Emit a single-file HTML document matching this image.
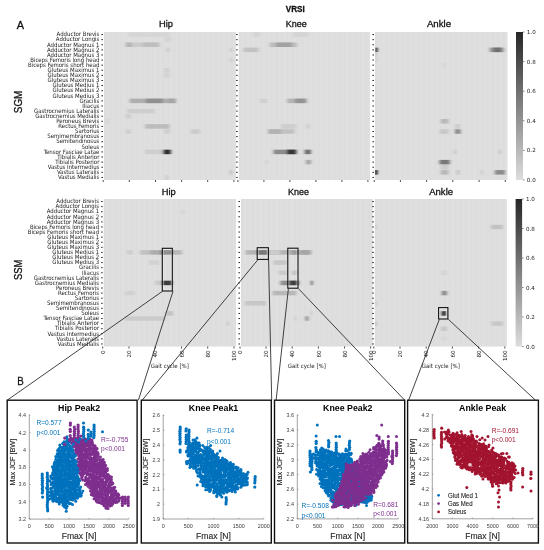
<!DOCTYPE html><html><head><meta charset="utf-8"><style>html,body{margin:0;padding:0;background:#fff;width:544px;height:550px;overflow:hidden}svg{display:block}</style></head><body><svg width="544" height="550" viewBox="0 0 544 550">
<defs><filter id="blur" x="-20%" y="-50%" width="140%" height="200%"><feGaussianBlur stdDeviation="1.8 0.6"/></filter><filter id="blur2" x="-50%" y="-50%" width="200%" height="200%"><feGaussianBlur stdDeviation="0.8 0.6"/></filter><linearGradient id="cbg" x1="0" y1="0" x2="0" y2="1"><stop offset="0" stop-color="rgb(38,38,38)"/><stop offset="1" stop-color="rgb(221,221,221)"/></linearGradient></defs>
<rect width="544" height="550" fill="#fff"/>
<text x="16.8" y="28.7" font-family="'Liberation Sans', Arial, sans-serif" font-size="11.8" fill="#111" stroke="#111" stroke-width="0.3" textLength="7.3" lengthAdjust="spacingAndGlyphs">A</text>
<text x="285.8" y="11.6" font-family="'Liberation Sans', Arial, sans-serif" font-size="9.7" font-weight="bold" fill="#111" stroke="#111" stroke-width="0.3" textLength="19" lengthAdjust="spacingAndGlyphs">VRSI</text>
<clipPath id="tc0"><rect x="104.0" y="32.0" width="132.00" height="148.00"/></clipPath>
<rect x="104.0" y="32.0" width="132.00" height="148.00" fill="rgb(221,221,221)"/>
<g fill="rgb(226,226,226)" opacity="0.5"><rect x="106.64" y="32.0" width="2.64" height="148.00"/><rect x="111.92" y="32.0" width="2.64" height="148.00"/><rect x="117.20" y="32.0" width="2.64" height="148.00"/><rect x="122.48" y="32.0" width="2.64" height="148.00"/><rect x="127.76" y="32.0" width="2.64" height="148.00"/><rect x="133.04" y="32.0" width="2.64" height="148.00"/><rect x="138.32" y="32.0" width="2.64" height="148.00"/><rect x="143.60" y="32.0" width="2.64" height="148.00"/><rect x="148.88" y="32.0" width="2.64" height="148.00"/><rect x="154.16" y="32.0" width="2.64" height="148.00"/><rect x="159.44" y="32.0" width="2.64" height="148.00"/><rect x="164.72" y="32.0" width="2.64" height="148.00"/><rect x="170.00" y="32.0" width="2.64" height="148.00"/><rect x="175.28" y="32.0" width="2.64" height="148.00"/><rect x="180.56" y="32.0" width="2.64" height="148.00"/><rect x="185.84" y="32.0" width="2.64" height="148.00"/><rect x="191.12" y="32.0" width="2.64" height="148.00"/><rect x="196.40" y="32.0" width="2.64" height="148.00"/><rect x="201.68" y="32.0" width="2.64" height="148.00"/><rect x="206.96" y="32.0" width="2.64" height="148.00"/><rect x="212.24" y="32.0" width="2.64" height="148.00"/><rect x="217.52" y="32.0" width="2.64" height="148.00"/><rect x="222.80" y="32.0" width="2.64" height="148.00"/><rect x="228.08" y="32.0" width="2.64" height="148.00"/><rect x="233.36" y="32.0" width="2.64" height="148.00"/></g>
<g clip-path="url(#tc0)" filter="url(#blur)">
<rect x="128.0" y="32.30" width="42.0" height="4.50" fill="rgb(214,214,214)"/>
<rect x="165.6" y="37.40" width="5.2" height="4.50" fill="rgb(210,210,210)"/>
<rect x="125.7" y="42.51" width="34.3" height="4.50" fill="rgb(203,203,203)"/>
<rect x="125.7" y="42.51" width="6.3" height="4.50" fill="rgb(181,181,181)"/>
<rect x="143.0" y="42.51" width="15.0" height="4.50" fill="rgb(190,190,190)"/>
<rect x="164.0" y="68.02" width="5.5" height="4.50" fill="rgb(208,208,208)"/>
<rect x="164.0" y="73.13" width="5.5" height="4.50" fill="rgb(210,210,210)"/>
<rect x="129.6" y="98.64" width="46.4" height="4.50" fill="rgb(175,175,175)"/>
<rect x="146.0" y="98.64" width="17.0" height="4.50" fill="rgb(144,144,144)"/>
<rect x="168.0" y="98.64" width="8.0" height="4.50" fill="rgb(166,166,166)"/>
<rect x="127.0" y="108.85" width="28.0" height="4.50" fill="rgb(206,206,206)"/>
<rect x="125.7" y="113.96" width="5.3" height="4.50" fill="rgb(206,206,206)"/>
<rect x="145.0" y="124.16" width="24.5" height="4.50" fill="rgb(188,188,188)"/>
<rect x="125.7" y="129.27" width="5.3" height="4.50" fill="rgb(206,206,206)"/>
<rect x="164.0" y="129.27" width="6.0" height="4.50" fill="rgb(206,206,206)"/>
<rect x="191.0" y="129.27" width="9.0" height="4.50" fill="rgb(203,203,203)"/>
<rect x="163.0" y="149.68" width="7.8" height="4.50" fill="rgb(47,47,47)"/>
<rect x="145.0" y="149.68" width="18.0" height="4.50" fill="rgb(206,206,206)"/>
</g>
<g clip-path="url(#tc0)" filter="url(#blur2)">
<rect x="165.6" y="47.61" width="4.4" height="4.50" fill="rgb(210,210,210)"/>
<rect x="229.0" y="47.61" width="4.0" height="4.50" fill="rgb(210,210,210)"/>
<rect x="229.0" y="57.82" width="4.0" height="4.50" fill="rgb(212,212,212)"/>
<rect x="106.0" y="119.06" width="3.0" height="4.50" fill="rgb(212,212,212)"/>
<rect x="229.0" y="170.09" width="4.0" height="4.50" fill="rgb(203,203,203)"/>
<rect x="165.0" y="175.20" width="4.0" height="4.50" fill="rgb(210,210,210)"/>
</g>
<path d="M101.4 34.55h1.6 M101.4 39.66h1.6 M101.4 44.76h1.6 M101.4 49.86h1.6 M101.4 54.97h1.6 M101.4 60.07h1.6 M101.4 65.17h1.6 M101.4 70.28h1.6 M101.4 75.38h1.6 M101.4 80.48h1.6 M101.4 85.59h1.6 M101.4 90.69h1.6 M101.4 95.79h1.6 M101.4 100.90h1.6 M101.4 106.00h1.6 M101.4 111.10h1.6 M101.4 116.21h1.6 M101.4 121.31h1.6 M101.4 126.41h1.6 M101.4 131.52h1.6 M101.4 136.62h1.6 M101.4 141.72h1.6 M101.4 146.83h1.6 M101.4 151.93h1.6 M101.4 157.03h1.6 M101.4 162.14h1.6 M101.4 167.24h1.6 M101.4 172.34h1.6 M101.4 177.45h1.6" stroke="#111" stroke-width="0.9" fill="none"/>
<clipPath id="tc1"><rect x="238.7" y="32.0" width="131.30" height="148.00"/></clipPath>
<rect x="238.7" y="32.0" width="131.30" height="148.00" fill="rgb(221,221,221)"/>
<g fill="rgb(226,226,226)" opacity="0.5"><rect x="241.33" y="32.0" width="2.63" height="148.00"/><rect x="246.58" y="32.0" width="2.63" height="148.00"/><rect x="251.83" y="32.0" width="2.63" height="148.00"/><rect x="257.08" y="32.0" width="2.63" height="148.00"/><rect x="262.33" y="32.0" width="2.63" height="148.00"/><rect x="267.59" y="32.0" width="2.63" height="148.00"/><rect x="272.84" y="32.0" width="2.63" height="148.00"/><rect x="278.09" y="32.0" width="2.63" height="148.00"/><rect x="283.34" y="32.0" width="2.63" height="148.00"/><rect x="288.59" y="32.0" width="2.63" height="148.00"/><rect x="293.85" y="32.0" width="2.63" height="148.00"/><rect x="299.10" y="32.0" width="2.63" height="148.00"/><rect x="304.35" y="32.0" width="2.63" height="148.00"/><rect x="309.60" y="32.0" width="2.63" height="148.00"/><rect x="314.85" y="32.0" width="2.63" height="148.00"/><rect x="320.11" y="32.0" width="2.63" height="148.00"/><rect x="325.36" y="32.0" width="2.63" height="148.00"/><rect x="330.61" y="32.0" width="2.63" height="148.00"/><rect x="335.86" y="32.0" width="2.63" height="148.00"/><rect x="341.11" y="32.0" width="2.63" height="148.00"/><rect x="346.37" y="32.0" width="2.63" height="148.00"/><rect x="351.62" y="32.0" width="2.63" height="148.00"/><rect x="356.87" y="32.0" width="2.63" height="148.00"/><rect x="362.12" y="32.0" width="2.63" height="148.00"/><rect x="367.37" y="32.0" width="2.63" height="148.00"/></g>
<g clip-path="url(#tc1)" filter="url(#blur)">
<rect x="253.5" y="32.30" width="6.2" height="4.50" fill="rgb(210,210,210)"/>
<rect x="293.5" y="32.30" width="15.0" height="4.50" fill="rgb(212,212,212)"/>
<rect x="269.7" y="42.51" width="27.3" height="4.50" fill="rgb(188,188,188)"/>
<rect x="276.0" y="42.51" width="16.0" height="4.50" fill="rgb(162,162,162)"/>
<rect x="243.5" y="47.61" width="15.0" height="4.50" fill="rgb(194,194,194)"/>
<rect x="287.0" y="98.64" width="20.0" height="4.50" fill="rgb(181,181,181)"/>
<rect x="294.7" y="98.64" width="11.3" height="4.50" fill="rgb(148,148,148)"/>
<rect x="259.7" y="98.64" width="7.3" height="4.50" fill="rgb(208,208,208)"/>
<rect x="281.0" y="124.16" width="15.0" height="4.50" fill="rgb(206,206,206)"/>
<rect x="268.5" y="129.27" width="26.2" height="4.50" fill="rgb(194,194,194)"/>
<rect x="268.0" y="129.27" width="13.0" height="4.50" fill="rgb(177,177,177)"/>
<rect x="273.5" y="149.68" width="23.5" height="4.50" fill="rgb(139,139,139)"/>
<rect x="287.0" y="149.68" width="9.0" height="4.50" fill="rgb(53,53,53)"/>
<rect x="304.7" y="149.68" width="6.3" height="4.50" fill="rgb(111,111,111)"/>
<rect x="306.0" y="159.89" width="5.0" height="4.50" fill="rgb(166,166,166)"/>
</g>
<g clip-path="url(#tc1)" filter="url(#blur2)">
<rect x="306.0" y="124.16" width="4.0" height="4.50" fill="rgb(210,210,210)"/>
<rect x="265.0" y="159.89" width="3.0" height="4.50" fill="rgb(212,212,212)"/>
</g>
<path d="M236.1 34.55h1.6 M236.1 39.66h1.6 M236.1 44.76h1.6 M236.1 49.86h1.6 M236.1 54.97h1.6 M236.1 60.07h1.6 M236.1 65.17h1.6 M236.1 70.28h1.6 M236.1 75.38h1.6 M236.1 80.48h1.6 M236.1 85.59h1.6 M236.1 90.69h1.6 M236.1 95.79h1.6 M236.1 100.90h1.6 M236.1 106.00h1.6 M236.1 111.10h1.6 M236.1 116.21h1.6 M236.1 121.31h1.6 M236.1 126.41h1.6 M236.1 131.52h1.6 M236.1 136.62h1.6 M236.1 141.72h1.6 M236.1 146.83h1.6 M236.1 151.93h1.6 M236.1 157.03h1.6 M236.1 162.14h1.6 M236.1 167.24h1.6 M236.1 172.34h1.6 M236.1 177.45h1.6" stroke="#111" stroke-width="0.9" fill="none"/>
<clipPath id="tc2"><rect x="375.0" y="32.0" width="132.40" height="148.00"/></clipPath>
<rect x="375.0" y="32.0" width="132.40" height="148.00" fill="rgb(221,221,221)"/>
<g fill="rgb(226,226,226)" opacity="0.5"><rect x="377.65" y="32.0" width="2.65" height="148.00"/><rect x="382.94" y="32.0" width="2.65" height="148.00"/><rect x="388.24" y="32.0" width="2.65" height="148.00"/><rect x="393.54" y="32.0" width="2.65" height="148.00"/><rect x="398.83" y="32.0" width="2.65" height="148.00"/><rect x="404.13" y="32.0" width="2.65" height="148.00"/><rect x="409.42" y="32.0" width="2.65" height="148.00"/><rect x="414.72" y="32.0" width="2.65" height="148.00"/><rect x="420.02" y="32.0" width="2.65" height="148.00"/><rect x="425.31" y="32.0" width="2.65" height="148.00"/><rect x="430.61" y="32.0" width="2.65" height="148.00"/><rect x="435.90" y="32.0" width="2.65" height="148.00"/><rect x="441.20" y="32.0" width="2.65" height="148.00"/><rect x="446.50" y="32.0" width="2.65" height="148.00"/><rect x="451.79" y="32.0" width="2.65" height="148.00"/><rect x="457.09" y="32.0" width="2.65" height="148.00"/><rect x="462.38" y="32.0" width="2.65" height="148.00"/><rect x="467.68" y="32.0" width="2.65" height="148.00"/><rect x="472.98" y="32.0" width="2.65" height="148.00"/><rect x="478.27" y="32.0" width="2.65" height="148.00"/><rect x="483.57" y="32.0" width="2.65" height="148.00"/><rect x="488.86" y="32.0" width="2.65" height="148.00"/><rect x="494.16" y="32.0" width="2.65" height="148.00"/><rect x="499.46" y="32.0" width="2.65" height="148.00"/><rect x="504.75" y="32.0" width="2.65" height="148.00"/></g>
<g clip-path="url(#tc2)" filter="url(#blur)">
<rect x="489.7" y="47.61" width="14.1" height="4.50" fill="rgb(148,148,148)"/>
<rect x="493.5" y="47.61" width="7.5" height="4.50" fill="rgb(111,111,111)"/>
<rect x="440.8" y="119.06" width="7.7" height="4.50" fill="rgb(184,184,184)"/>
<rect x="455.0" y="124.16" width="5.0" height="4.50" fill="rgb(203,203,203)"/>
<rect x="439.5" y="129.27" width="9.0" height="4.50" fill="rgb(199,199,199)"/>
<rect x="455.0" y="129.27" width="5.6" height="4.50" fill="rgb(139,139,139)"/>
<rect x="439.5" y="159.89" width="10.3" height="4.50" fill="rgb(120,120,120)"/>
<rect x="440.8" y="164.99" width="7.7" height="4.50" fill="rgb(203,203,203)"/>
<rect x="440.8" y="170.09" width="7.7" height="4.50" fill="rgb(184,184,184)"/>
<rect x="494.8" y="170.09" width="10.2" height="4.50" fill="rgb(139,139,139)"/>
</g>
<g clip-path="url(#tc2)" filter="url(#blur2)">
<rect x="375.3" y="47.61" width="2.4" height="4.50" fill="rgb(53,53,53)"/>
<rect x="375.0" y="52.71" width="2.0" height="4.50" fill="rgb(203,203,203)"/>
<rect x="375.0" y="57.82" width="2.0" height="4.50" fill="rgb(206,206,206)"/>
<rect x="443.0" y="62.92" width="3.0" height="4.50" fill="rgb(214,214,214)"/>
<rect x="453.0" y="149.68" width="4.0" height="4.50" fill="rgb(208,208,208)"/>
<rect x="498.0" y="149.68" width="4.0" height="4.50" fill="rgb(208,208,208)"/>
<rect x="456.0" y="170.09" width="4.0" height="4.50" fill="rgb(203,203,203)"/>
<rect x="480.0" y="170.09" width="4.0" height="4.50" fill="rgb(212,212,212)"/>
<rect x="374.5" y="170.09" width="3.2" height="4.50" fill="rgb(47,47,47)"/>
</g>
<path d="M372.4 34.55h1.6 M372.4 39.66h1.6 M372.4 44.76h1.6 M372.4 49.86h1.6 M372.4 54.97h1.6 M372.4 60.07h1.6 M372.4 65.17h1.6 M372.4 70.28h1.6 M372.4 75.38h1.6 M372.4 80.48h1.6 M372.4 85.59h1.6 M372.4 90.69h1.6 M372.4 95.79h1.6 M372.4 100.90h1.6 M372.4 106.00h1.6 M372.4 111.10h1.6 M372.4 116.21h1.6 M372.4 121.31h1.6 M372.4 126.41h1.6 M372.4 131.52h1.6 M372.4 136.62h1.6 M372.4 141.72h1.6 M372.4 146.83h1.6 M372.4 151.93h1.6 M372.4 157.03h1.6 M372.4 162.14h1.6 M372.4 167.24h1.6 M372.4 172.34h1.6 M372.4 177.45h1.6" stroke="#111" stroke-width="0.9" fill="none"/>
<g font-family="'DejaVu Sans Condensed', 'DejaVu Sans', sans-serif" font-size="6.0" fill="#1a1a1a" text-anchor="end"><text x="99.4" y="36.30">Adductor Brevis</text><text x="99.4" y="41.41">Adductor Longis</text><text x="99.4" y="46.51">Adductor Magnus 1</text><text x="99.4" y="51.61">Adductor Magnus 2</text><text x="99.4" y="56.72">Adductor Magnus 3</text><text x="99.4" y="61.82">Biceps Femoris long head</text><text x="99.4" y="66.92">Biceps Femoris short head</text><text x="99.4" y="72.03">Gluteus Maximus 1</text><text x="99.4" y="77.13">Gluteus Maximus 2</text><text x="99.4" y="82.23">Gluteus Maximus 3</text><text x="99.4" y="87.34">Gluteus Medius 1</text><text x="99.4" y="92.44">Gluteus Medius 2</text><text x="99.4" y="97.54">Gluteus Medius 3</text><text x="99.4" y="102.65">Gracilis</text><text x="99.4" y="107.75">Iliacus</text><text x="99.4" y="112.85">Gastrocnemius Lateralis</text><text x="99.4" y="117.96">Gastrocnemius Medialis</text><text x="99.4" y="123.06">Peroneus Brevis</text><text x="99.4" y="128.16">Rectus Femoris</text><text x="99.4" y="133.27">Sartorius</text><text x="99.4" y="138.37">Semimembranosus</text><text x="99.4" y="143.47">Semitendinosus</text><text x="99.4" y="148.58">Soleus</text><text x="99.4" y="153.68">Tensor Fasciae Latae</text><text x="99.4" y="158.78">Tibialis Anterior</text><text x="99.4" y="163.89">Tibialis Posterior</text><text x="99.4" y="168.99">Vastus Intermedius</text><text x="99.4" y="174.09">Vastus Lateralis</text><text x="99.4" y="179.20">Vastus Medialis</text></g>
<clipPath id="bc0"><rect x="103.7" y="199.0" width="132.30" height="147.50"/></clipPath>
<rect x="103.7" y="199.0" width="132.30" height="147.50" fill="rgb(221,221,221)"/>
<g fill="rgb(226,226,226)" opacity="0.5"><rect x="106.35" y="199.0" width="2.65" height="147.50"/><rect x="111.64" y="199.0" width="2.65" height="147.50"/><rect x="116.93" y="199.0" width="2.65" height="147.50"/><rect x="122.22" y="199.0" width="2.65" height="147.50"/><rect x="127.51" y="199.0" width="2.65" height="147.50"/><rect x="132.81" y="199.0" width="2.65" height="147.50"/><rect x="138.10" y="199.0" width="2.65" height="147.50"/><rect x="143.39" y="199.0" width="2.65" height="147.50"/><rect x="148.68" y="199.0" width="2.65" height="147.50"/><rect x="153.97" y="199.0" width="2.65" height="147.50"/><rect x="159.27" y="199.0" width="2.65" height="147.50"/><rect x="164.56" y="199.0" width="2.65" height="147.50"/><rect x="169.85" y="199.0" width="2.65" height="147.50"/><rect x="175.14" y="199.0" width="2.65" height="147.50"/><rect x="180.43" y="199.0" width="2.65" height="147.50"/><rect x="185.73" y="199.0" width="2.65" height="147.50"/><rect x="191.02" y="199.0" width="2.65" height="147.50"/><rect x="196.31" y="199.0" width="2.65" height="147.50"/><rect x="201.60" y="199.0" width="2.65" height="147.50"/><rect x="206.89" y="199.0" width="2.65" height="147.50"/><rect x="212.19" y="199.0" width="2.65" height="147.50"/><rect x="217.48" y="199.0" width="2.65" height="147.50"/><rect x="222.77" y="199.0" width="2.65" height="147.50"/><rect x="228.06" y="199.0" width="2.65" height="147.50"/><rect x="233.35" y="199.0" width="2.65" height="147.50"/></g>
<g clip-path="url(#bc0)" filter="url(#blur)">
<rect x="126.8" y="250.16" width="6.2" height="4.49" fill="rgb(206,206,206)"/>
<rect x="140.0" y="250.16" width="10.0" height="4.49" fill="rgb(194,194,194)"/>
<rect x="150.0" y="250.16" width="12.0" height="4.49" fill="rgb(172,172,172)"/>
<rect x="160.0" y="250.16" width="13.0" height="4.49" fill="rgb(144,144,144)"/>
<rect x="173.0" y="250.16" width="9.0" height="4.49" fill="rgb(184,184,184)"/>
<rect x="149.0" y="260.33" width="10.0" height="4.49" fill="rgb(210,210,210)"/>
<rect x="162.0" y="280.68" width="10.0" height="4.49" fill="rgb(60,60,60)"/>
<rect x="155.0" y="280.68" width="7.0" height="4.49" fill="rgb(203,203,203)"/>
<rect x="125.0" y="290.85" width="10.0" height="4.49" fill="rgb(210,210,210)"/>
<rect x="166.0" y="311.20" width="7.0" height="4.49" fill="rgb(194,194,194)"/>
<rect x="125.0" y="316.28" width="40.0" height="4.49" fill="rgb(203,203,203)"/>
</g>
<g clip-path="url(#bc0)" filter="url(#blur2)">
<rect x="226.0" y="321.37" width="4.0" height="4.49" fill="rgb(210,210,210)"/>
<rect x="181.0" y="209.47" width="4.0" height="4.49" fill="rgb(214,214,214)"/>
</g>
<path d="M101.1 201.54h1.6 M101.1 206.63h1.6 M101.1 211.72h1.6 M101.1 216.80h1.6 M101.1 221.89h1.6 M101.1 226.97h1.6 M101.1 232.06h1.6 M101.1 237.15h1.6 M101.1 242.23h1.6 M101.1 247.32h1.6 M101.1 252.41h1.6 M101.1 257.49h1.6 M101.1 262.58h1.6 M101.1 267.66h1.6 M101.1 272.75h1.6 M101.1 277.84h1.6 M101.1 282.92h1.6 M101.1 288.01h1.6 M101.1 293.09h1.6 M101.1 298.18h1.6 M101.1 303.27h1.6 M101.1 308.35h1.6 M101.1 313.44h1.6 M101.1 318.53h1.6 M101.1 323.61h1.6 M101.1 328.70h1.6 M101.1 333.78h1.6 M101.1 338.87h1.6 M101.1 343.96h1.6" stroke="#111" stroke-width="0.9" fill="none"/>
<clipPath id="bc1"><rect x="241.0" y="199.0" width="131.60" height="147.50"/></clipPath>
<rect x="241.0" y="199.0" width="131.60" height="147.50" fill="rgb(221,221,221)"/>
<g fill="rgb(226,226,226)" opacity="0.5"><rect x="243.63" y="199.0" width="2.63" height="147.50"/><rect x="248.90" y="199.0" width="2.63" height="147.50"/><rect x="254.16" y="199.0" width="2.63" height="147.50"/><rect x="259.42" y="199.0" width="2.63" height="147.50"/><rect x="264.69" y="199.0" width="2.63" height="147.50"/><rect x="269.95" y="199.0" width="2.63" height="147.50"/><rect x="275.22" y="199.0" width="2.63" height="147.50"/><rect x="280.48" y="199.0" width="2.63" height="147.50"/><rect x="285.74" y="199.0" width="2.63" height="147.50"/><rect x="291.01" y="199.0" width="2.63" height="147.50"/><rect x="296.27" y="199.0" width="2.63" height="147.50"/><rect x="301.54" y="199.0" width="2.63" height="147.50"/><rect x="306.80" y="199.0" width="2.63" height="147.50"/><rect x="312.06" y="199.0" width="2.63" height="147.50"/><rect x="317.33" y="199.0" width="2.63" height="147.50"/><rect x="322.59" y="199.0" width="2.63" height="147.50"/><rect x="327.86" y="199.0" width="2.63" height="147.50"/><rect x="333.12" y="199.0" width="2.63" height="147.50"/><rect x="338.38" y="199.0" width="2.63" height="147.50"/><rect x="343.65" y="199.0" width="2.63" height="147.50"/><rect x="348.91" y="199.0" width="2.63" height="147.50"/><rect x="354.18" y="199.0" width="2.63" height="147.50"/><rect x="359.44" y="199.0" width="2.63" height="147.50"/><rect x="364.70" y="199.0" width="2.63" height="147.50"/><rect x="369.97" y="199.0" width="2.63" height="147.50"/></g>
<g clip-path="url(#bc1)" filter="url(#blur)">
<rect x="245.6" y="250.16" width="66.0" height="4.49" fill="rgb(181,181,181)"/>
<rect x="257.5" y="250.16" width="10.5" height="4.49" fill="rgb(120,120,120)"/>
<rect x="268.0" y="250.16" width="12.0" height="4.49" fill="rgb(203,203,203)"/>
<rect x="291.0" y="250.16" width="7.0" height="4.49" fill="rgb(157,157,157)"/>
<rect x="300.0" y="250.16" width="10.0" height="4.49" fill="rgb(166,166,166)"/>
<rect x="273.5" y="260.33" width="13.5" height="4.49" fill="rgb(199,199,199)"/>
<rect x="278.6" y="270.51" width="8.4" height="4.49" fill="rgb(203,203,203)"/>
<rect x="292.0" y="270.51" width="5.0" height="4.49" fill="rgb(194,194,194)"/>
<rect x="280.3" y="280.68" width="19.1" height="4.49" fill="rgb(144,144,144)"/>
<rect x="289.5" y="280.68" width="7.5" height="4.49" fill="rgb(60,60,60)"/>
<rect x="272.7" y="290.85" width="23.7" height="4.49" fill="rgb(184,184,184)"/>
<rect x="244.8" y="301.02" width="21.2" height="4.49" fill="rgb(199,199,199)"/>
</g>
<g clip-path="url(#bc1)" filter="url(#blur2)">
<rect x="310.3" y="280.68" width="3.0" height="4.49" fill="rgb(148,148,148)"/>
<rect x="310.0" y="311.20" width="3.0" height="4.49" fill="rgb(210,210,210)"/>
<rect x="304.8" y="316.28" width="4.2" height="4.49" fill="rgb(166,166,166)"/>
<rect x="294.0" y="316.28" width="3.0" height="4.49" fill="rgb(210,210,210)"/>
</g>
<path d="M238.4 201.54h1.6 M238.4 206.63h1.6 M238.4 211.72h1.6 M238.4 216.80h1.6 M238.4 221.89h1.6 M238.4 226.97h1.6 M238.4 232.06h1.6 M238.4 237.15h1.6 M238.4 242.23h1.6 M238.4 247.32h1.6 M238.4 252.41h1.6 M238.4 257.49h1.6 M238.4 262.58h1.6 M238.4 267.66h1.6 M238.4 272.75h1.6 M238.4 277.84h1.6 M238.4 282.92h1.6 M238.4 288.01h1.6 M238.4 293.09h1.6 M238.4 298.18h1.6 M238.4 303.27h1.6 M238.4 308.35h1.6 M238.4 313.44h1.6 M238.4 318.53h1.6 M238.4 323.61h1.6 M238.4 328.70h1.6 M238.4 333.78h1.6 M238.4 338.87h1.6 M238.4 343.96h1.6" stroke="#111" stroke-width="0.9" fill="none"/>
<clipPath id="bc2"><rect x="374.8" y="199.0" width="132.00" height="147.50"/></clipPath>
<rect x="374.8" y="199.0" width="132.00" height="147.50" fill="rgb(221,221,221)"/>
<g fill="rgb(226,226,226)" opacity="0.5"><rect x="377.44" y="199.0" width="2.64" height="147.50"/><rect x="382.72" y="199.0" width="2.64" height="147.50"/><rect x="388.00" y="199.0" width="2.64" height="147.50"/><rect x="393.28" y="199.0" width="2.64" height="147.50"/><rect x="398.56" y="199.0" width="2.64" height="147.50"/><rect x="403.84" y="199.0" width="2.64" height="147.50"/><rect x="409.12" y="199.0" width="2.64" height="147.50"/><rect x="414.40" y="199.0" width="2.64" height="147.50"/><rect x="419.68" y="199.0" width="2.64" height="147.50"/><rect x="424.96" y="199.0" width="2.64" height="147.50"/><rect x="430.24" y="199.0" width="2.64" height="147.50"/><rect x="435.52" y="199.0" width="2.64" height="147.50"/><rect x="440.80" y="199.0" width="2.64" height="147.50"/><rect x="446.08" y="199.0" width="2.64" height="147.50"/><rect x="451.36" y="199.0" width="2.64" height="147.50"/><rect x="456.64" y="199.0" width="2.64" height="147.50"/><rect x="461.92" y="199.0" width="2.64" height="147.50"/><rect x="467.20" y="199.0" width="2.64" height="147.50"/><rect x="472.48" y="199.0" width="2.64" height="147.50"/><rect x="477.76" y="199.0" width="2.64" height="147.50"/><rect x="483.04" y="199.0" width="2.64" height="147.50"/><rect x="488.32" y="199.0" width="2.64" height="147.50"/><rect x="493.60" y="199.0" width="2.64" height="147.50"/><rect x="498.88" y="199.0" width="2.64" height="147.50"/><rect x="504.16" y="199.0" width="2.64" height="147.50"/></g>
<g clip-path="url(#bc2)" filter="url(#blur)">
<rect x="491.0" y="224.73" width="11.7" height="4.49" fill="rgb(194,194,194)"/>
<rect x="441.0" y="270.51" width="6.0" height="4.49" fill="rgb(212,212,212)"/>
<rect x="441.8" y="290.85" width="5.1" height="4.49" fill="rgb(139,139,139)"/>
<rect x="441.0" y="326.46" width="6.0" height="4.49" fill="rgb(199,199,199)"/>
<rect x="441.0" y="336.63" width="6.0" height="4.49" fill="rgb(216,216,216)"/>
<rect x="491.3" y="321.37" width="11.4" height="4.49" fill="rgb(199,199,199)"/>
</g>
<g clip-path="url(#bc2)" filter="url(#blur2)">
<rect x="375.0" y="224.73" width="2.0" height="4.49" fill="rgb(206,206,206)"/>
<rect x="441.5" y="311.20" width="4.5" height="4.49" fill="rgb(60,60,60)"/>
<rect x="375.0" y="301.02" width="2.0" height="4.49" fill="rgb(203,203,203)"/>
<rect x="375.0" y="321.37" width="2.0" height="4.49" fill="rgb(194,194,194)"/>
</g>
<path d="M372.2 201.54h1.6 M372.2 206.63h1.6 M372.2 211.72h1.6 M372.2 216.80h1.6 M372.2 221.89h1.6 M372.2 226.97h1.6 M372.2 232.06h1.6 M372.2 237.15h1.6 M372.2 242.23h1.6 M372.2 247.32h1.6 M372.2 252.41h1.6 M372.2 257.49h1.6 M372.2 262.58h1.6 M372.2 267.66h1.6 M372.2 272.75h1.6 M372.2 277.84h1.6 M372.2 282.92h1.6 M372.2 288.01h1.6 M372.2 293.09h1.6 M372.2 298.18h1.6 M372.2 303.27h1.6 M372.2 308.35h1.6 M372.2 313.44h1.6 M372.2 318.53h1.6 M372.2 323.61h1.6 M372.2 328.70h1.6 M372.2 333.78h1.6 M372.2 338.87h1.6 M372.2 343.96h1.6" stroke="#111" stroke-width="0.9" fill="none"/>
<g font-family="'DejaVu Sans Condensed', 'DejaVu Sans', sans-serif" font-size="6.0" fill="#1a1a1a" text-anchor="end"><text x="99.1" y="203.29">Adductor Brevis</text><text x="99.1" y="208.38">Adductor Longis</text><text x="99.1" y="213.47">Adductor Magnus 1</text><text x="99.1" y="218.55">Adductor Magnus 2</text><text x="99.1" y="223.64">Adductor Magnus 3</text><text x="99.1" y="228.72">Biceps Femoris long head</text><text x="99.1" y="233.81">Biceps Femoris short head</text><text x="99.1" y="238.90">Gluteus Maximus 1</text><text x="99.1" y="243.98">Gluteus Maximus 2</text><text x="99.1" y="249.07">Gluteus Maximus 3</text><text x="99.1" y="254.16">Gluteus Medius 1</text><text x="99.1" y="259.24">Gluteus Medius 2</text><text x="99.1" y="264.33">Gluteus Medius 3</text><text x="99.1" y="269.41">Gracilis</text><text x="99.1" y="274.50">Iliacus</text><text x="99.1" y="279.59">Gastrocnemius Lateralis</text><text x="99.1" y="284.67">Gastrocnemius Medialis</text><text x="99.1" y="289.76">Peroneus Brevis</text><text x="99.1" y="294.84">Rectus Femoris</text><text x="99.1" y="299.93">Sartorius</text><text x="99.1" y="305.02">Semimembranosus</text><text x="99.1" y="310.10">Semitendinosus</text><text x="99.1" y="315.19">Soleus</text><text x="99.1" y="320.28">Tensor Fasciae Latae</text><text x="99.1" y="325.36">Tibialis Anterior</text><text x="99.1" y="330.45">Tibialis Posterior</text><text x="99.1" y="335.53">Vastus Intermedius</text><text x="99.1" y="340.62">Vastus Lateralis</text><text x="99.1" y="345.71">Vastus Medialis</text></g>
<text x="159" y="27.3" font-family="'Liberation Sans', Arial, sans-serif" font-size="9.6" fill="#111" stroke="#111" stroke-width="0.3" textLength="14" lengthAdjust="spacingAndGlyphs">Hip</text>
<text x="285.8" y="27.1" font-family="'Liberation Sans', Arial, sans-serif" font-size="9.6" fill="#111" stroke="#111" stroke-width="0.3" textLength="21" lengthAdjust="spacingAndGlyphs">Knee</text>
<text x="426.9" y="27.1" font-family="'Liberation Sans', Arial, sans-serif" font-size="9.6" fill="#111" stroke="#111" stroke-width="0.3" textLength="24.2" lengthAdjust="spacingAndGlyphs">Ankle</text>
<text x="161.8" y="195" font-family="'Liberation Sans', Arial, sans-serif" font-size="9.6" fill="#111" stroke="#111" stroke-width="0.3" textLength="14" lengthAdjust="spacingAndGlyphs">Hip</text>
<text x="288.1" y="195.1" font-family="'Liberation Sans', Arial, sans-serif" font-size="9.6" fill="#111" stroke="#111" stroke-width="0.3" textLength="20.9" lengthAdjust="spacingAndGlyphs">Knee</text>
<text x="429.2" y="195" font-family="'Liberation Sans', Arial, sans-serif" font-size="9.6" fill="#111" stroke="#111" stroke-width="0.3" textLength="23.9" lengthAdjust="spacingAndGlyphs">Ankle</text>
<text transform="translate(21.6,113.2) rotate(-90)" font-family="'Liberation Sans', Arial, sans-serif" font-size="10.6" fill="#111" stroke="#111" stroke-width="0.3" textLength="22.5" lengthAdjust="spacingAndGlyphs">SGM</text>
<text transform="translate(21.6,280) rotate(-90)" font-family="'Liberation Sans', Arial, sans-serif" font-size="10.6" fill="#111" stroke="#111" stroke-width="0.3" textLength="20.5" lengthAdjust="spacingAndGlyphs">SSM</text>
<rect x="516.0" y="32.0" width="7.0" height="148.0" fill="url(#cbg)"/>
<path d="M523.0 180.00h1.5 M523.0 150.40h1.5 M523.0 120.80h1.5 M523.0 91.20h1.5 M523.0 61.60h1.5 M523.0 32.00h1.5" stroke="#333" stroke-width="0.6"/>
<g font-family="'DejaVu Sans', sans-serif" font-size="5.6" fill="#222"><text x="526.8" y="182.00">0.0</text><text x="526.8" y="152.40">0.2</text><text x="526.8" y="122.80">0.4</text><text x="526.8" y="93.20">0.6</text><text x="526.8" y="63.60">0.8</text><text x="526.8" y="34.00">1.0</text></g>
<rect x="515.6" y="199.0" width="6.5" height="147.5" fill="url(#cbg)"/>
<path d="M522.1 346.50h1.5 M522.1 317.00h1.5 M522.1 287.50h1.5 M522.1 258.00h1.5 M522.1 228.50h1.5 M522.1 199.00h1.5" stroke="#333" stroke-width="0.6"/>
<g font-family="'DejaVu Sans', sans-serif" font-size="5.6" fill="#222"><text x="525.9" y="348.50">0.0</text><text x="525.9" y="319.00">0.2</text><text x="525.9" y="289.50">0.4</text><text x="525.9" y="260.00">0.6</text><text x="525.9" y="230.50">0.8</text><text x="525.9" y="201.00">1.0</text></g>
<path d="M103.2 180.0v2 M129.3 180.0v2 M155.5 180.0v2 M181.6 180.0v2 M207.7 180.0v2 M233.9 180.0v2" stroke="#222" stroke-width="0.8"/>
<path d="M237.9 180.0v2 M263.9 180.0v2 M289.9 180.0v2 M315.9 180.0v2 M341.9 180.0v2 M367.9 180.0v2" stroke="#222" stroke-width="0.8"/>
<path d="M374.2 180.0v2 M400.4 180.0v2 M426.6 180.0v2 M452.8 180.0v2 M479.1 180.0v2 M505.3 180.0v2" stroke="#222" stroke-width="0.8"/>
<path d="M102.7 346.5v2 M129.0 346.5v2 M155.2 346.5v2 M181.5 346.5v2 M207.7 346.5v2 M234.0 346.5v2" stroke="#222" stroke-width="0.8"/>
<g font-family="'DejaVu Sans', sans-serif" font-size="5.6" fill="#222"><text transform="translate(104.9,350.4) rotate(-90)" text-anchor="end">0</text><text transform="translate(131.2,350.4) rotate(-90)" text-anchor="end">20</text><text transform="translate(157.4,350.4) rotate(-90)" text-anchor="end">40</text><text transform="translate(183.7,350.4) rotate(-90)" text-anchor="end">60</text><text transform="translate(209.9,350.4) rotate(-90)" text-anchor="end">80</text><text transform="translate(236.2,350.4) rotate(-90)" text-anchor="end">100</text></g>
<text x="150.8" y="368" font-family="'DejaVu Sans', sans-serif" font-size="5.9" fill="#222" textLength="38" lengthAdjust="spacingAndGlyphs">Gait cycle [%]</text>
<path d="M240.0 346.5v2 M266.1 346.5v2 M292.2 346.5v2 M318.4 346.5v2 M344.5 346.5v2 M370.6 346.5v2" stroke="#222" stroke-width="0.8"/>
<g font-family="'DejaVu Sans', sans-serif" font-size="5.6" fill="#222"><text transform="translate(242.2,350.4) rotate(-90)" text-anchor="end">0</text><text transform="translate(268.3,350.4) rotate(-90)" text-anchor="end">20</text><text transform="translate(294.4,350.4) rotate(-90)" text-anchor="end">40</text><text transform="translate(320.6,350.4) rotate(-90)" text-anchor="end">60</text><text transform="translate(346.7,350.4) rotate(-90)" text-anchor="end">80</text><text transform="translate(372.8,350.4) rotate(-90)" text-anchor="end">100</text></g>
<text x="287.8" y="368" font-family="'DejaVu Sans', sans-serif" font-size="5.9" fill="#222" textLength="38" lengthAdjust="spacingAndGlyphs">Gait cycle [%]</text>
<path d="M373.8 346.5v2 M400.0 346.5v2 M426.2 346.5v2 M452.4 346.5v2 M478.6 346.5v2 M504.8 346.5v2" stroke="#222" stroke-width="0.8"/>
<g font-family="'DejaVu Sans', sans-serif" font-size="5.6" fill="#222"><text transform="translate(376.0,350.4) rotate(-90)" text-anchor="end">0</text><text transform="translate(402.2,350.4) rotate(-90)" text-anchor="end">20</text><text transform="translate(428.4,350.4) rotate(-90)" text-anchor="end">40</text><text transform="translate(454.6,350.4) rotate(-90)" text-anchor="end">60</text><text transform="translate(480.8,350.4) rotate(-90)" text-anchor="end">80</text><text transform="translate(507.0,350.4) rotate(-90)" text-anchor="end">100</text></g>
<text x="421.8" y="368" font-family="'DejaVu Sans', sans-serif" font-size="5.9" fill="#222" textLength="38" lengthAdjust="spacingAndGlyphs">Gait cycle [%]</text>
<rect x="163.20000000000002" y="249.20000000000002" width="8.2" height="40.89999999999999" fill="none" stroke="#fff" stroke-width="0.8" opacity="0.45"/>
<rect x="162.3" y="248.3" width="10.0" height="42.69999999999999" fill="none" stroke="#111" stroke-width="1.1"/>
<rect x="258.09999999999997" y="248.6" width="9.399999999999988" height="9.899999999999988" fill="none" stroke="#fff" stroke-width="0.8" opacity="0.45"/>
<rect x="257.2" y="247.7" width="11.199999999999989" height="11.699999999999989" fill="none" stroke="#111" stroke-width="1.1"/>
<rect x="288.7" y="249.1" width="8.399999999999988" height="38.2" fill="none" stroke="#fff" stroke-width="0.8" opacity="0.45"/>
<rect x="287.8" y="248.2" width="10.199999999999989" height="40.0" fill="none" stroke="#111" stroke-width="1.1"/>
<rect x="439.5" y="308.5" width="7.499999999999955" height="9.599999999999977" fill="none" stroke="#fff" stroke-width="0.8" opacity="0.45"/>
<rect x="438.6" y="307.6" width="9.299999999999955" height="11.399999999999977" fill="none" stroke="#111" stroke-width="1.1"/>
<path d="M162.6 291.2L7.2 400.2M173.0 291.2L138.4 400.2M258.0 259.6L142.2 400.2M268.6 259.6L271.7 400.2M288.4 288.6L276.1 400.2M298.4 288.6L404.7 400.2M439.3 319.4L408.6 400.2M448.4 319.4L535.5 400.2" stroke="#222" stroke-width="0.85" fill="none"/>
<text x="17.2" y="385" font-family="'Liberation Sans', Arial, sans-serif" font-size="11.8" fill="#111" stroke="#111" stroke-width="0.3" textLength="6.5" lengthAdjust="spacingAndGlyphs">B</text>
<rect x="7.2" y="400.2" width="129.9" height="142.8" fill="#fff" stroke="#111" stroke-width="1.4"/>
<rect x="141.3" y="400.2" width="130.0" height="142.8" fill="#fff" stroke="#111" stroke-width="1.4"/>
<rect x="274.5" y="400.2" width="130.2" height="142.8" fill="#fff" stroke="#111" stroke-width="1.4"/>
<rect x="407.6" y="400.2" width="130.8" height="142.8" fill="#fff" stroke="#111" stroke-width="1.4"/>
<path d="M29.3 414.3V519.1H128.8" stroke="#7a7a7a" stroke-width="0.7" fill="none"/>
<path d="M29.3 519.1v-1.2 M49.2 519.1v-1.2 M69.1 519.1v-1.2 M89.0 519.1v-1.2 M108.9 519.1v-1.2 M128.8 519.1v-1.2 M29.3 519.1h1.2 M29.3 501.8h1.2 M29.3 484.5h1.2 M29.3 467.2h1.2 M29.3 449.9h1.2 M29.3 432.6h1.2 M29.3 415.3h1.2" stroke="#7a7a7a" stroke-width="0.6"/>
<g font-family="'Liberation Sans', Arial, sans-serif" font-size="5.4" fill="#3a3a3a"><text x="29.3" y="528.0" text-anchor="middle">0</text><text x="49.2" y="528.0" text-anchor="middle">500</text><text x="69.1" y="528.0" text-anchor="middle">1000</text><text x="89.0" y="528.0" text-anchor="middle">1500</text><text x="108.9" y="528.0" text-anchor="middle">2000</text><text x="128.8" y="528.0" text-anchor="middle">2500</text><text x="26.1" y="521.0" text-anchor="end">3.2</text><text x="26.1" y="503.7" text-anchor="end">3.4</text><text x="26.1" y="486.4" text-anchor="end">3.6</text><text x="26.1" y="469.1" text-anchor="end">3.8</text><text x="26.1" y="451.8" text-anchor="end">4</text><text x="26.1" y="434.5" text-anchor="end">4.2</text><text x="26.1" y="417.2" text-anchor="end">4.4</text></g>
<text x="79.1" y="410.7" text-anchor="middle" font-family="'Liberation Sans', Arial, sans-serif" font-size="8.8" font-weight="bold" fill="#000">Hip Peak2</text>
<text x="79.1" y="538.8" text-anchor="middle" font-family="'Liberation Sans', Arial, sans-serif" font-size="8.6" fill="#262626" stroke="#262626" stroke-width="0.12">Fmax [N]</text>
<text transform="translate(15.0,462.2) rotate(-90)" text-anchor="middle" font-family="'Liberation Sans', Arial, sans-serif" font-size="7.25" fill="#262626" stroke="#262626" stroke-width="0.12">Max JCF [BW]</text>
<g fill="rgb(0,114,189)"><circle cx="42.2" cy="474.0" r="1.6"/><circle cx="42.2" cy="476.1" r="1.6"/><circle cx="42.3" cy="478.2" r="1.6"/><circle cx="42.4" cy="480.3" r="1.6"/><circle cx="42.4" cy="482.4" r="1.6"/><circle cx="42.2" cy="484.5" r="1.6"/><circle cx="42.6" cy="486.6" r="1.6"/><circle cx="42.3" cy="488.7" r="1.6"/><circle cx="42.6" cy="490.8" r="1.6"/><circle cx="42.3" cy="492.9" r="1.6"/><circle cx="42.6" cy="497.1" r="1.6"/><circle cx="47.3" cy="473.0" r="1.6"/><circle cx="47.4" cy="475.1" r="1.6"/><circle cx="47.3" cy="477.2" r="1.6"/><circle cx="47.6" cy="479.3" r="1.6"/><circle cx="47.5" cy="481.4" r="1.6"/><circle cx="47.3" cy="483.5" r="1.6"/><circle cx="47.6" cy="485.6" r="1.6"/><circle cx="47.4" cy="487.7" r="1.6"/><circle cx="47.5" cy="489.8" r="1.6"/><circle cx="47.6" cy="491.9" r="1.6"/><circle cx="47.4" cy="494.0" r="1.6"/><circle cx="47.5" cy="496.1" r="1.6"/><circle cx="47.6" cy="498.2" r="1.6"/><circle cx="47.7" cy="500.3" r="1.6"/><circle cx="47.5" cy="502.4" r="1.6"/><circle cx="47.3" cy="504.5" r="1.6"/><circle cx="47.3" cy="506.6" r="1.6"/><circle cx="47.6" cy="508.7" r="1.6"/><circle cx="47.7" cy="510.8" r="1.6"/><circle cx="46.6" cy="488.1" r="1.5"/><circle cx="49.7" cy="481.1" r="1.5"/><circle cx="50.3" cy="492.1" r="1.5"/><circle cx="49.7" cy="495.8" r="1.5"/><circle cx="49.3" cy="498.9" r="1.5"/><circle cx="50.8" cy="476.1" r="1.5"/><circle cx="51.0" cy="476.9" r="1.5"/><circle cx="51.2" cy="478.2" r="1.5"/><circle cx="51.4" cy="482.7" r="1.5"/><circle cx="51.2" cy="484.4" r="1.5"/><circle cx="50.8" cy="488.2" r="1.5"/><circle cx="51.0" cy="489.3" r="1.5"/><circle cx="51.4" cy="491.3" r="1.5"/><circle cx="51.1" cy="493.5" r="1.5"/><circle cx="51.7" cy="495.2" r="1.5"/><circle cx="51.1" cy="498.6" r="1.5"/><circle cx="52.4" cy="466.7" r="1.5"/><circle cx="53.2" cy="469.0" r="1.5"/><circle cx="53.5" cy="470.6" r="1.5"/><circle cx="52.7" cy="472.7" r="1.5"/><circle cx="52.6" cy="474.6" r="1.5"/><circle cx="53.0" cy="477.7" r="1.5"/><circle cx="52.5" cy="479.2" r="1.5"/><circle cx="53.3" cy="482.0" r="1.5"/><circle cx="53.3" cy="483.3" r="1.5"/><circle cx="53.6" cy="484.9" r="1.5"/><circle cx="53.5" cy="486.8" r="1.5"/><circle cx="52.6" cy="487.6" r="1.5"/><circle cx="52.6" cy="491.4" r="1.5"/><circle cx="52.8" cy="494.1" r="1.5"/><circle cx="52.4" cy="496.1" r="1.5"/><circle cx="53.0" cy="497.5" r="1.5"/><circle cx="53.4" cy="498.9" r="1.5"/><circle cx="52.7" cy="499.8" r="1.5"/><circle cx="53.1" cy="501.2" r="1.5"/><circle cx="55.1" cy="461.7" r="1.5"/><circle cx="54.6" cy="462.6" r="1.5"/><circle cx="54.2" cy="464.1" r="1.5"/><circle cx="54.2" cy="466.1" r="1.5"/><circle cx="54.7" cy="467.5" r="1.5"/><circle cx="54.7" cy="469.5" r="1.5"/><circle cx="54.7" cy="470.4" r="1.5"/><circle cx="54.9" cy="472.2" r="1.5"/><circle cx="54.9" cy="474.2" r="1.5"/><circle cx="54.7" cy="475.2" r="1.5"/><circle cx="54.8" cy="476.6" r="1.5"/><circle cx="54.6" cy="478.7" r="1.5"/><circle cx="55.1" cy="480.2" r="1.5"/><circle cx="54.7" cy="481.7" r="1.5"/><circle cx="54.2" cy="482.2" r="1.5"/><circle cx="54.1" cy="483.9" r="1.5"/><circle cx="54.8" cy="486.0" r="1.5"/><circle cx="54.9" cy="488.9" r="1.5"/><circle cx="55.1" cy="490.7" r="1.5"/><circle cx="55.1" cy="491.5" r="1.5"/><circle cx="55.2" cy="493.6" r="1.5"/><circle cx="54.5" cy="494.7" r="1.5"/><circle cx="54.2" cy="495.9" r="1.5"/><circle cx="54.0" cy="497.7" r="1.5"/><circle cx="54.0" cy="499.0" r="1.5"/><circle cx="54.6" cy="500.1" r="1.5"/><circle cx="55.8" cy="456.5" r="1.5"/><circle cx="55.9" cy="459.2" r="1.5"/><circle cx="56.4" cy="462.1" r="1.5"/><circle cx="56.4" cy="464.0" r="1.5"/><circle cx="56.7" cy="465.8" r="1.5"/><circle cx="55.7" cy="467.5" r="1.5"/><circle cx="56.6" cy="468.6" r="1.5"/><circle cx="56.3" cy="470.6" r="1.5"/><circle cx="55.8" cy="471.6" r="1.5"/><circle cx="55.7" cy="472.7" r="1.5"/><circle cx="55.8" cy="474.4" r="1.5"/><circle cx="56.5" cy="475.9" r="1.5"/><circle cx="55.8" cy="477.4" r="1.5"/><circle cx="55.9" cy="478.5" r="1.5"/><circle cx="56.3" cy="480.2" r="1.5"/><circle cx="56.7" cy="481.6" r="1.5"/><circle cx="56.1" cy="483.6" r="1.5"/><circle cx="56.1" cy="485.1" r="1.5"/><circle cx="56.8" cy="486.4" r="1.5"/><circle cx="56.4" cy="488.3" r="1.5"/><circle cx="56.0" cy="489.1" r="1.5"/><circle cx="55.7" cy="491.4" r="1.5"/><circle cx="55.8" cy="492.1" r="1.5"/><circle cx="56.6" cy="494.3" r="1.5"/><circle cx="55.9" cy="495.4" r="1.5"/><circle cx="55.8" cy="497.0" r="1.5"/><circle cx="56.8" cy="499.2" r="1.5"/><circle cx="55.9" cy="500.7" r="1.5"/><circle cx="56.0" cy="501.0" r="1.5"/><circle cx="57.5" cy="450.6" r="1.5"/><circle cx="57.2" cy="453.8" r="1.5"/><circle cx="57.9" cy="455.6" r="1.5"/><circle cx="58.0" cy="457.3" r="1.5"/><circle cx="57.6" cy="460.6" r="1.5"/><circle cx="58.1" cy="461.7" r="1.5"/><circle cx="58.2" cy="463.5" r="1.5"/><circle cx="58.1" cy="464.9" r="1.5"/><circle cx="57.8" cy="466.1" r="1.5"/><circle cx="58.2" cy="467.9" r="1.5"/><circle cx="58.3" cy="469.3" r="1.5"/><circle cx="57.5" cy="470.0" r="1.5"/><circle cx="57.6" cy="471.6" r="1.5"/><circle cx="57.9" cy="473.7" r="1.5"/><circle cx="58.0" cy="475.0" r="1.5"/><circle cx="58.2" cy="476.9" r="1.5"/><circle cx="57.8" cy="478.2" r="1.5"/><circle cx="58.1" cy="479.3" r="1.5"/><circle cx="57.5" cy="481.3" r="1.5"/><circle cx="58.1" cy="483.1" r="1.5"/><circle cx="57.7" cy="484.0" r="1.5"/><circle cx="58.1" cy="485.7" r="1.5"/><circle cx="57.3" cy="486.6" r="1.5"/><circle cx="58.1" cy="488.3" r="1.5"/><circle cx="57.2" cy="489.5" r="1.5"/><circle cx="58.0" cy="491.8" r="1.5"/><circle cx="57.5" cy="493.1" r="1.5"/><circle cx="57.8" cy="494.1" r="1.5"/><circle cx="58.4" cy="498.1" r="1.5"/><circle cx="57.8" cy="499.4" r="1.5"/><circle cx="57.5" cy="501.7" r="1.5"/><circle cx="59.8" cy="445.0" r="1.5"/><circle cx="59.1" cy="448.5" r="1.5"/><circle cx="58.8" cy="448.9" r="1.5"/><circle cx="59.3" cy="450.7" r="1.5"/><circle cx="59.2" cy="452.3" r="1.5"/><circle cx="58.8" cy="454.3" r="1.5"/><circle cx="58.9" cy="456.0" r="1.5"/><circle cx="59.9" cy="456.7" r="1.5"/><circle cx="59.3" cy="459.1" r="1.5"/><circle cx="59.2" cy="459.9" r="1.5"/><circle cx="58.9" cy="461.0" r="1.5"/><circle cx="59.1" cy="463.5" r="1.5"/><circle cx="59.1" cy="464.5" r="1.5"/><circle cx="59.2" cy="466.5" r="1.5"/><circle cx="59.6" cy="469.5" r="1.5"/><circle cx="59.7" cy="471.4" r="1.5"/><circle cx="59.3" cy="473.8" r="1.5"/><circle cx="59.1" cy="474.4" r="1.5"/><circle cx="59.4" cy="477.8" r="1.5"/><circle cx="59.7" cy="480.0" r="1.5"/><circle cx="59.6" cy="480.7" r="1.5"/><circle cx="59.3" cy="482.1" r="1.5"/><circle cx="59.0" cy="484.5" r="1.5"/><circle cx="59.1" cy="486.0" r="1.5"/><circle cx="59.0" cy="488.1" r="1.5"/><circle cx="59.2" cy="489.5" r="1.5"/><circle cx="59.1" cy="491.6" r="1.5"/><circle cx="59.3" cy="494.4" r="1.5"/><circle cx="59.3" cy="495.8" r="1.5"/><circle cx="59.1" cy="498.0" r="1.5"/><circle cx="59.4" cy="499.1" r="1.5"/><circle cx="59.1" cy="501.7" r="1.5"/><circle cx="59.3" cy="504.0" r="1.5"/><circle cx="60.4" cy="447.1" r="1.5"/><circle cx="61.4" cy="450.8" r="1.5"/><circle cx="60.5" cy="451.3" r="1.5"/><circle cx="61.2" cy="453.7" r="1.5"/><circle cx="61.2" cy="455.0" r="1.5"/><circle cx="61.1" cy="455.6" r="1.5"/><circle cx="60.7" cy="458.2" r="1.5"/><circle cx="60.8" cy="458.8" r="1.5"/><circle cx="61.2" cy="460.9" r="1.5"/><circle cx="60.5" cy="462.2" r="1.5"/><circle cx="60.9" cy="463.4" r="1.5"/><circle cx="60.4" cy="465.0" r="1.5"/><circle cx="61.6" cy="466.9" r="1.5"/><circle cx="60.7" cy="469.4" r="1.5"/><circle cx="60.8" cy="472.1" r="1.5"/><circle cx="61.2" cy="474.1" r="1.5"/><circle cx="61.2" cy="476.2" r="1.5"/><circle cx="60.4" cy="477.0" r="1.5"/><circle cx="61.2" cy="478.3" r="1.5"/><circle cx="61.3" cy="480.2" r="1.5"/><circle cx="61.6" cy="481.5" r="1.5"/><circle cx="60.7" cy="482.9" r="1.5"/><circle cx="60.8" cy="485.2" r="1.5"/><circle cx="60.6" cy="485.9" r="1.5"/><circle cx="61.2" cy="488.2" r="1.5"/><circle cx="60.9" cy="488.9" r="1.5"/><circle cx="60.5" cy="491.7" r="1.5"/><circle cx="61.5" cy="494.2" r="1.5"/><circle cx="61.6" cy="495.7" r="1.5"/><circle cx="60.6" cy="497.2" r="1.5"/><circle cx="60.4" cy="498.4" r="1.5"/><circle cx="60.8" cy="499.5" r="1.5"/><circle cx="60.4" cy="500.9" r="1.5"/><circle cx="61.5" cy="502.2" r="1.5"/><circle cx="62.6" cy="443.6" r="1.5"/><circle cx="62.4" cy="447.3" r="1.5"/><circle cx="62.5" cy="448.7" r="1.5"/><circle cx="62.0" cy="449.2" r="1.5"/><circle cx="63.1" cy="451.0" r="1.5"/><circle cx="63.1" cy="452.6" r="1.5"/><circle cx="63.1" cy="454.4" r="1.5"/><circle cx="62.9" cy="455.6" r="1.5"/><circle cx="62.0" cy="457.6" r="1.5"/><circle cx="63.1" cy="459.7" r="1.5"/><circle cx="62.6" cy="462.3" r="1.5"/><circle cx="62.3" cy="464.7" r="1.5"/><circle cx="63.1" cy="465.9" r="1.5"/><circle cx="62.9" cy="468.2" r="1.5"/><circle cx="62.7" cy="469.1" r="1.5"/><circle cx="62.4" cy="471.1" r="1.5"/><circle cx="62.2" cy="472.6" r="1.5"/><circle cx="62.1" cy="473.2" r="1.5"/><circle cx="62.4" cy="475.9" r="1.5"/><circle cx="62.1" cy="479.3" r="1.5"/><circle cx="62.9" cy="481.2" r="1.5"/><circle cx="62.5" cy="482.9" r="1.5"/><circle cx="62.9" cy="484.7" r="1.5"/><circle cx="62.1" cy="486.2" r="1.5"/><circle cx="62.7" cy="487.1" r="1.5"/><circle cx="62.2" cy="488.5" r="1.5"/><circle cx="62.2" cy="490.8" r="1.5"/><circle cx="62.4" cy="491.7" r="1.5"/><circle cx="62.3" cy="495.2" r="1.5"/><circle cx="63.2" cy="495.8" r="1.5"/><circle cx="63.0" cy="498.2" r="1.5"/><circle cx="62.4" cy="500.3" r="1.5"/><circle cx="63.2" cy="502.4" r="1.5"/><circle cx="63.0" cy="505.2" r="1.5"/><circle cx="64.0" cy="441.7" r="1.5"/><circle cx="63.9" cy="443.7" r="1.5"/><circle cx="63.8" cy="444.5" r="1.5"/><circle cx="64.4" cy="446.2" r="1.5"/><circle cx="63.8" cy="448.5" r="1.5"/><circle cx="63.7" cy="449.1" r="1.5"/><circle cx="64.3" cy="451.3" r="1.5"/><circle cx="63.8" cy="452.8" r="1.5"/><circle cx="63.9" cy="453.9" r="1.5"/><circle cx="64.3" cy="456.9" r="1.5"/><circle cx="64.6" cy="459.2" r="1.5"/><circle cx="63.8" cy="460.4" r="1.5"/><circle cx="63.6" cy="462.1" r="1.5"/><circle cx="64.6" cy="463.0" r="1.5"/><circle cx="63.8" cy="465.5" r="1.5"/><circle cx="64.4" cy="468.1" r="1.5"/><circle cx="64.3" cy="468.9" r="1.5"/><circle cx="63.8" cy="470.3" r="1.5"/><circle cx="64.7" cy="471.6" r="1.5"/><circle cx="64.6" cy="474.2" r="1.5"/><circle cx="63.8" cy="475.6" r="1.5"/><circle cx="63.7" cy="478.6" r="1.5"/><circle cx="64.7" cy="479.7" r="1.5"/><circle cx="63.8" cy="481.4" r="1.5"/><circle cx="64.1" cy="483.0" r="1.5"/><circle cx="63.8" cy="483.8" r="1.5"/><circle cx="64.2" cy="485.5" r="1.5"/><circle cx="63.9" cy="487.4" r="1.5"/><circle cx="64.3" cy="490.4" r="1.5"/><circle cx="64.6" cy="491.1" r="1.5"/><circle cx="64.3" cy="493.3" r="1.5"/><circle cx="64.1" cy="494.7" r="1.5"/><circle cx="64.4" cy="496.0" r="1.5"/><circle cx="63.6" cy="497.7" r="1.5"/><circle cx="63.9" cy="499.4" r="1.5"/><circle cx="64.1" cy="500.2" r="1.5"/><circle cx="63.7" cy="501.7" r="1.5"/><circle cx="63.7" cy="503.5" r="1.5"/><circle cx="63.6" cy="505.3" r="1.5"/><circle cx="64.5" cy="506.9" r="1.5"/><circle cx="66.2" cy="441.5" r="1.5"/><circle cx="66.3" cy="445.4" r="1.5"/><circle cx="66.1" cy="446.9" r="1.5"/><circle cx="65.6" cy="448.2" r="1.5"/><circle cx="66.3" cy="449.1" r="1.5"/><circle cx="65.4" cy="450.9" r="1.5"/><circle cx="65.5" cy="453.9" r="1.5"/><circle cx="65.2" cy="455.0" r="1.5"/><circle cx="66.3" cy="457.1" r="1.5"/><circle cx="66.1" cy="459.4" r="1.5"/><circle cx="66.0" cy="461.2" r="1.5"/><circle cx="65.9" cy="464.9" r="1.5"/><circle cx="66.4" cy="466.1" r="1.5"/><circle cx="66.2" cy="467.1" r="1.5"/><circle cx="65.6" cy="470.7" r="1.5"/><circle cx="65.4" cy="472.2" r="1.5"/><circle cx="66.2" cy="473.1" r="1.5"/><circle cx="66.4" cy="475.0" r="1.5"/><circle cx="65.6" cy="475.8" r="1.5"/><circle cx="65.4" cy="478.0" r="1.5"/><circle cx="65.8" cy="479.9" r="1.5"/><circle cx="65.5" cy="481.1" r="1.5"/><circle cx="65.2" cy="482.2" r="1.5"/><circle cx="65.6" cy="483.6" r="1.5"/><circle cx="65.9" cy="485.0" r="1.5"/><circle cx="65.8" cy="486.5" r="1.5"/><circle cx="65.4" cy="489.4" r="1.5"/><circle cx="66.2" cy="491.7" r="1.5"/><circle cx="65.5" cy="492.3" r="1.5"/><circle cx="65.9" cy="494.2" r="1.5"/><circle cx="65.7" cy="496.4" r="1.5"/><circle cx="65.5" cy="497.9" r="1.5"/><circle cx="65.8" cy="498.8" r="1.5"/><circle cx="65.3" cy="500.7" r="1.5"/><circle cx="65.9" cy="502.4" r="1.5"/><circle cx="65.4" cy="503.5" r="1.5"/><circle cx="66.0" cy="505.3" r="1.5"/><circle cx="65.6" cy="506.2" r="1.5"/><circle cx="66.3" cy="508.2" r="1.5"/><circle cx="66.2" cy="511.2" r="1.5"/><circle cx="66.9" cy="436.7" r="1.5"/><circle cx="67.2" cy="438.8" r="1.5"/><circle cx="67.8" cy="440.3" r="1.5"/><circle cx="67.5" cy="441.5" r="1.5"/><circle cx="67.4" cy="442.8" r="1.5"/><circle cx="68.0" cy="444.2" r="1.5"/><circle cx="67.1" cy="447.2" r="1.5"/><circle cx="67.9" cy="449.3" r="1.5"/><circle cx="67.9" cy="450.3" r="1.5"/><circle cx="67.9" cy="452.2" r="1.5"/><circle cx="67.6" cy="454.1" r="1.5"/><circle cx="67.8" cy="455.3" r="1.5"/><circle cx="67.7" cy="458.1" r="1.5"/><circle cx="67.1" cy="459.7" r="1.5"/><circle cx="67.9" cy="460.6" r="1.5"/><circle cx="66.9" cy="463.0" r="1.5"/><circle cx="67.0" cy="463.5" r="1.5"/><circle cx="67.6" cy="465.7" r="1.5"/><circle cx="67.7" cy="466.5" r="1.5"/><circle cx="67.2" cy="468.9" r="1.5"/><circle cx="67.9" cy="469.5" r="1.5"/><circle cx="67.0" cy="475.6" r="1.5"/><circle cx="67.8" cy="477.9" r="1.5"/><circle cx="67.8" cy="479.2" r="1.5"/><circle cx="66.9" cy="480.1" r="1.5"/><circle cx="67.0" cy="481.8" r="1.5"/><circle cx="66.8" cy="483.2" r="1.5"/><circle cx="67.7" cy="484.9" r="1.5"/><circle cx="68.0" cy="486.5" r="1.5"/><circle cx="66.8" cy="489.4" r="1.5"/><circle cx="67.7" cy="490.8" r="1.5"/><circle cx="67.4" cy="492.2" r="1.5"/><circle cx="67.8" cy="495.1" r="1.5"/><circle cx="67.0" cy="497.3" r="1.5"/><circle cx="67.4" cy="500.0" r="1.5"/><circle cx="67.0" cy="501.5" r="1.5"/><circle cx="67.8" cy="502.7" r="1.5"/><circle cx="67.1" cy="506.3" r="1.5"/><circle cx="68.8" cy="440.5" r="1.5"/><circle cx="69.5" cy="441.7" r="1.5"/><circle cx="68.6" cy="444.9" r="1.5"/><circle cx="68.9" cy="448.6" r="1.5"/><circle cx="69.0" cy="449.7" r="1.5"/><circle cx="69.3" cy="451.3" r="1.5"/><circle cx="68.8" cy="452.3" r="1.5"/><circle cx="69.2" cy="454.5" r="1.5"/><circle cx="68.9" cy="456.0" r="1.5"/><circle cx="68.6" cy="457.1" r="1.5"/><circle cx="68.6" cy="459.9" r="1.5"/><circle cx="69.4" cy="461.3" r="1.5"/><circle cx="68.7" cy="463.0" r="1.5"/><circle cx="68.6" cy="464.5" r="1.5"/><circle cx="69.6" cy="466.4" r="1.5"/><circle cx="69.6" cy="467.2" r="1.5"/><circle cx="69.6" cy="469.5" r="1.5"/><circle cx="68.9" cy="470.3" r="1.5"/><circle cx="68.5" cy="471.8" r="1.5"/><circle cx="68.4" cy="473.5" r="1.5"/><circle cx="69.2" cy="475.2" r="1.5"/><circle cx="69.0" cy="476.2" r="1.5"/><circle cx="68.9" cy="478.5" r="1.5"/><circle cx="69.1" cy="481.5" r="1.5"/><circle cx="68.7" cy="482.9" r="1.5"/><circle cx="69.2" cy="486.1" r="1.5"/><circle cx="69.2" cy="487.1" r="1.5"/><circle cx="69.2" cy="488.2" r="1.5"/><circle cx="69.3" cy="490.4" r="1.5"/><circle cx="68.7" cy="491.6" r="1.5"/><circle cx="69.1" cy="493.1" r="1.5"/><circle cx="69.5" cy="494.3" r="1.5"/><circle cx="69.3" cy="496.0" r="1.5"/><circle cx="69.6" cy="497.1" r="1.5"/><circle cx="68.6" cy="499.5" r="1.5"/><circle cx="68.5" cy="502.3" r="1.5"/><circle cx="69.3" cy="503.7" r="1.5"/><circle cx="70.9" cy="442.7" r="1.5"/><circle cx="70.1" cy="445.9" r="1.5"/><circle cx="70.0" cy="447.6" r="1.5"/><circle cx="70.8" cy="449.0" r="1.5"/><circle cx="70.3" cy="451.0" r="1.5"/><circle cx="70.3" cy="454.1" r="1.5"/><circle cx="70.3" cy="454.8" r="1.5"/><circle cx="71.0" cy="456.9" r="1.5"/><circle cx="70.7" cy="457.9" r="1.5"/><circle cx="70.8" cy="461.6" r="1.5"/><circle cx="70.6" cy="462.5" r="1.5"/><circle cx="70.2" cy="464.6" r="1.5"/><circle cx="71.0" cy="465.4" r="1.5"/><circle cx="70.3" cy="467.1" r="1.5"/><circle cx="70.0" cy="469.0" r="1.5"/><circle cx="70.3" cy="470.0" r="1.5"/><circle cx="70.5" cy="471.9" r="1.5"/><circle cx="70.4" cy="473.7" r="1.5"/><circle cx="71.0" cy="476.7" r="1.5"/><circle cx="70.2" cy="478.1" r="1.5"/><circle cx="70.0" cy="478.6" r="1.5"/><circle cx="70.3" cy="481.7" r="1.5"/><circle cx="70.3" cy="484.0" r="1.5"/><circle cx="70.2" cy="485.7" r="1.5"/><circle cx="70.2" cy="487.2" r="1.5"/><circle cx="70.9" cy="488.4" r="1.5"/><circle cx="71.0" cy="490.8" r="1.5"/><circle cx="70.6" cy="493.0" r="1.5"/><circle cx="71.1" cy="494.3" r="1.5"/><circle cx="70.3" cy="495.3" r="1.5"/><circle cx="70.1" cy="497.2" r="1.5"/><circle cx="70.6" cy="498.7" r="1.5"/><circle cx="71.0" cy="499.6" r="1.5"/><circle cx="70.7" cy="503.4" r="1.5"/><circle cx="72.3" cy="446.6" r="1.5"/><circle cx="72.8" cy="449.4" r="1.5"/><circle cx="72.7" cy="450.3" r="1.5"/><circle cx="72.4" cy="452.2" r="1.5"/><circle cx="72.2" cy="455.4" r="1.5"/><circle cx="71.9" cy="456.8" r="1.5"/><circle cx="72.3" cy="458.8" r="1.5"/><circle cx="72.6" cy="459.8" r="1.5"/><circle cx="71.9" cy="461.4" r="1.5"/><circle cx="72.6" cy="464.2" r="1.5"/><circle cx="72.0" cy="466.0" r="1.5"/><circle cx="72.5" cy="466.8" r="1.5"/><circle cx="72.7" cy="469.0" r="1.5"/><circle cx="72.0" cy="469.8" r="1.5"/><circle cx="72.7" cy="472.0" r="1.5"/><circle cx="72.5" cy="473.9" r="1.5"/><circle cx="72.3" cy="475.1" r="1.5"/><circle cx="72.3" cy="476.6" r="1.5"/><circle cx="72.4" cy="477.8" r="1.5"/><circle cx="71.7" cy="479.0" r="1.5"/><circle cx="72.5" cy="481.4" r="1.5"/><circle cx="72.0" cy="482.8" r="1.5"/><circle cx="72.3" cy="483.6" r="1.5"/><circle cx="72.1" cy="485.2" r="1.5"/><circle cx="72.4" cy="487.4" r="1.5"/><circle cx="72.3" cy="487.8" r="1.5"/><circle cx="72.6" cy="490.0" r="1.5"/><circle cx="71.6" cy="492.8" r="1.5"/><circle cx="72.7" cy="495.0" r="1.5"/><circle cx="72.1" cy="495.4" r="1.5"/><circle cx="71.9" cy="497.0" r="1.5"/><circle cx="71.6" cy="499.1" r="1.5"/><circle cx="72.8" cy="499.9" r="1.5"/><circle cx="72.5" cy="504.6" r="1.5"/><circle cx="73.3" cy="452.1" r="1.5"/><circle cx="73.8" cy="453.9" r="1.5"/><circle cx="74.4" cy="455.2" r="1.5"/><circle cx="73.2" cy="456.6" r="1.5"/><circle cx="73.3" cy="457.7" r="1.5"/><circle cx="73.4" cy="459.8" r="1.5"/><circle cx="73.3" cy="460.7" r="1.5"/><circle cx="73.7" cy="462.6" r="1.5"/><circle cx="74.2" cy="463.7" r="1.5"/><circle cx="74.0" cy="465.3" r="1.5"/><circle cx="74.1" cy="467.4" r="1.5"/><circle cx="73.9" cy="468.2" r="1.5"/><circle cx="74.4" cy="470.1" r="1.5"/><circle cx="73.6" cy="471.5" r="1.5"/><circle cx="73.9" cy="474.2" r="1.5"/><circle cx="74.3" cy="475.8" r="1.5"/><circle cx="73.9" cy="477.9" r="1.5"/><circle cx="73.5" cy="478.3" r="1.5"/><circle cx="73.7" cy="480.5" r="1.5"/><circle cx="74.3" cy="481.4" r="1.5"/><circle cx="74.2" cy="483.8" r="1.5"/><circle cx="73.5" cy="485.3" r="1.5"/><circle cx="74.0" cy="486.9" r="1.5"/><circle cx="73.3" cy="488.0" r="1.5"/><circle cx="73.4" cy="489.7" r="1.5"/><circle cx="73.9" cy="492.6" r="1.5"/><circle cx="73.4" cy="493.6" r="1.5"/><circle cx="74.1" cy="495.4" r="1.5"/><circle cx="74.2" cy="497.2" r="1.5"/><circle cx="73.9" cy="498.9" r="1.5"/><circle cx="75.5" cy="455.1" r="1.5"/><circle cx="75.0" cy="456.2" r="1.5"/><circle cx="74.9" cy="459.9" r="1.5"/><circle cx="75.0" cy="461.3" r="1.5"/><circle cx="75.4" cy="462.1" r="1.5"/><circle cx="76.0" cy="464.6" r="1.5"/><circle cx="75.5" cy="465.4" r="1.5"/><circle cx="75.3" cy="467.7" r="1.5"/><circle cx="75.8" cy="469.3" r="1.5"/><circle cx="74.8" cy="469.8" r="1.5"/><circle cx="74.9" cy="471.2" r="1.5"/><circle cx="75.8" cy="473.1" r="1.5"/><circle cx="75.5" cy="477.6" r="1.5"/><circle cx="76.0" cy="478.9" r="1.5"/><circle cx="75.6" cy="481.2" r="1.5"/><circle cx="75.3" cy="482.1" r="1.5"/><circle cx="76.0" cy="484.3" r="1.5"/><circle cx="74.8" cy="484.9" r="1.5"/><circle cx="75.9" cy="487.2" r="1.5"/><circle cx="74.9" cy="488.5" r="1.5"/><circle cx="75.6" cy="490.3" r="1.5"/><circle cx="75.0" cy="491.5" r="1.5"/><circle cx="75.2" cy="494.3" r="1.5"/><circle cx="74.9" cy="495.5" r="1.5"/><circle cx="74.9" cy="497.2" r="1.5"/><circle cx="75.1" cy="498.3" r="1.5"/><circle cx="75.7" cy="501.3" r="1.5"/><circle cx="76.9" cy="461.5" r="1.5"/><circle cx="77.2" cy="464.9" r="1.5"/><circle cx="77.4" cy="466.5" r="1.5"/><circle cx="76.6" cy="467.7" r="1.5"/><circle cx="77.3" cy="469.6" r="1.5"/><circle cx="77.4" cy="470.7" r="1.5"/><circle cx="76.6" cy="472.2" r="1.5"/><circle cx="76.8" cy="473.6" r="1.5"/><circle cx="76.8" cy="476.0" r="1.5"/><circle cx="77.6" cy="476.5" r="1.5"/><circle cx="76.7" cy="480.0" r="1.5"/><circle cx="76.7" cy="481.1" r="1.5"/><circle cx="77.6" cy="483.6" r="1.5"/><circle cx="76.7" cy="486.5" r="1.5"/><circle cx="77.3" cy="487.3" r="1.5"/><circle cx="77.4" cy="490.3" r="1.5"/><circle cx="76.4" cy="492.4" r="1.5"/><circle cx="76.6" cy="493.4" r="1.5"/><circle cx="77.1" cy="496.1" r="1.5"/><circle cx="77.3" cy="498.3" r="1.5"/><circle cx="78.7" cy="467.5" r="1.5"/><circle cx="78.2" cy="469.8" r="1.5"/><circle cx="78.5" cy="472.1" r="1.5"/><circle cx="79.0" cy="473.1" r="1.5"/><circle cx="78.0" cy="478.3" r="1.5"/><circle cx="79.0" cy="479.0" r="1.5"/><circle cx="79.0" cy="480.6" r="1.5"/><circle cx="78.4" cy="482.4" r="1.5"/><circle cx="78.6" cy="483.7" r="1.5"/><circle cx="78.1" cy="485.6" r="1.5"/><circle cx="78.9" cy="489.7" r="1.5"/><circle cx="79.0" cy="493.3" r="1.5"/><circle cx="78.6" cy="494.3" r="1.5"/><circle cx="78.0" cy="496.4" r="1.5"/><circle cx="78.2" cy="496.8" r="1.5"/><circle cx="79.6" cy="480.8" r="1.5"/><circle cx="80.6" cy="487.0" r="1.5"/><circle cx="79.7" cy="488.2" r="1.5"/><circle cx="79.7" cy="491.1" r="1.5"/><circle cx="80.3" cy="493.1" r="1.5"/><circle cx="80.3" cy="494.5" r="1.5"/><circle cx="80.6" cy="496.2" r="1.5"/><circle cx="80.5" cy="490.5" r="1.3"/><circle cx="82.0" cy="493.0" r="1.3"/><circle cx="81.5" cy="495.5" r="1.3"/><circle cx="83.0" cy="491.0" r="1.3"/></g>
<g fill="rgb(126,47,142)"><circle cx="64.7" cy="438.1" r="1.6"/><circle cx="64.6" cy="444.4" r="1.6"/><circle cx="70.4" cy="423.0" r="1.6"/><circle cx="70.3" cy="425.1" r="1.6"/><circle cx="70.2" cy="429.3" r="1.6"/><circle cx="70.3" cy="431.4" r="1.6"/><circle cx="70.2" cy="435.6" r="1.6"/><circle cx="74.3" cy="427.0" r="1.6"/><circle cx="74.7" cy="429.1" r="1.6"/><circle cx="74.4" cy="431.2" r="1.6"/><circle cx="74.5" cy="433.3" r="1.6"/><circle cx="74.3" cy="435.4" r="1.6"/><circle cx="78.1" cy="425.0" r="1.6"/><circle cx="78.1" cy="427.1" r="1.6"/><circle cx="78.0" cy="429.2" r="1.6"/><circle cx="78.4" cy="431.3" r="1.6"/><circle cx="78.2" cy="433.4" r="1.6"/><circle cx="78.1" cy="435.5" r="1.6"/><circle cx="122.5" cy="497.0" r="1.6"/><circle cx="122.6" cy="499.1" r="1.6"/><circle cx="122.4" cy="501.2" r="1.6"/><circle cx="122.4" cy="503.3" r="1.6"/><circle cx="122.4" cy="505.4" r="1.6"/><circle cx="125.1" cy="497.0" r="1.6"/><circle cx="125.5" cy="499.1" r="1.6"/><circle cx="125.3" cy="501.2" r="1.6"/><circle cx="125.2" cy="503.3" r="1.6"/><circle cx="128.3" cy="497.0" r="1.6"/><circle cx="128.0" cy="499.1" r="1.6"/><circle cx="128.2" cy="501.2" r="1.6"/><circle cx="128.1" cy="503.3" r="1.6"/><circle cx="128.3" cy="505.4" r="1.6"/><circle cx="70.0" cy="438.9" r="1.5"/><circle cx="69.7" cy="440.7" r="1.5"/><circle cx="70.9" cy="438.1" r="1.5"/><circle cx="70.8" cy="439.8" r="1.5"/><circle cx="73.1" cy="438.8" r="1.5"/><circle cx="73.0" cy="441.1" r="1.5"/><circle cx="72.5" cy="442.5" r="1.5"/><circle cx="72.1" cy="443.6" r="1.5"/><circle cx="74.4" cy="437.4" r="1.5"/><circle cx="74.3" cy="438.8" r="1.5"/><circle cx="74.2" cy="441.5" r="1.5"/><circle cx="74.1" cy="443.6" r="1.5"/><circle cx="74.7" cy="445.6" r="1.5"/><circle cx="74.1" cy="446.6" r="1.5"/><circle cx="75.3" cy="439.5" r="1.5"/><circle cx="76.2" cy="441.1" r="1.5"/><circle cx="75.4" cy="443.2" r="1.5"/><circle cx="75.8" cy="444.6" r="1.5"/><circle cx="76.0" cy="446.6" r="1.5"/><circle cx="76.4" cy="448.2" r="1.5"/><circle cx="75.7" cy="449.8" r="1.5"/><circle cx="76.0" cy="450.4" r="1.5"/><circle cx="76.2" cy="452.6" r="1.5"/><circle cx="78.0" cy="437.6" r="1.5"/><circle cx="76.9" cy="438.6" r="1.5"/><circle cx="76.9" cy="440.0" r="1.5"/><circle cx="77.4" cy="442.4" r="1.5"/><circle cx="77.8" cy="443.0" r="1.5"/><circle cx="77.7" cy="444.8" r="1.5"/><circle cx="77.2" cy="446.1" r="1.5"/><circle cx="76.9" cy="448.5" r="1.5"/><circle cx="77.2" cy="449.4" r="1.5"/><circle cx="76.9" cy="451.5" r="1.5"/><circle cx="78.0" cy="452.4" r="1.5"/><circle cx="77.1" cy="453.5" r="1.5"/><circle cx="77.9" cy="458.9" r="1.5"/><circle cx="78.9" cy="437.8" r="1.5"/><circle cx="78.8" cy="439.5" r="1.5"/><circle cx="79.4" cy="440.2" r="1.5"/><circle cx="78.8" cy="441.6" r="1.5"/><circle cx="79.1" cy="444.5" r="1.5"/><circle cx="78.9" cy="446.4" r="1.5"/><circle cx="78.5" cy="448.4" r="1.5"/><circle cx="78.7" cy="449.1" r="1.5"/><circle cx="78.7" cy="450.4" r="1.5"/><circle cx="78.8" cy="452.1" r="1.5"/><circle cx="78.5" cy="453.7" r="1.5"/><circle cx="78.6" cy="455.4" r="1.5"/><circle cx="79.4" cy="456.6" r="1.5"/><circle cx="79.3" cy="458.4" r="1.5"/><circle cx="79.5" cy="461.5" r="1.5"/><circle cx="78.9" cy="462.6" r="1.5"/><circle cx="78.7" cy="465.0" r="1.5"/><circle cx="78.8" cy="465.7" r="1.5"/><circle cx="80.9" cy="436.0" r="1.5"/><circle cx="80.4" cy="439.0" r="1.5"/><circle cx="80.2" cy="441.0" r="1.5"/><circle cx="80.8" cy="441.6" r="1.5"/><circle cx="80.4" cy="443.6" r="1.5"/><circle cx="80.1" cy="444.9" r="1.5"/><circle cx="80.2" cy="446.9" r="1.5"/><circle cx="80.5" cy="448.6" r="1.5"/><circle cx="81.1" cy="450.0" r="1.5"/><circle cx="80.3" cy="450.5" r="1.5"/><circle cx="80.8" cy="452.4" r="1.5"/><circle cx="80.8" cy="454.3" r="1.5"/><circle cx="81.0" cy="455.4" r="1.5"/><circle cx="80.2" cy="456.6" r="1.5"/><circle cx="80.9" cy="459.5" r="1.5"/><circle cx="80.2" cy="461.2" r="1.5"/><circle cx="80.5" cy="462.5" r="1.5"/><circle cx="80.8" cy="464.2" r="1.5"/><circle cx="80.7" cy="466.4" r="1.5"/><circle cx="80.5" cy="467.8" r="1.5"/><circle cx="80.0" cy="469.5" r="1.5"/><circle cx="80.3" cy="470.1" r="1.5"/><circle cx="80.1" cy="473.3" r="1.5"/><circle cx="80.9" cy="474.8" r="1.5"/><circle cx="81.7" cy="439.9" r="1.5"/><circle cx="82.7" cy="441.1" r="1.5"/><circle cx="82.6" cy="442.5" r="1.5"/><circle cx="81.7" cy="444.1" r="1.5"/><circle cx="82.2" cy="445.9" r="1.5"/><circle cx="82.5" cy="446.3" r="1.5"/><circle cx="82.6" cy="448.1" r="1.5"/><circle cx="82.8" cy="450.0" r="1.5"/><circle cx="81.9" cy="450.8" r="1.5"/><circle cx="82.1" cy="452.5" r="1.5"/><circle cx="81.8" cy="454.6" r="1.5"/><circle cx="81.9" cy="455.6" r="1.5"/><circle cx="82.1" cy="457.9" r="1.5"/><circle cx="82.0" cy="459.3" r="1.5"/><circle cx="82.3" cy="460.2" r="1.5"/><circle cx="82.3" cy="462.2" r="1.5"/><circle cx="82.4" cy="463.5" r="1.5"/><circle cx="82.5" cy="465.3" r="1.5"/><circle cx="81.9" cy="466.2" r="1.5"/><circle cx="81.7" cy="467.6" r="1.5"/><circle cx="82.4" cy="469.3" r="1.5"/><circle cx="82.0" cy="470.8" r="1.5"/><circle cx="81.8" cy="471.9" r="1.5"/><circle cx="82.8" cy="474.2" r="1.5"/><circle cx="82.5" cy="475.9" r="1.5"/><circle cx="81.7" cy="476.9" r="1.5"/><circle cx="81.8" cy="478.4" r="1.5"/><circle cx="82.7" cy="480.0" r="1.5"/><circle cx="83.4" cy="436.1" r="1.5"/><circle cx="83.6" cy="439.3" r="1.5"/><circle cx="84.2" cy="441.6" r="1.5"/><circle cx="84.1" cy="443.0" r="1.5"/><circle cx="83.6" cy="443.8" r="1.5"/><circle cx="83.6" cy="445.5" r="1.5"/><circle cx="83.6" cy="447.5" r="1.5"/><circle cx="83.2" cy="448.7" r="1.5"/><circle cx="84.2" cy="450.4" r="1.5"/><circle cx="83.8" cy="454.2" r="1.5"/><circle cx="83.9" cy="455.6" r="1.5"/><circle cx="83.4" cy="457.6" r="1.5"/><circle cx="83.2" cy="460.6" r="1.5"/><circle cx="84.1" cy="461.5" r="1.5"/><circle cx="84.2" cy="464.0" r="1.5"/><circle cx="83.5" cy="465.3" r="1.5"/><circle cx="83.7" cy="466.4" r="1.5"/><circle cx="84.0" cy="468.5" r="1.5"/><circle cx="83.6" cy="471.1" r="1.5"/><circle cx="83.6" cy="472.3" r="1.5"/><circle cx="83.6" cy="474.1" r="1.5"/><circle cx="85.5" cy="438.9" r="1.5"/><circle cx="85.6" cy="439.7" r="1.5"/><circle cx="85.9" cy="440.8" r="1.5"/><circle cx="85.6" cy="442.8" r="1.5"/><circle cx="85.6" cy="444.2" r="1.5"/><circle cx="85.3" cy="445.9" r="1.5"/><circle cx="85.3" cy="446.9" r="1.5"/><circle cx="85.9" cy="449.0" r="1.5"/><circle cx="85.8" cy="450.1" r="1.5"/><circle cx="85.4" cy="451.6" r="1.5"/><circle cx="85.5" cy="453.1" r="1.5"/><circle cx="84.9" cy="454.9" r="1.5"/><circle cx="84.9" cy="456.3" r="1.5"/><circle cx="85.3" cy="458.3" r="1.5"/><circle cx="85.7" cy="459.7" r="1.5"/><circle cx="86.0" cy="461.2" r="1.5"/><circle cx="85.8" cy="462.3" r="1.5"/><circle cx="86.0" cy="464.0" r="1.5"/><circle cx="85.0" cy="465.7" r="1.5"/><circle cx="85.1" cy="466.7" r="1.5"/><circle cx="85.5" cy="468.1" r="1.5"/><circle cx="85.6" cy="469.8" r="1.5"/><circle cx="85.8" cy="473.0" r="1.5"/><circle cx="85.7" cy="477.2" r="1.5"/><circle cx="85.6" cy="479.3" r="1.5"/><circle cx="85.2" cy="480.7" r="1.5"/><circle cx="85.5" cy="484.4" r="1.5"/><circle cx="86.6" cy="440.2" r="1.5"/><circle cx="87.1" cy="441.3" r="1.5"/><circle cx="86.5" cy="443.6" r="1.5"/><circle cx="87.1" cy="444.5" r="1.5"/><circle cx="86.9" cy="445.8" r="1.5"/><circle cx="87.2" cy="449.6" r="1.5"/><circle cx="86.8" cy="451.8" r="1.5"/><circle cx="87.4" cy="454.1" r="1.5"/><circle cx="86.6" cy="455.6" r="1.5"/><circle cx="86.9" cy="456.7" r="1.5"/><circle cx="87.4" cy="458.1" r="1.5"/><circle cx="86.5" cy="461.0" r="1.5"/><circle cx="87.5" cy="462.9" r="1.5"/><circle cx="86.6" cy="464.1" r="1.5"/><circle cx="87.1" cy="465.6" r="1.5"/><circle cx="86.4" cy="467.3" r="1.5"/><circle cx="86.4" cy="468.7" r="1.5"/><circle cx="86.6" cy="472.0" r="1.5"/><circle cx="86.7" cy="473.3" r="1.5"/><circle cx="87.1" cy="474.8" r="1.5"/><circle cx="87.1" cy="479.6" r="1.5"/><circle cx="87.2" cy="482.4" r="1.5"/><circle cx="86.7" cy="484.1" r="1.5"/><circle cx="88.8" cy="439.0" r="1.5"/><circle cx="88.5" cy="440.1" r="1.5"/><circle cx="88.4" cy="442.7" r="1.5"/><circle cx="88.4" cy="443.3" r="1.5"/><circle cx="88.4" cy="444.7" r="1.5"/><circle cx="89.0" cy="446.6" r="1.5"/><circle cx="88.7" cy="447.9" r="1.5"/><circle cx="88.1" cy="449.4" r="1.5"/><circle cx="88.9" cy="451.2" r="1.5"/><circle cx="89.1" cy="454.3" r="1.5"/><circle cx="88.2" cy="455.7" r="1.5"/><circle cx="88.9" cy="458.6" r="1.5"/><circle cx="88.6" cy="462.1" r="1.5"/><circle cx="88.3" cy="462.6" r="1.5"/><circle cx="88.3" cy="464.9" r="1.5"/><circle cx="88.5" cy="465.8" r="1.5"/><circle cx="89.0" cy="467.8" r="1.5"/><circle cx="88.9" cy="469.7" r="1.5"/><circle cx="88.1" cy="471.0" r="1.5"/><circle cx="88.2" cy="473.3" r="1.5"/><circle cx="89.1" cy="475.3" r="1.5"/><circle cx="88.4" cy="478.4" r="1.5"/><circle cx="88.5" cy="479.9" r="1.5"/><circle cx="88.1" cy="481.0" r="1.5"/><circle cx="88.8" cy="482.5" r="1.5"/><circle cx="88.7" cy="483.9" r="1.5"/><circle cx="88.0" cy="486.2" r="1.5"/><circle cx="89.8" cy="439.3" r="1.5"/><circle cx="89.7" cy="441.6" r="1.5"/><circle cx="90.2" cy="442.8" r="1.5"/><circle cx="90.4" cy="444.3" r="1.5"/><circle cx="90.5" cy="445.4" r="1.5"/><circle cx="90.5" cy="447.5" r="1.5"/><circle cx="90.5" cy="449.3" r="1.5"/><circle cx="89.9" cy="450.2" r="1.5"/><circle cx="89.6" cy="453.2" r="1.5"/><circle cx="90.5" cy="454.5" r="1.5"/><circle cx="90.5" cy="457.2" r="1.5"/><circle cx="89.8" cy="458.7" r="1.5"/><circle cx="90.3" cy="460.3" r="1.5"/><circle cx="89.8" cy="463.3" r="1.5"/><circle cx="90.7" cy="464.8" r="1.5"/><circle cx="90.5" cy="466.4" r="1.5"/><circle cx="90.4" cy="469.5" r="1.5"/><circle cx="90.2" cy="471.0" r="1.5"/><circle cx="90.5" cy="473.7" r="1.5"/><circle cx="90.1" cy="476.1" r="1.5"/><circle cx="90.3" cy="477.1" r="1.5"/><circle cx="89.9" cy="481.4" r="1.5"/><circle cx="90.1" cy="482.9" r="1.5"/><circle cx="90.5" cy="484.9" r="1.5"/><circle cx="90.8" cy="485.9" r="1.5"/><circle cx="89.8" cy="488.1" r="1.5"/><circle cx="90.5" cy="491.1" r="1.5"/><circle cx="92.0" cy="439.9" r="1.5"/><circle cx="91.9" cy="441.8" r="1.5"/><circle cx="92.3" cy="442.6" r="1.5"/><circle cx="92.2" cy="443.9" r="1.5"/><circle cx="91.2" cy="448.3" r="1.5"/><circle cx="92.3" cy="451.4" r="1.5"/><circle cx="91.3" cy="452.9" r="1.5"/><circle cx="91.3" cy="454.6" r="1.5"/><circle cx="92.3" cy="458.4" r="1.5"/><circle cx="91.5" cy="459.7" r="1.5"/><circle cx="91.2" cy="460.8" r="1.5"/><circle cx="91.7" cy="461.8" r="1.5"/><circle cx="92.4" cy="463.6" r="1.5"/><circle cx="91.8" cy="466.4" r="1.5"/><circle cx="91.4" cy="468.5" r="1.5"/><circle cx="92.1" cy="469.8" r="1.5"/><circle cx="91.6" cy="471.3" r="1.5"/><circle cx="91.5" cy="474.9" r="1.5"/><circle cx="91.5" cy="476.9" r="1.5"/><circle cx="91.3" cy="478.3" r="1.5"/><circle cx="91.7" cy="480.4" r="1.5"/><circle cx="91.2" cy="482.0" r="1.5"/><circle cx="91.9" cy="483.4" r="1.5"/><circle cx="92.4" cy="485.2" r="1.5"/><circle cx="91.7" cy="486.1" r="1.5"/><circle cx="92.4" cy="487.7" r="1.5"/><circle cx="91.7" cy="488.9" r="1.5"/><circle cx="91.9" cy="492.8" r="1.5"/><circle cx="91.9" cy="493.7" r="1.5"/><circle cx="91.4" cy="494.8" r="1.5"/><circle cx="93.2" cy="445.0" r="1.5"/><circle cx="93.7" cy="446.3" r="1.5"/><circle cx="93.5" cy="448.0" r="1.5"/><circle cx="93.6" cy="449.2" r="1.5"/><circle cx="93.7" cy="450.3" r="1.5"/><circle cx="93.5" cy="452.1" r="1.5"/><circle cx="93.6" cy="453.5" r="1.5"/><circle cx="93.5" cy="454.6" r="1.5"/><circle cx="93.7" cy="457.9" r="1.5"/><circle cx="93.1" cy="459.0" r="1.5"/><circle cx="93.4" cy="462.4" r="1.5"/><circle cx="93.1" cy="463.5" r="1.5"/><circle cx="93.4" cy="465.6" r="1.5"/><circle cx="93.9" cy="467.3" r="1.5"/><circle cx="93.3" cy="468.8" r="1.5"/><circle cx="92.9" cy="469.5" r="1.5"/><circle cx="92.9" cy="471.2" r="1.5"/><circle cx="93.4" cy="472.8" r="1.5"/><circle cx="93.3" cy="475.0" r="1.5"/><circle cx="93.3" cy="475.9" r="1.5"/><circle cx="93.7" cy="477.0" r="1.5"/><circle cx="93.2" cy="478.9" r="1.5"/><circle cx="93.2" cy="480.2" r="1.5"/><circle cx="92.8" cy="481.5" r="1.5"/><circle cx="92.9" cy="483.0" r="1.5"/><circle cx="93.1" cy="484.7" r="1.5"/><circle cx="93.8" cy="485.9" r="1.5"/><circle cx="93.8" cy="487.5" r="1.5"/><circle cx="93.8" cy="489.5" r="1.5"/><circle cx="92.9" cy="490.8" r="1.5"/><circle cx="93.7" cy="492.2" r="1.5"/><circle cx="93.6" cy="494.3" r="1.5"/><circle cx="93.3" cy="495.5" r="1.5"/><circle cx="94.0" cy="498.7" r="1.5"/><circle cx="95.0" cy="445.7" r="1.5"/><circle cx="94.4" cy="448.8" r="1.5"/><circle cx="95.0" cy="450.6" r="1.5"/><circle cx="95.0" cy="452.1" r="1.5"/><circle cx="95.0" cy="453.2" r="1.5"/><circle cx="95.2" cy="455.0" r="1.5"/><circle cx="94.4" cy="456.4" r="1.5"/><circle cx="95.3" cy="458.0" r="1.5"/><circle cx="94.7" cy="458.7" r="1.5"/><circle cx="94.5" cy="460.2" r="1.5"/><circle cx="95.1" cy="461.6" r="1.5"/><circle cx="95.3" cy="463.6" r="1.5"/><circle cx="95.2" cy="465.1" r="1.5"/><circle cx="95.6" cy="467.0" r="1.5"/><circle cx="94.8" cy="469.7" r="1.5"/><circle cx="95.6" cy="470.9" r="1.5"/><circle cx="94.8" cy="472.4" r="1.5"/><circle cx="95.0" cy="475.6" r="1.5"/><circle cx="94.8" cy="477.6" r="1.5"/><circle cx="95.4" cy="478.4" r="1.5"/><circle cx="94.5" cy="480.2" r="1.5"/><circle cx="95.0" cy="481.6" r="1.5"/><circle cx="94.8" cy="483.5" r="1.5"/><circle cx="95.5" cy="484.7" r="1.5"/><circle cx="94.8" cy="486.2" r="1.5"/><circle cx="95.1" cy="487.5" r="1.5"/><circle cx="95.4" cy="488.9" r="1.5"/><circle cx="95.4" cy="490.8" r="1.5"/><circle cx="95.5" cy="492.1" r="1.5"/><circle cx="94.9" cy="495.3" r="1.5"/><circle cx="95.4" cy="496.1" r="1.5"/><circle cx="94.6" cy="498.7" r="1.5"/><circle cx="96.3" cy="448.0" r="1.5"/><circle cx="97.1" cy="448.8" r="1.5"/><circle cx="96.1" cy="451.0" r="1.5"/><circle cx="96.8" cy="453.3" r="1.5"/><circle cx="96.2" cy="456.1" r="1.5"/><circle cx="96.1" cy="458.5" r="1.5"/><circle cx="96.3" cy="459.7" r="1.5"/><circle cx="96.7" cy="460.7" r="1.5"/><circle cx="97.0" cy="463.7" r="1.5"/><circle cx="97.2" cy="465.5" r="1.5"/><circle cx="96.5" cy="467.3" r="1.5"/><circle cx="96.7" cy="468.1" r="1.5"/><circle cx="96.9" cy="470.0" r="1.5"/><circle cx="96.1" cy="472.0" r="1.5"/><circle cx="97.1" cy="473.7" r="1.5"/><circle cx="96.3" cy="475.9" r="1.5"/><circle cx="96.6" cy="478.1" r="1.5"/><circle cx="96.6" cy="479.6" r="1.5"/><circle cx="96.6" cy="480.1" r="1.5"/><circle cx="96.3" cy="482.6" r="1.5"/><circle cx="96.3" cy="484.1" r="1.5"/><circle cx="96.7" cy="485.7" r="1.5"/><circle cx="97.1" cy="486.8" r="1.5"/><circle cx="96.4" cy="488.1" r="1.5"/><circle cx="96.9" cy="489.2" r="1.5"/><circle cx="96.4" cy="490.6" r="1.5"/><circle cx="96.1" cy="492.7" r="1.5"/><circle cx="96.7" cy="494.1" r="1.5"/><circle cx="96.6" cy="495.1" r="1.5"/><circle cx="96.2" cy="497.2" r="1.5"/><circle cx="96.4" cy="498.8" r="1.5"/><circle cx="96.2" cy="500.7" r="1.5"/><circle cx="97.0" cy="502.1" r="1.5"/><circle cx="97.7" cy="452.4" r="1.5"/><circle cx="98.2" cy="453.9" r="1.5"/><circle cx="97.8" cy="455.3" r="1.5"/><circle cx="97.8" cy="456.6" r="1.5"/><circle cx="98.7" cy="459.3" r="1.5"/><circle cx="98.5" cy="463.0" r="1.5"/><circle cx="97.9" cy="464.7" r="1.5"/><circle cx="97.9" cy="465.4" r="1.5"/><circle cx="98.2" cy="467.2" r="1.5"/><circle cx="98.3" cy="470.1" r="1.5"/><circle cx="98.5" cy="472.2" r="1.5"/><circle cx="97.9" cy="473.5" r="1.5"/><circle cx="98.3" cy="476.7" r="1.5"/><circle cx="98.0" cy="478.3" r="1.5"/><circle cx="98.7" cy="478.8" r="1.5"/><circle cx="98.1" cy="481.9" r="1.5"/><circle cx="98.5" cy="484.1" r="1.5"/><circle cx="98.0" cy="485.0" r="1.5"/><circle cx="97.9" cy="486.7" r="1.5"/><circle cx="98.2" cy="491.4" r="1.5"/><circle cx="98.7" cy="493.2" r="1.5"/><circle cx="97.8" cy="494.6" r="1.5"/><circle cx="98.5" cy="495.4" r="1.5"/><circle cx="98.0" cy="497.0" r="1.5"/><circle cx="98.5" cy="500.0" r="1.5"/><circle cx="98.7" cy="502.4" r="1.5"/><circle cx="100.4" cy="456.9" r="1.5"/><circle cx="100.4" cy="460.2" r="1.5"/><circle cx="100.2" cy="461.0" r="1.5"/><circle cx="99.7" cy="462.6" r="1.5"/><circle cx="100.3" cy="464.6" r="1.5"/><circle cx="99.7" cy="466.2" r="1.5"/><circle cx="100.0" cy="467.9" r="1.5"/><circle cx="99.7" cy="468.4" r="1.5"/><circle cx="100.2" cy="470.2" r="1.5"/><circle cx="100.2" cy="472.2" r="1.5"/><circle cx="99.8" cy="472.8" r="1.5"/><circle cx="100.2" cy="474.8" r="1.5"/><circle cx="99.7" cy="476.2" r="1.5"/><circle cx="99.6" cy="478.3" r="1.5"/><circle cx="99.6" cy="478.9" r="1.5"/><circle cx="100.0" cy="480.8" r="1.5"/><circle cx="100.2" cy="481.9" r="1.5"/><circle cx="99.2" cy="484.3" r="1.5"/><circle cx="99.5" cy="485.9" r="1.5"/><circle cx="99.5" cy="487.3" r="1.5"/><circle cx="100.3" cy="488.2" r="1.5"/><circle cx="100.3" cy="489.9" r="1.5"/><circle cx="100.2" cy="492.5" r="1.5"/><circle cx="99.2" cy="494.0" r="1.5"/><circle cx="100.2" cy="497.1" r="1.5"/><circle cx="99.3" cy="498.9" r="1.5"/><circle cx="99.7" cy="502.4" r="1.5"/><circle cx="101.3" cy="459.8" r="1.5"/><circle cx="101.9" cy="461.3" r="1.5"/><circle cx="102.0" cy="462.3" r="1.5"/><circle cx="101.6" cy="464.4" r="1.5"/><circle cx="101.7" cy="466.3" r="1.5"/><circle cx="101.7" cy="466.8" r="1.5"/><circle cx="101.0" cy="469.4" r="1.5"/><circle cx="101.5" cy="471.9" r="1.5"/><circle cx="101.3" cy="473.6" r="1.5"/><circle cx="101.1" cy="475.1" r="1.5"/><circle cx="101.5" cy="476.2" r="1.5"/><circle cx="101.8" cy="479.5" r="1.5"/><circle cx="102.0" cy="481.1" r="1.5"/><circle cx="101.1" cy="481.9" r="1.5"/><circle cx="101.8" cy="484.2" r="1.5"/><circle cx="101.0" cy="485.3" r="1.5"/><circle cx="101.7" cy="487.9" r="1.5"/><circle cx="100.9" cy="489.6" r="1.5"/><circle cx="102.0" cy="491.9" r="1.5"/><circle cx="101.2" cy="493.3" r="1.5"/><circle cx="101.2" cy="494.2" r="1.5"/><circle cx="101.1" cy="495.7" r="1.5"/><circle cx="102.0" cy="497.0" r="1.5"/><circle cx="101.9" cy="498.8" r="1.5"/><circle cx="101.6" cy="500.7" r="1.5"/><circle cx="101.0" cy="502.1" r="1.5"/><circle cx="101.5" cy="503.5" r="1.5"/><circle cx="103.2" cy="459.5" r="1.5"/><circle cx="103.4" cy="462.8" r="1.5"/><circle cx="103.5" cy="464.0" r="1.5"/><circle cx="102.5" cy="465.8" r="1.5"/><circle cx="103.2" cy="467.2" r="1.5"/><circle cx="102.5" cy="468.5" r="1.5"/><circle cx="103.6" cy="470.4" r="1.5"/><circle cx="103.3" cy="471.6" r="1.5"/><circle cx="102.8" cy="474.6" r="1.5"/><circle cx="102.8" cy="475.9" r="1.5"/><circle cx="103.0" cy="479.5" r="1.5"/><circle cx="102.8" cy="481.7" r="1.5"/><circle cx="103.0" cy="484.2" r="1.5"/><circle cx="103.1" cy="485.1" r="1.5"/><circle cx="102.7" cy="487.2" r="1.5"/><circle cx="103.4" cy="487.8" r="1.5"/><circle cx="103.3" cy="489.8" r="1.5"/><circle cx="103.4" cy="494.4" r="1.5"/><circle cx="103.2" cy="497.5" r="1.5"/><circle cx="102.7" cy="498.2" r="1.5"/><circle cx="103.4" cy="500.0" r="1.5"/><circle cx="102.7" cy="501.3" r="1.5"/><circle cx="103.6" cy="503.6" r="1.5"/><circle cx="103.2" cy="504.2" r="1.5"/><circle cx="104.3" cy="462.2" r="1.5"/><circle cx="104.7" cy="464.6" r="1.5"/><circle cx="105.0" cy="465.2" r="1.5"/><circle cx="104.8" cy="467.0" r="1.5"/><circle cx="104.7" cy="468.4" r="1.5"/><circle cx="104.3" cy="470.6" r="1.5"/><circle cx="104.6" cy="471.1" r="1.5"/><circle cx="104.0" cy="473.2" r="1.5"/><circle cx="104.1" cy="474.9" r="1.5"/><circle cx="104.7" cy="476.1" r="1.5"/><circle cx="104.7" cy="477.4" r="1.5"/><circle cx="105.2" cy="482.0" r="1.5"/><circle cx="104.6" cy="484.8" r="1.5"/><circle cx="104.8" cy="487.0" r="1.5"/><circle cx="104.4" cy="487.8" r="1.5"/><circle cx="104.3" cy="489.3" r="1.5"/><circle cx="104.6" cy="491.1" r="1.5"/><circle cx="104.8" cy="492.3" r="1.5"/><circle cx="104.7" cy="494.5" r="1.5"/><circle cx="105.1" cy="497.7" r="1.5"/><circle cx="104.9" cy="498.2" r="1.5"/><circle cx="104.0" cy="500.6" r="1.5"/><circle cx="104.8" cy="501.4" r="1.5"/><circle cx="104.2" cy="503.4" r="1.5"/><circle cx="104.1" cy="505.8" r="1.5"/><circle cx="105.7" cy="465.5" r="1.5"/><circle cx="106.8" cy="469.4" r="1.5"/><circle cx="106.2" cy="470.8" r="1.5"/><circle cx="105.7" cy="472.0" r="1.5"/><circle cx="105.9" cy="473.1" r="1.5"/><circle cx="106.7" cy="475.2" r="1.5"/><circle cx="106.5" cy="479.3" r="1.5"/><circle cx="106.6" cy="480.5" r="1.5"/><circle cx="105.9" cy="482.5" r="1.5"/><circle cx="105.6" cy="484.3" r="1.5"/><circle cx="106.2" cy="484.9" r="1.5"/><circle cx="105.7" cy="488.2" r="1.5"/><circle cx="106.7" cy="489.9" r="1.5"/><circle cx="105.8" cy="491.1" r="1.5"/><circle cx="105.7" cy="494.6" r="1.5"/><circle cx="105.8" cy="495.9" r="1.5"/><circle cx="106.4" cy="497.7" r="1.5"/><circle cx="105.7" cy="499.2" r="1.5"/><circle cx="106.2" cy="500.3" r="1.5"/><circle cx="106.5" cy="501.6" r="1.5"/><circle cx="106.4" cy="503.4" r="1.5"/><circle cx="106.7" cy="505.1" r="1.5"/><circle cx="105.9" cy="507.0" r="1.5"/><circle cx="106.1" cy="508.3" r="1.5"/><circle cx="107.3" cy="468.5" r="1.5"/><circle cx="107.3" cy="470.6" r="1.5"/><circle cx="108.0" cy="474.4" r="1.5"/><circle cx="108.3" cy="475.1" r="1.5"/><circle cx="107.2" cy="477.2" r="1.5"/><circle cx="108.4" cy="478.7" r="1.5"/><circle cx="108.2" cy="479.5" r="1.5"/><circle cx="107.3" cy="481.7" r="1.5"/><circle cx="108.2" cy="486.0" r="1.5"/><circle cx="107.8" cy="487.5" r="1.5"/><circle cx="108.2" cy="488.4" r="1.5"/><circle cx="107.9" cy="490.2" r="1.5"/><circle cx="107.2" cy="492.2" r="1.5"/><circle cx="108.2" cy="493.8" r="1.5"/><circle cx="107.3" cy="495.1" r="1.5"/><circle cx="107.7" cy="495.9" r="1.5"/><circle cx="107.6" cy="498.9" r="1.5"/><circle cx="108.2" cy="501.3" r="1.5"/><circle cx="107.6" cy="502.2" r="1.5"/><circle cx="107.4" cy="504.0" r="1.5"/><circle cx="107.2" cy="506.4" r="1.5"/><circle cx="108.0" cy="508.5" r="1.5"/><circle cx="109.8" cy="476.6" r="1.5"/><circle cx="109.7" cy="477.0" r="1.5"/><circle cx="109.8" cy="479.0" r="1.5"/><circle cx="109.9" cy="482.0" r="1.5"/><circle cx="109.1" cy="483.4" r="1.5"/><circle cx="109.2" cy="484.6" r="1.5"/><circle cx="110.0" cy="486.8" r="1.5"/><circle cx="109.8" cy="490.2" r="1.5"/><circle cx="109.1" cy="490.8" r="1.5"/><circle cx="108.8" cy="492.3" r="1.5"/><circle cx="109.7" cy="497.4" r="1.5"/><circle cx="109.4" cy="499.6" r="1.5"/><circle cx="109.2" cy="501.8" r="1.5"/><circle cx="109.4" cy="503.7" r="1.5"/><circle cx="109.4" cy="504.8" r="1.5"/><circle cx="109.9" cy="506.0" r="1.5"/><circle cx="111.5" cy="476.9" r="1.5"/><circle cx="111.3" cy="479.6" r="1.5"/><circle cx="110.9" cy="480.7" r="1.5"/><circle cx="111.3" cy="482.3" r="1.5"/><circle cx="110.7" cy="482.9" r="1.5"/><circle cx="110.7" cy="484.7" r="1.5"/><circle cx="111.1" cy="488.2" r="1.5"/><circle cx="111.2" cy="489.3" r="1.5"/><circle cx="110.5" cy="490.4" r="1.5"/><circle cx="110.6" cy="492.0" r="1.5"/><circle cx="111.6" cy="494.2" r="1.5"/><circle cx="111.3" cy="495.1" r="1.5"/><circle cx="110.8" cy="496.9" r="1.5"/><circle cx="110.9" cy="498.8" r="1.5"/><circle cx="111.5" cy="499.8" r="1.5"/><circle cx="110.4" cy="501.9" r="1.5"/><circle cx="111.4" cy="503.4" r="1.5"/><circle cx="110.7" cy="503.9" r="1.5"/><circle cx="111.5" cy="505.6" r="1.5"/><circle cx="112.1" cy="482.5" r="1.5"/><circle cx="112.8" cy="483.5" r="1.5"/><circle cx="112.1" cy="484.3" r="1.5"/><circle cx="113.2" cy="487.7" r="1.5"/><circle cx="112.2" cy="489.7" r="1.5"/><circle cx="112.4" cy="490.9" r="1.5"/><circle cx="112.3" cy="492.8" r="1.5"/><circle cx="112.5" cy="494.2" r="1.5"/><circle cx="112.2" cy="495.1" r="1.5"/><circle cx="112.4" cy="497.1" r="1.5"/><circle cx="113.0" cy="497.9" r="1.5"/><circle cx="113.0" cy="499.6" r="1.5"/><circle cx="112.5" cy="500.9" r="1.5"/><circle cx="112.9" cy="502.4" r="1.5"/><circle cx="112.6" cy="504.0" r="1.5"/><circle cx="114.7" cy="487.3" r="1.5"/><circle cx="113.9" cy="489.0" r="1.5"/><circle cx="114.6" cy="490.8" r="1.5"/><circle cx="114.7" cy="493.2" r="1.5"/><circle cx="113.8" cy="495.1" r="1.5"/><circle cx="113.7" cy="495.9" r="1.5"/><circle cx="114.5" cy="498.7" r="1.5"/><circle cx="114.0" cy="500.3" r="1.5"/><circle cx="114.0" cy="501.7" r="1.5"/><circle cx="115.8" cy="491.1" r="1.5"/><circle cx="115.5" cy="492.3" r="1.5"/><circle cx="116.0" cy="493.4" r="1.5"/><circle cx="116.3" cy="495.6" r="1.5"/><circle cx="116.3" cy="497.9" r="1.5"/><circle cx="115.9" cy="500.3" r="1.5"/><circle cx="115.5" cy="500.7" r="1.5"/><circle cx="115.4" cy="502.4" r="1.5"/><circle cx="117.9" cy="493.8" r="1.5"/><circle cx="117.4" cy="496.2" r="1.5"/><circle cx="118.0" cy="497.3" r="1.5"/><circle cx="117.8" cy="498.3" r="1.5"/><circle cx="117.1" cy="502.2" r="1.5"/><circle cx="118.8" cy="494.9" r="1.5"/><circle cx="119.1" cy="498.0" r="1.5"/><circle cx="119.1" cy="500.1" r="1.5"/><circle cx="118.7" cy="500.9" r="1.5"/><circle cx="120.3" cy="498.1" r="1.5"/></g>
<g fill="rgb(0,114,189)"><circle cx="83.5" cy="423.0" r="1.6"/><circle cx="83.6" cy="427.2" r="1.6"/><circle cx="83.8" cy="429.3" r="1.6"/><circle cx="83.7" cy="431.4" r="1.6"/><circle cx="83.4" cy="433.5" r="1.6"/><circle cx="83.7" cy="435.6" r="1.6"/><circle cx="83.8" cy="437.7" r="1.6"/><circle cx="88.3" cy="430.1" r="1.6"/><circle cx="88.3" cy="434.3" r="1.6"/><circle cx="88.4" cy="436.4" r="1.6"/><circle cx="88.4" cy="438.5" r="1.6"/><circle cx="94.1" cy="425.0" r="1.6"/><circle cx="94.1" cy="427.1" r="1.6"/><circle cx="94.0" cy="429.2" r="1.6"/><circle cx="94.1" cy="431.3" r="1.6"/><circle cx="94.0" cy="433.4" r="1.6"/><circle cx="94.1" cy="435.5" r="1.6"/><circle cx="93.8" cy="437.6" r="1.6"/><circle cx="90.9" cy="432.0" r="1.6"/><circle cx="91.2" cy="434.1" r="1.6"/><circle cx="91.0" cy="436.2" r="1.6"/><circle cx="76.0" cy="440.0" r="1.5"/><circle cx="78.5" cy="442.0" r="1.5"/><circle cx="80.0" cy="439.0" r="1.5"/><circle cx="73.5" cy="444.0" r="1.5"/><circle cx="86.0" cy="441.0" r="1.5"/><circle cx="102.5" cy="431.8" r="1.5"/></g>
<g font-family="'Liberation Sans', Arial, sans-serif" font-size="6.6"><text x="36.5" y="425.2" fill="rgb(0,114,189)">R=0.577</text><text x="36.5" y="434.6" fill="rgb(0,114,189)">p&lt;0.001</text><text x="101" y="441.8" fill="rgb(126,47,142)">R=-0.755</text><text x="101" y="451.2" fill="rgb(126,47,142)">p&lt;0.001</text></g>
<path d="M163.2 414.5V519.0H263.8" stroke="#7a7a7a" stroke-width="0.7" fill="none"/>
<path d="M163.2 519.0v-1.2 M188.3 519.0v-1.2 M213.5 519.0v-1.2 M238.7 519.0v-1.2 M263.8 519.0v-1.2 M163.2 519.0h1.2 M163.2 504.2h1.2 M163.2 489.4h1.2 M163.2 474.6h1.2 M163.2 459.9h1.2 M163.2 445.1h1.2 M163.2 430.3h1.2 M163.2 415.5h1.2" stroke="#7a7a7a" stroke-width="0.6"/>
<g font-family="'Liberation Sans', Arial, sans-serif" font-size="5.4" fill="#3a3a3a"><text x="163.2" y="527.9" text-anchor="middle">0</text><text x="188.3" y="527.9" text-anchor="middle">500</text><text x="213.5" y="527.9" text-anchor="middle">1000</text><text x="238.7" y="527.9" text-anchor="middle">1500</text><text x="263.8" y="527.9" text-anchor="middle">2000</text><text x="160.0" y="520.9" text-anchor="end">1.9</text><text x="160.0" y="506.1" text-anchor="end">2</text><text x="160.0" y="491.3" text-anchor="end">2.1</text><text x="160.0" y="476.5" text-anchor="end">2.2</text><text x="160.0" y="461.8" text-anchor="end">2.3</text><text x="160.0" y="447.0" text-anchor="end">2.4</text><text x="160.0" y="432.2" text-anchor="end">2.5</text><text x="160.0" y="417.4" text-anchor="end">2.6</text></g>
<text x="213.5" y="410.7" text-anchor="middle" font-family="'Liberation Sans', Arial, sans-serif" font-size="8.8" font-weight="bold" fill="#000">Knee Peak1</text>
<text x="213.5" y="538.8" text-anchor="middle" font-family="'Liberation Sans', Arial, sans-serif" font-size="8.6" fill="#262626" stroke="#262626" stroke-width="0.12">Fmax [N]</text>
<text transform="translate(148.4,462.2) rotate(-90)" text-anchor="middle" font-family="'Liberation Sans', Arial, sans-serif" font-size="7.25" fill="#262626" stroke="#262626" stroke-width="0.12">Max JCF [BW]</text>
<g fill="rgb(0,114,189)"><circle cx="180.2" cy="427.0" r="1.6"/><circle cx="180.2" cy="429.1" r="1.6"/><circle cx="179.9" cy="431.2" r="1.6"/><circle cx="180.0" cy="433.3" r="1.6"/><circle cx="179.9" cy="435.4" r="1.6"/><circle cx="180.1" cy="437.5" r="1.6"/><circle cx="179.9" cy="439.6" r="1.6"/><circle cx="180.3" cy="441.7" r="1.6"/><circle cx="180.0" cy="443.8" r="1.6"/><circle cx="180.1" cy="450.0" r="1.6"/><circle cx="180.1" cy="452.1" r="1.6"/><circle cx="186.2" cy="428.8" r="1.6"/><circle cx="186.0" cy="430.9" r="1.6"/><circle cx="186.3" cy="435.1" r="1.6"/><circle cx="186.2" cy="437.2" r="1.6"/><circle cx="186.3" cy="439.3" r="1.6"/><circle cx="186.2" cy="441.4" r="1.6"/><circle cx="186.0" cy="443.5" r="1.6"/><circle cx="189.0" cy="430.0" r="1.6"/><circle cx="189.1" cy="432.1" r="1.6"/><circle cx="188.7" cy="434.2" r="1.6"/><circle cx="188.9" cy="436.3" r="1.6"/><circle cx="188.8" cy="438.4" r="1.6"/><circle cx="188.7" cy="440.5" r="1.6"/><circle cx="189.0" cy="442.6" r="1.6"/><circle cx="188.8" cy="444.7" r="1.6"/><circle cx="186.6" cy="450.9" r="1.5"/><circle cx="186.4" cy="451.9" r="1.5"/><circle cx="186.6" cy="461.5" r="1.5"/><circle cx="186.9" cy="462.2" r="1.5"/><circle cx="186.8" cy="463.8" r="1.5"/><circle cx="188.7" cy="444.6" r="1.5"/><circle cx="187.9" cy="447.5" r="1.5"/><circle cx="188.1" cy="449.3" r="1.5"/><circle cx="188.2" cy="450.6" r="1.5"/><circle cx="188.7" cy="451.9" r="1.5"/><circle cx="188.9" cy="454.1" r="1.5"/><circle cx="187.9" cy="455.0" r="1.5"/><circle cx="188.1" cy="456.0" r="1.5"/><circle cx="188.4" cy="461.2" r="1.5"/><circle cx="187.9" cy="462.9" r="1.5"/><circle cx="189.5" cy="442.5" r="1.5"/><circle cx="190.0" cy="444.9" r="1.5"/><circle cx="189.6" cy="446.3" r="1.5"/><circle cx="189.8" cy="447.0" r="1.5"/><circle cx="190.6" cy="448.5" r="1.5"/><circle cx="190.3" cy="451.0" r="1.5"/><circle cx="190.5" cy="453.6" r="1.5"/><circle cx="190.0" cy="455.3" r="1.5"/><circle cx="189.6" cy="456.1" r="1.5"/><circle cx="190.4" cy="459.3" r="1.5"/><circle cx="189.7" cy="461.0" r="1.5"/><circle cx="190.4" cy="463.8" r="1.5"/><circle cx="190.3" cy="465.3" r="1.5"/><circle cx="189.9" cy="467.4" r="1.5"/><circle cx="192.0" cy="444.4" r="1.5"/><circle cx="191.4" cy="445.4" r="1.5"/><circle cx="191.5" cy="446.6" r="1.5"/><circle cx="192.1" cy="448.4" r="1.5"/><circle cx="192.1" cy="450.3" r="1.5"/><circle cx="192.1" cy="451.9" r="1.5"/><circle cx="191.9" cy="454.9" r="1.5"/><circle cx="191.8" cy="455.9" r="1.5"/><circle cx="191.2" cy="457.6" r="1.5"/><circle cx="192.0" cy="458.9" r="1.5"/><circle cx="192.0" cy="461.0" r="1.5"/><circle cx="192.1" cy="462.3" r="1.5"/><circle cx="191.8" cy="463.0" r="1.5"/><circle cx="191.5" cy="466.4" r="1.5"/><circle cx="193.0" cy="440.0" r="1.5"/><circle cx="192.7" cy="443.1" r="1.5"/><circle cx="192.8" cy="445.0" r="1.5"/><circle cx="193.6" cy="447.1" r="1.5"/><circle cx="193.4" cy="448.6" r="1.5"/><circle cx="193.7" cy="449.9" r="1.5"/><circle cx="193.6" cy="451.2" r="1.5"/><circle cx="193.3" cy="453.0" r="1.5"/><circle cx="193.2" cy="454.0" r="1.5"/><circle cx="192.8" cy="456.9" r="1.5"/><circle cx="193.8" cy="458.8" r="1.5"/><circle cx="193.7" cy="459.5" r="1.5"/><circle cx="193.1" cy="461.8" r="1.5"/><circle cx="192.7" cy="463.1" r="1.5"/><circle cx="193.5" cy="464.4" r="1.5"/><circle cx="193.5" cy="466.4" r="1.5"/><circle cx="193.7" cy="468.2" r="1.5"/><circle cx="195.1" cy="439.8" r="1.5"/><circle cx="194.8" cy="441.8" r="1.5"/><circle cx="195.3" cy="443.7" r="1.5"/><circle cx="195.2" cy="444.2" r="1.5"/><circle cx="195.1" cy="448.1" r="1.5"/><circle cx="195.3" cy="448.8" r="1.5"/><circle cx="194.8" cy="451.1" r="1.5"/><circle cx="195.3" cy="455.2" r="1.5"/><circle cx="195.0" cy="457.0" r="1.5"/><circle cx="194.9" cy="457.8" r="1.5"/><circle cx="194.7" cy="459.6" r="1.5"/><circle cx="194.3" cy="460.5" r="1.5"/><circle cx="195.1" cy="462.9" r="1.5"/><circle cx="194.5" cy="464.1" r="1.5"/><circle cx="194.9" cy="466.1" r="1.5"/><circle cx="194.9" cy="467.4" r="1.5"/><circle cx="195.9" cy="441.5" r="1.5"/><circle cx="196.0" cy="442.6" r="1.5"/><circle cx="197.0" cy="444.0" r="1.5"/><circle cx="196.1" cy="445.3" r="1.5"/><circle cx="196.3" cy="447.3" r="1.5"/><circle cx="196.0" cy="448.3" r="1.5"/><circle cx="196.0" cy="450.0" r="1.5"/><circle cx="196.0" cy="451.6" r="1.5"/><circle cx="197.0" cy="453.2" r="1.5"/><circle cx="196.0" cy="456.3" r="1.5"/><circle cx="196.0" cy="457.2" r="1.5"/><circle cx="197.0" cy="459.1" r="1.5"/><circle cx="196.3" cy="460.5" r="1.5"/><circle cx="196.3" cy="461.8" r="1.5"/><circle cx="195.8" cy="465.6" r="1.5"/><circle cx="196.2" cy="466.8" r="1.5"/><circle cx="196.3" cy="469.4" r="1.5"/><circle cx="196.6" cy="471.5" r="1.5"/><circle cx="198.5" cy="442.9" r="1.5"/><circle cx="197.6" cy="443.8" r="1.5"/><circle cx="197.4" cy="447.1" r="1.5"/><circle cx="198.0" cy="448.6" r="1.5"/><circle cx="198.0" cy="452.3" r="1.5"/><circle cx="198.0" cy="453.1" r="1.5"/><circle cx="198.1" cy="455.1" r="1.5"/><circle cx="197.8" cy="456.2" r="1.5"/><circle cx="198.5" cy="457.8" r="1.5"/><circle cx="197.8" cy="459.7" r="1.5"/><circle cx="198.2" cy="460.2" r="1.5"/><circle cx="197.5" cy="462.7" r="1.5"/><circle cx="197.7" cy="463.3" r="1.5"/><circle cx="198.3" cy="465.6" r="1.5"/><circle cx="198.5" cy="469.3" r="1.5"/><circle cx="197.6" cy="473.1" r="1.5"/><circle cx="199.1" cy="443.1" r="1.5"/><circle cx="199.8" cy="445.2" r="1.5"/><circle cx="199.2" cy="446.2" r="1.5"/><circle cx="199.8" cy="448.6" r="1.5"/><circle cx="200.2" cy="449.5" r="1.5"/><circle cx="199.3" cy="450.8" r="1.5"/><circle cx="199.2" cy="455.2" r="1.5"/><circle cx="199.4" cy="457.4" r="1.5"/><circle cx="199.6" cy="458.8" r="1.5"/><circle cx="199.5" cy="460.4" r="1.5"/><circle cx="199.5" cy="462.0" r="1.5"/><circle cx="199.4" cy="463.0" r="1.5"/><circle cx="199.2" cy="468.7" r="1.5"/><circle cx="199.8" cy="470.0" r="1.5"/><circle cx="199.9" cy="472.1" r="1.5"/><circle cx="200.0" cy="473.5" r="1.5"/><circle cx="199.7" cy="475.4" r="1.5"/><circle cx="200.2" cy="477.1" r="1.5"/><circle cx="201.0" cy="449.7" r="1.5"/><circle cx="201.3" cy="450.5" r="1.5"/><circle cx="200.9" cy="454.4" r="1.5"/><circle cx="201.7" cy="455.7" r="1.5"/><circle cx="201.5" cy="456.9" r="1.5"/><circle cx="201.1" cy="460.4" r="1.5"/><circle cx="201.5" cy="460.9" r="1.5"/><circle cx="200.7" cy="463.3" r="1.5"/><circle cx="201.5" cy="464.1" r="1.5"/><circle cx="201.4" cy="465.4" r="1.5"/><circle cx="201.5" cy="467.0" r="1.5"/><circle cx="200.9" cy="468.7" r="1.5"/><circle cx="201.3" cy="475.2" r="1.5"/><circle cx="201.1" cy="476.8" r="1.5"/><circle cx="201.7" cy="477.8" r="1.5"/><circle cx="201.5" cy="478.9" r="1.5"/><circle cx="200.7" cy="481.4" r="1.5"/><circle cx="202.8" cy="445.6" r="1.5"/><circle cx="202.8" cy="450.6" r="1.5"/><circle cx="203.1" cy="452.0" r="1.5"/><circle cx="202.4" cy="455.5" r="1.5"/><circle cx="202.4" cy="456.6" r="1.5"/><circle cx="202.4" cy="458.7" r="1.5"/><circle cx="203.1" cy="459.3" r="1.5"/><circle cx="203.3" cy="462.8" r="1.5"/><circle cx="203.0" cy="465.7" r="1.5"/><circle cx="202.3" cy="469.1" r="1.5"/><circle cx="203.0" cy="470.4" r="1.5"/><circle cx="202.8" cy="472.0" r="1.5"/><circle cx="203.0" cy="476.2" r="1.5"/><circle cx="202.4" cy="477.2" r="1.5"/><circle cx="202.8" cy="478.9" r="1.5"/><circle cx="202.9" cy="481.0" r="1.5"/><circle cx="202.4" cy="482.6" r="1.5"/><circle cx="203.4" cy="484.2" r="1.5"/><circle cx="202.9" cy="485.7" r="1.5"/><circle cx="204.6" cy="447.5" r="1.5"/><circle cx="204.2" cy="451.0" r="1.5"/><circle cx="204.5" cy="452.4" r="1.5"/><circle cx="204.2" cy="453.5" r="1.5"/><circle cx="205.0" cy="454.6" r="1.5"/><circle cx="203.8" cy="458.0" r="1.5"/><circle cx="204.4" cy="459.0" r="1.5"/><circle cx="204.6" cy="461.1" r="1.5"/><circle cx="204.7" cy="464.8" r="1.5"/><circle cx="204.3" cy="467.5" r="1.5"/><circle cx="204.5" cy="467.8" r="1.5"/><circle cx="204.9" cy="470.0" r="1.5"/><circle cx="203.8" cy="471.1" r="1.5"/><circle cx="204.8" cy="472.4" r="1.5"/><circle cx="204.9" cy="475.9" r="1.5"/><circle cx="205.0" cy="477.3" r="1.5"/><circle cx="203.9" cy="479.3" r="1.5"/><circle cx="204.7" cy="481.6" r="1.5"/><circle cx="204.2" cy="483.6" r="1.5"/><circle cx="206.5" cy="447.2" r="1.5"/><circle cx="205.6" cy="448.6" r="1.5"/><circle cx="206.4" cy="450.1" r="1.5"/><circle cx="206.1" cy="452.1" r="1.5"/><circle cx="206.1" cy="452.9" r="1.5"/><circle cx="205.9" cy="454.7" r="1.5"/><circle cx="205.7" cy="456.9" r="1.5"/><circle cx="205.5" cy="458.0" r="1.5"/><circle cx="205.8" cy="459.8" r="1.5"/><circle cx="206.2" cy="461.4" r="1.5"/><circle cx="206.0" cy="463.0" r="1.5"/><circle cx="205.6" cy="463.5" r="1.5"/><circle cx="205.8" cy="465.0" r="1.5"/><circle cx="205.9" cy="466.8" r="1.5"/><circle cx="206.5" cy="468.2" r="1.5"/><circle cx="205.8" cy="469.8" r="1.5"/><circle cx="205.9" cy="472.6" r="1.5"/><circle cx="205.5" cy="474.9" r="1.5"/><circle cx="205.6" cy="476.2" r="1.5"/><circle cx="206.0" cy="477.3" r="1.5"/><circle cx="206.3" cy="479.3" r="1.5"/><circle cx="205.6" cy="480.7" r="1.5"/><circle cx="206.2" cy="481.5" r="1.5"/><circle cx="205.7" cy="484.9" r="1.5"/><circle cx="205.5" cy="486.7" r="1.5"/><circle cx="205.7" cy="489.7" r="1.5"/><circle cx="207.7" cy="448.1" r="1.5"/><circle cx="207.6" cy="450.5" r="1.5"/><circle cx="207.8" cy="452.0" r="1.5"/><circle cx="207.4" cy="454.0" r="1.5"/><circle cx="207.6" cy="454.6" r="1.5"/><circle cx="207.2" cy="456.7" r="1.5"/><circle cx="207.7" cy="458.6" r="1.5"/><circle cx="207.9" cy="459.9" r="1.5"/><circle cx="207.4" cy="460.5" r="1.5"/><circle cx="207.9" cy="462.3" r="1.5"/><circle cx="207.4" cy="464.3" r="1.5"/><circle cx="208.2" cy="465.4" r="1.5"/><circle cx="207.1" cy="467.3" r="1.5"/><circle cx="207.2" cy="470.4" r="1.5"/><circle cx="207.1" cy="471.4" r="1.5"/><circle cx="207.0" cy="472.5" r="1.5"/><circle cx="208.0" cy="475.1" r="1.5"/><circle cx="208.1" cy="476.3" r="1.5"/><circle cx="208.2" cy="479.2" r="1.5"/><circle cx="207.2" cy="482.0" r="1.5"/><circle cx="207.4" cy="483.3" r="1.5"/><circle cx="207.7" cy="484.7" r="1.5"/><circle cx="207.6" cy="486.5" r="1.5"/><circle cx="207.8" cy="487.6" r="1.5"/><circle cx="207.3" cy="489.8" r="1.5"/><circle cx="208.9" cy="447.4" r="1.5"/><circle cx="209.2" cy="450.8" r="1.5"/><circle cx="209.1" cy="451.8" r="1.5"/><circle cx="209.0" cy="453.8" r="1.5"/><circle cx="208.8" cy="454.7" r="1.5"/><circle cx="209.4" cy="456.7" r="1.5"/><circle cx="209.4" cy="457.7" r="1.5"/><circle cx="209.0" cy="458.9" r="1.5"/><circle cx="209.4" cy="463.1" r="1.5"/><circle cx="208.9" cy="463.8" r="1.5"/><circle cx="209.6" cy="465.8" r="1.5"/><circle cx="209.0" cy="466.7" r="1.5"/><circle cx="209.5" cy="469.0" r="1.5"/><circle cx="209.6" cy="469.9" r="1.5"/><circle cx="209.0" cy="472.1" r="1.5"/><circle cx="208.8" cy="472.7" r="1.5"/><circle cx="209.6" cy="478.0" r="1.5"/><circle cx="208.8" cy="479.3" r="1.5"/><circle cx="208.7" cy="481.0" r="1.5"/><circle cx="209.1" cy="482.1" r="1.5"/><circle cx="208.6" cy="483.4" r="1.5"/><circle cx="208.6" cy="484.8" r="1.5"/><circle cx="209.0" cy="486.7" r="1.5"/><circle cx="208.8" cy="487.4" r="1.5"/><circle cx="209.3" cy="489.3" r="1.5"/><circle cx="209.6" cy="491.5" r="1.5"/><circle cx="210.6" cy="445.5" r="1.5"/><circle cx="210.5" cy="449.6" r="1.5"/><circle cx="210.6" cy="451.9" r="1.5"/><circle cx="211.4" cy="452.6" r="1.5"/><circle cx="210.9" cy="455.7" r="1.5"/><circle cx="211.2" cy="457.7" r="1.5"/><circle cx="211.1" cy="458.8" r="1.5"/><circle cx="210.7" cy="461.5" r="1.5"/><circle cx="211.1" cy="463.8" r="1.5"/><circle cx="210.7" cy="465.2" r="1.5"/><circle cx="210.5" cy="466.7" r="1.5"/><circle cx="211.4" cy="467.4" r="1.5"/><circle cx="210.5" cy="468.8" r="1.5"/><circle cx="210.3" cy="470.7" r="1.5"/><circle cx="210.8" cy="472.1" r="1.5"/><circle cx="210.8" cy="474.4" r="1.5"/><circle cx="210.8" cy="475.4" r="1.5"/><circle cx="211.2" cy="476.5" r="1.5"/><circle cx="210.6" cy="480.0" r="1.5"/><circle cx="210.5" cy="480.9" r="1.5"/><circle cx="210.3" cy="484.6" r="1.5"/><circle cx="210.6" cy="485.7" r="1.5"/><circle cx="210.6" cy="487.3" r="1.5"/><circle cx="210.7" cy="490.0" r="1.5"/><circle cx="212.7" cy="451.0" r="1.5"/><circle cx="213.0" cy="453.3" r="1.5"/><circle cx="212.4" cy="454.6" r="1.5"/><circle cx="212.0" cy="456.3" r="1.5"/><circle cx="212.1" cy="457.8" r="1.5"/><circle cx="212.5" cy="458.7" r="1.5"/><circle cx="212.2" cy="460.7" r="1.5"/><circle cx="212.4" cy="462.2" r="1.5"/><circle cx="212.2" cy="463.8" r="1.5"/><circle cx="212.5" cy="465.4" r="1.5"/><circle cx="212.1" cy="466.5" r="1.5"/><circle cx="212.5" cy="468.4" r="1.5"/><circle cx="212.3" cy="470.2" r="1.5"/><circle cx="212.6" cy="470.6" r="1.5"/><circle cx="211.8" cy="473.1" r="1.5"/><circle cx="212.1" cy="476.0" r="1.5"/><circle cx="212.8" cy="477.1" r="1.5"/><circle cx="212.9" cy="478.5" r="1.5"/><circle cx="212.6" cy="480.1" r="1.5"/><circle cx="212.9" cy="482.9" r="1.5"/><circle cx="212.2" cy="484.1" r="1.5"/><circle cx="212.5" cy="485.7" r="1.5"/><circle cx="212.2" cy="487.3" r="1.5"/><circle cx="213.5" cy="453.9" r="1.5"/><circle cx="214.1" cy="455.3" r="1.5"/><circle cx="214.2" cy="456.3" r="1.5"/><circle cx="213.9" cy="457.5" r="1.5"/><circle cx="214.3" cy="461.2" r="1.5"/><circle cx="214.2" cy="462.2" r="1.5"/><circle cx="213.7" cy="464.4" r="1.5"/><circle cx="214.0" cy="465.3" r="1.5"/><circle cx="214.3" cy="467.1" r="1.5"/><circle cx="213.7" cy="469.7" r="1.5"/><circle cx="214.2" cy="471.2" r="1.5"/><circle cx="213.6" cy="473.4" r="1.5"/><circle cx="214.0" cy="474.7" r="1.5"/><circle cx="214.3" cy="475.7" r="1.5"/><circle cx="213.5" cy="477.1" r="1.5"/><circle cx="214.0" cy="478.7" r="1.5"/><circle cx="213.7" cy="480.3" r="1.5"/><circle cx="214.4" cy="481.6" r="1.5"/><circle cx="214.1" cy="483.5" r="1.5"/><circle cx="213.6" cy="485.2" r="1.5"/><circle cx="214.4" cy="486.7" r="1.5"/><circle cx="214.4" cy="487.8" r="1.5"/><circle cx="214.5" cy="489.0" r="1.5"/><circle cx="213.9" cy="490.9" r="1.5"/><circle cx="213.7" cy="492.8" r="1.5"/><circle cx="215.6" cy="455.3" r="1.5"/><circle cx="216.1" cy="456.1" r="1.5"/><circle cx="215.9" cy="458.0" r="1.5"/><circle cx="215.3" cy="459.8" r="1.5"/><circle cx="215.9" cy="460.6" r="1.5"/><circle cx="215.8" cy="462.3" r="1.5"/><circle cx="215.1" cy="464.1" r="1.5"/><circle cx="215.2" cy="465.5" r="1.5"/><circle cx="215.1" cy="467.3" r="1.5"/><circle cx="215.3" cy="469.4" r="1.5"/><circle cx="215.1" cy="471.4" r="1.5"/><circle cx="215.4" cy="472.9" r="1.5"/><circle cx="215.9" cy="474.7" r="1.5"/><circle cx="215.3" cy="475.3" r="1.5"/><circle cx="215.1" cy="477.7" r="1.5"/><circle cx="216.2" cy="478.6" r="1.5"/><circle cx="215.9" cy="480.3" r="1.5"/><circle cx="215.4" cy="482.9" r="1.5"/><circle cx="215.5" cy="486.4" r="1.5"/><circle cx="216.0" cy="487.9" r="1.5"/><circle cx="215.5" cy="489.9" r="1.5"/><circle cx="215.8" cy="491.0" r="1.5"/><circle cx="215.7" cy="492.1" r="1.5"/><circle cx="217.4" cy="453.6" r="1.5"/><circle cx="216.8" cy="456.2" r="1.5"/><circle cx="217.5" cy="457.6" r="1.5"/><circle cx="217.4" cy="459.6" r="1.5"/><circle cx="217.1" cy="460.7" r="1.5"/><circle cx="217.0" cy="462.0" r="1.5"/><circle cx="216.9" cy="464.3" r="1.5"/><circle cx="217.3" cy="465.8" r="1.5"/><circle cx="217.5" cy="466.4" r="1.5"/><circle cx="217.5" cy="469.7" r="1.5"/><circle cx="217.1" cy="471.4" r="1.5"/><circle cx="216.7" cy="472.9" r="1.5"/><circle cx="217.8" cy="474.3" r="1.5"/><circle cx="216.9" cy="476.5" r="1.5"/><circle cx="217.4" cy="477.8" r="1.5"/><circle cx="217.5" cy="478.6" r="1.5"/><circle cx="216.7" cy="480.3" r="1.5"/><circle cx="217.1" cy="483.7" r="1.5"/><circle cx="216.8" cy="484.9" r="1.5"/><circle cx="217.7" cy="486.9" r="1.5"/><circle cx="217.3" cy="487.8" r="1.5"/><circle cx="217.1" cy="489.9" r="1.5"/><circle cx="217.3" cy="491.2" r="1.5"/><circle cx="217.7" cy="491.9" r="1.5"/><circle cx="217.5" cy="493.3" r="1.5"/><circle cx="216.8" cy="495.4" r="1.5"/><circle cx="216.8" cy="496.6" r="1.5"/><circle cx="218.5" cy="457.6" r="1.5"/><circle cx="218.3" cy="459.7" r="1.5"/><circle cx="219.3" cy="460.8" r="1.5"/><circle cx="219.2" cy="461.9" r="1.5"/><circle cx="219.0" cy="464.0" r="1.5"/><circle cx="218.5" cy="465.4" r="1.5"/><circle cx="218.7" cy="466.6" r="1.5"/><circle cx="218.6" cy="468.1" r="1.5"/><circle cx="218.3" cy="470.3" r="1.5"/><circle cx="218.5" cy="470.9" r="1.5"/><circle cx="218.8" cy="473.2" r="1.5"/><circle cx="218.7" cy="474.9" r="1.5"/><circle cx="219.4" cy="476.4" r="1.5"/><circle cx="219.2" cy="480.5" r="1.5"/><circle cx="219.4" cy="482.1" r="1.5"/><circle cx="218.9" cy="482.9" r="1.5"/><circle cx="218.5" cy="486.5" r="1.5"/><circle cx="218.8" cy="488.1" r="1.5"/><circle cx="219.0" cy="488.9" r="1.5"/><circle cx="219.0" cy="491.1" r="1.5"/><circle cx="218.4" cy="492.9" r="1.5"/><circle cx="218.7" cy="493.7" r="1.5"/><circle cx="221.0" cy="460.6" r="1.5"/><circle cx="220.1" cy="462.5" r="1.5"/><circle cx="220.9" cy="464.1" r="1.5"/><circle cx="220.7" cy="466.6" r="1.5"/><circle cx="220.2" cy="468.5" r="1.5"/><circle cx="220.8" cy="469.9" r="1.5"/><circle cx="220.0" cy="471.2" r="1.5"/><circle cx="220.2" cy="472.2" r="1.5"/><circle cx="220.7" cy="473.8" r="1.5"/><circle cx="220.2" cy="476.1" r="1.5"/><circle cx="220.1" cy="477.0" r="1.5"/><circle cx="220.3" cy="478.5" r="1.5"/><circle cx="220.8" cy="480.0" r="1.5"/><circle cx="221.0" cy="481.3" r="1.5"/><circle cx="219.8" cy="482.7" r="1.5"/><circle cx="220.5" cy="484.7" r="1.5"/><circle cx="220.1" cy="486.7" r="1.5"/><circle cx="221.0" cy="488.1" r="1.5"/><circle cx="220.8" cy="488.6" r="1.5"/><circle cx="220.8" cy="490.9" r="1.5"/><circle cx="220.8" cy="491.7" r="1.5"/><circle cx="220.1" cy="493.5" r="1.5"/><circle cx="220.6" cy="495.2" r="1.5"/><circle cx="222.5" cy="458.1" r="1.5"/><circle cx="221.8" cy="460.0" r="1.5"/><circle cx="222.2" cy="463.3" r="1.5"/><circle cx="221.9" cy="464.3" r="1.5"/><circle cx="221.8" cy="465.3" r="1.5"/><circle cx="222.4" cy="467.0" r="1.5"/><circle cx="222.5" cy="468.4" r="1.5"/><circle cx="222.0" cy="470.1" r="1.5"/><circle cx="222.4" cy="475.0" r="1.5"/><circle cx="222.6" cy="475.9" r="1.5"/><circle cx="221.9" cy="477.2" r="1.5"/><circle cx="221.9" cy="479.8" r="1.5"/><circle cx="222.4" cy="481.1" r="1.5"/><circle cx="221.7" cy="482.1" r="1.5"/><circle cx="221.9" cy="484.0" r="1.5"/><circle cx="221.8" cy="485.4" r="1.5"/><circle cx="221.8" cy="487.7" r="1.5"/><circle cx="221.5" cy="489.7" r="1.5"/><circle cx="222.2" cy="491.9" r="1.5"/><circle cx="221.9" cy="497.0" r="1.5"/><circle cx="223.1" cy="460.7" r="1.5"/><circle cx="223.7" cy="461.5" r="1.5"/><circle cx="224.0" cy="464.0" r="1.5"/><circle cx="223.1" cy="465.4" r="1.5"/><circle cx="223.3" cy="466.9" r="1.5"/><circle cx="224.1" cy="467.6" r="1.5"/><circle cx="223.5" cy="469.2" r="1.5"/><circle cx="223.7" cy="470.7" r="1.5"/><circle cx="224.1" cy="472.5" r="1.5"/><circle cx="224.2" cy="474.9" r="1.5"/><circle cx="223.7" cy="477.2" r="1.5"/><circle cx="223.6" cy="480.1" r="1.5"/><circle cx="223.8" cy="482.0" r="1.5"/><circle cx="223.4" cy="483.4" r="1.5"/><circle cx="223.9" cy="483.9" r="1.5"/><circle cx="224.0" cy="485.6" r="1.5"/><circle cx="223.3" cy="487.7" r="1.5"/><circle cx="223.7" cy="488.7" r="1.5"/><circle cx="224.1" cy="490.8" r="1.5"/><circle cx="223.6" cy="493.3" r="1.5"/><circle cx="224.9" cy="459.6" r="1.5"/><circle cx="225.6" cy="462.5" r="1.5"/><circle cx="225.7" cy="463.6" r="1.5"/><circle cx="224.8" cy="465.1" r="1.5"/><circle cx="225.4" cy="467.2" r="1.5"/><circle cx="225.6" cy="468.6" r="1.5"/><circle cx="225.6" cy="470.5" r="1.5"/><circle cx="225.7" cy="472.0" r="1.5"/><circle cx="224.6" cy="473.5" r="1.5"/><circle cx="224.7" cy="474.9" r="1.5"/><circle cx="225.4" cy="476.5" r="1.5"/><circle cx="225.6" cy="479.6" r="1.5"/><circle cx="225.4" cy="480.8" r="1.5"/><circle cx="225.3" cy="481.8" r="1.5"/><circle cx="225.3" cy="483.1" r="1.5"/><circle cx="225.4" cy="488.3" r="1.5"/><circle cx="225.5" cy="489.9" r="1.5"/><circle cx="224.7" cy="490.8" r="1.5"/><circle cx="226.3" cy="460.5" r="1.5"/><circle cx="227.0" cy="461.2" r="1.5"/><circle cx="227.0" cy="463.7" r="1.5"/><circle cx="226.7" cy="464.2" r="1.5"/><circle cx="226.5" cy="466.6" r="1.5"/><circle cx="227.1" cy="467.8" r="1.5"/><circle cx="226.4" cy="469.1" r="1.5"/><circle cx="226.5" cy="471.0" r="1.5"/><circle cx="226.6" cy="472.0" r="1.5"/><circle cx="226.8" cy="475.1" r="1.5"/><circle cx="226.9" cy="480.2" r="1.5"/><circle cx="226.5" cy="480.7" r="1.5"/><circle cx="227.1" cy="482.3" r="1.5"/><circle cx="227.4" cy="484.2" r="1.5"/><circle cx="227.2" cy="486.2" r="1.5"/><circle cx="226.3" cy="487.4" r="1.5"/><circle cx="227.3" cy="488.9" r="1.5"/><circle cx="226.8" cy="490.0" r="1.5"/><circle cx="226.8" cy="492.2" r="1.5"/><circle cx="229.0" cy="463.5" r="1.5"/><circle cx="228.8" cy="465.5" r="1.5"/><circle cx="228.1" cy="467.4" r="1.5"/><circle cx="228.3" cy="468.2" r="1.5"/><circle cx="228.7" cy="469.6" r="1.5"/><circle cx="228.3" cy="473.0" r="1.5"/><circle cx="228.9" cy="475.1" r="1.5"/><circle cx="228.2" cy="475.6" r="1.5"/><circle cx="228.4" cy="477.7" r="1.5"/><circle cx="229.0" cy="479.0" r="1.5"/><circle cx="228.3" cy="480.2" r="1.5"/><circle cx="228.5" cy="483.5" r="1.5"/><circle cx="228.2" cy="485.1" r="1.5"/><circle cx="229.0" cy="486.7" r="1.5"/><circle cx="227.9" cy="487.7" r="1.5"/><circle cx="228.7" cy="490.1" r="1.5"/><circle cx="228.7" cy="491.0" r="1.5"/><circle cx="230.5" cy="462.6" r="1.5"/><circle cx="229.5" cy="463.7" r="1.5"/><circle cx="229.7" cy="464.6" r="1.5"/><circle cx="229.4" cy="467.0" r="1.5"/><circle cx="229.7" cy="468.1" r="1.5"/><circle cx="229.6" cy="469.3" r="1.5"/><circle cx="229.9" cy="471.4" r="1.5"/><circle cx="230.4" cy="472.8" r="1.5"/><circle cx="229.9" cy="474.3" r="1.5"/><circle cx="230.6" cy="475.9" r="1.5"/><circle cx="230.2" cy="476.7" r="1.5"/><circle cx="229.7" cy="479.1" r="1.5"/><circle cx="229.9" cy="480.6" r="1.5"/><circle cx="230.3" cy="481.4" r="1.5"/><circle cx="230.2" cy="482.9" r="1.5"/><circle cx="229.8" cy="485.0" r="1.5"/><circle cx="230.4" cy="486.8" r="1.5"/><circle cx="230.6" cy="487.1" r="1.5"/><circle cx="230.1" cy="490.5" r="1.5"/><circle cx="231.9" cy="464.4" r="1.5"/><circle cx="231.0" cy="466.0" r="1.5"/><circle cx="231.9" cy="467.9" r="1.5"/><circle cx="231.9" cy="469.5" r="1.5"/><circle cx="231.6" cy="470.9" r="1.5"/><circle cx="231.2" cy="472.0" r="1.5"/><circle cx="231.1" cy="473.6" r="1.5"/><circle cx="231.7" cy="474.9" r="1.5"/><circle cx="231.1" cy="477.1" r="1.5"/><circle cx="231.1" cy="478.0" r="1.5"/><circle cx="231.3" cy="480.2" r="1.5"/><circle cx="231.9" cy="483.0" r="1.5"/><circle cx="231.3" cy="484.8" r="1.5"/><circle cx="231.4" cy="487.0" r="1.5"/><circle cx="231.5" cy="489.2" r="1.5"/><circle cx="232.0" cy="490.0" r="1.5"/><circle cx="232.1" cy="491.5" r="1.5"/><circle cx="233.3" cy="464.3" r="1.5"/><circle cx="233.2" cy="466.2" r="1.5"/><circle cx="233.0" cy="467.8" r="1.5"/><circle cx="233.3" cy="468.8" r="1.5"/><circle cx="232.8" cy="470.8" r="1.5"/><circle cx="232.7" cy="472.3" r="1.5"/><circle cx="233.4" cy="474.5" r="1.5"/><circle cx="233.6" cy="476.2" r="1.5"/><circle cx="233.4" cy="477.5" r="1.5"/><circle cx="233.1" cy="479.9" r="1.5"/><circle cx="233.5" cy="480.3" r="1.5"/><circle cx="232.7" cy="481.9" r="1.5"/><circle cx="232.8" cy="484.2" r="1.5"/><circle cx="233.3" cy="485.8" r="1.5"/><circle cx="232.9" cy="487.2" r="1.5"/><circle cx="233.7" cy="488.1" r="1.5"/><circle cx="233.7" cy="489.6" r="1.5"/><circle cx="234.9" cy="467.9" r="1.5"/><circle cx="235.1" cy="471.7" r="1.5"/><circle cx="235.0" cy="472.8" r="1.5"/><circle cx="234.3" cy="474.9" r="1.5"/><circle cx="235.2" cy="475.9" r="1.5"/><circle cx="234.6" cy="477.5" r="1.5"/><circle cx="234.8" cy="478.4" r="1.5"/><circle cx="234.7" cy="482.5" r="1.5"/><circle cx="235.0" cy="486.7" r="1.5"/><circle cx="234.2" cy="488.4" r="1.5"/><circle cx="234.9" cy="489.8" r="1.5"/><circle cx="235.3" cy="492.1" r="1.5"/><circle cx="236.0" cy="467.0" r="1.5"/><circle cx="236.5" cy="467.5" r="1.5"/><circle cx="236.9" cy="468.9" r="1.5"/><circle cx="235.9" cy="471.6" r="1.5"/><circle cx="236.9" cy="472.9" r="1.5"/><circle cx="235.9" cy="474.2" r="1.5"/><circle cx="236.4" cy="475.1" r="1.5"/><circle cx="236.8" cy="476.5" r="1.5"/><circle cx="236.1" cy="479.7" r="1.5"/><circle cx="236.6" cy="481.6" r="1.5"/><circle cx="236.4" cy="485.1" r="1.5"/><circle cx="235.8" cy="485.8" r="1.5"/><circle cx="235.9" cy="487.4" r="1.5"/><circle cx="236.9" cy="489.0" r="1.5"/><circle cx="238.1" cy="467.7" r="1.5"/><circle cx="237.8" cy="471.0" r="1.5"/><circle cx="238.6" cy="471.6" r="1.5"/><circle cx="237.5" cy="473.8" r="1.5"/><circle cx="238.2" cy="475.4" r="1.5"/><circle cx="238.1" cy="477.1" r="1.5"/><circle cx="238.2" cy="478.2" r="1.5"/><circle cx="238.3" cy="479.7" r="1.5"/><circle cx="237.9" cy="481.0" r="1.5"/><circle cx="238.1" cy="482.4" r="1.5"/><circle cx="237.9" cy="483.9" r="1.5"/><circle cx="237.4" cy="487.3" r="1.5"/><circle cx="237.9" cy="488.7" r="1.5"/><circle cx="239.1" cy="470.6" r="1.5"/><circle cx="239.3" cy="471.3" r="1.5"/><circle cx="240.0" cy="473.1" r="1.5"/><circle cx="239.3" cy="475.0" r="1.5"/><circle cx="239.7" cy="479.7" r="1.5"/><circle cx="239.6" cy="480.2" r="1.5"/><circle cx="239.9" cy="481.6" r="1.5"/><circle cx="239.8" cy="483.6" r="1.5"/><circle cx="240.9" cy="469.5" r="1.5"/><circle cx="241.0" cy="471.1" r="1.5"/><circle cx="240.8" cy="472.9" r="1.5"/><circle cx="241.7" cy="474.7" r="1.5"/><circle cx="241.3" cy="475.2" r="1.5"/><circle cx="241.3" cy="477.3" r="1.5"/><circle cx="240.6" cy="478.2" r="1.5"/><circle cx="240.8" cy="479.9" r="1.5"/><circle cx="241.7" cy="481.7" r="1.5"/><circle cx="241.3" cy="482.9" r="1.5"/><circle cx="240.8" cy="484.4" r="1.5"/><circle cx="241.7" cy="485.8" r="1.5"/><circle cx="240.8" cy="487.3" r="1.5"/><circle cx="243.3" cy="473.4" r="1.5"/><circle cx="243.0" cy="476.6" r="1.5"/><circle cx="242.4" cy="478.7" r="1.5"/><circle cx="243.0" cy="479.7" r="1.5"/><circle cx="242.4" cy="480.8" r="1.5"/><circle cx="243.0" cy="482.8" r="1.5"/><circle cx="243.1" cy="484.1" r="1.5"/><circle cx="242.5" cy="485.4" r="1.5"/><circle cx="244.9" cy="475.0" r="1.5"/><circle cx="243.9" cy="475.9" r="1.5"/><circle cx="244.4" cy="478.2" r="1.5"/><circle cx="244.3" cy="479.0" r="1.5"/><circle cx="244.2" cy="481.8" r="1.5"/><circle cx="244.8" cy="484.9" r="1.5"/><circle cx="246.2" cy="474.3" r="1.5"/><circle cx="245.5" cy="476.7" r="1.5"/><circle cx="246.1" cy="477.4" r="1.5"/><circle cx="245.9" cy="479.6" r="1.5"/><circle cx="245.6" cy="480.8" r="1.5"/><circle cx="246.0" cy="481.7" r="1.5"/><circle cx="245.6" cy="484.8" r="1.5"/><circle cx="248.0" cy="472.3" r="1.5"/><circle cx="247.2" cy="474.5" r="1.5"/><circle cx="247.4" cy="477.8" r="1.5"/><circle cx="247.1" cy="479.1" r="1.5"/><circle cx="247.2" cy="482.1" r="1.5"/><circle cx="247.2" cy="483.0" r="1.5"/><circle cx="247.2" cy="484.8" r="1.5"/><circle cx="226.1" cy="497.7" r="1.6"/><circle cx="226.4" cy="499.8" r="1.6"/><circle cx="226.1" cy="501.9" r="1.6"/><circle cx="226.0" cy="504.0" r="1.6"/><circle cx="255.2" cy="476.6" r="1.6"/><circle cx="255.0" cy="478.7" r="1.6"/><circle cx="255.0" cy="480.8" r="1.6"/><circle cx="254.8" cy="482.9" r="1.6"/><circle cx="254.8" cy="487.1" r="1.6"/><circle cx="197.2" cy="484.9" r="1.5"/><circle cx="198.0" cy="476.0" r="1.5"/><circle cx="220.0" cy="451.0" r="1.5"/><circle cx="197.0" cy="438.0" r="1.5"/></g>
<g font-family="'Liberation Sans', Arial, sans-serif" font-size="6.6" fill="rgb(0,114,189)"><text x="206.9" y="433.4">R=-0.714</text><text x="206.9" y="443.5">p&lt;0.001</text></g>
<path d="M297.3 414.3V518.9H398.3" stroke="#7a7a7a" stroke-width="0.7" fill="none"/>
<path d="M297.3 518.9v-1.2 M317.5 518.9v-1.2 M337.7 518.9v-1.2 M357.9 518.9v-1.2 M378.1 518.9v-1.2 M398.3 518.9v-1.2 M297.3 518.9h1.2 M297.3 504.1h1.2 M297.3 489.3h1.2 M297.3 474.5h1.2 M297.3 459.7h1.2 M297.3 444.9h1.2 M297.3 430.1h1.2 M297.3 415.3h1.2" stroke="#7a7a7a" stroke-width="0.6"/>
<g font-family="'Liberation Sans', Arial, sans-serif" font-size="5.4" fill="#3a3a3a"><text x="297.3" y="527.8" text-anchor="middle">0</text><text x="317.5" y="527.8" text-anchor="middle">500</text><text x="337.7" y="527.8" text-anchor="middle">1000</text><text x="357.9" y="527.8" text-anchor="middle">1500</text><text x="378.1" y="527.8" text-anchor="middle">2000</text><text x="398.3" y="527.8" text-anchor="middle">2500</text><text x="294.1" y="520.8" text-anchor="end">2.2</text><text x="294.1" y="506.0" text-anchor="end">2.4</text><text x="294.1" y="491.2" text-anchor="end">2.6</text><text x="294.1" y="476.4" text-anchor="end">2.8</text><text x="294.1" y="461.6" text-anchor="end">3</text><text x="294.1" y="446.8" text-anchor="end">3.2</text><text x="294.1" y="432.0" text-anchor="end">3.4</text><text x="294.1" y="417.2" text-anchor="end">3.6</text></g>
<text x="347.8" y="410.7" text-anchor="middle" font-family="'Liberation Sans', Arial, sans-serif" font-size="8.8" font-weight="bold" fill="#000">Knee Peak2</text>
<text x="347.8" y="538.8" text-anchor="middle" font-family="'Liberation Sans', Arial, sans-serif" font-size="8.6" fill="#262626" stroke="#262626" stroke-width="0.12">Fmax [N]</text>
<text transform="translate(282.4,462.2) rotate(-90)" text-anchor="middle" font-family="'Liberation Sans', Arial, sans-serif" font-size="7.25" fill="#262626" stroke="#262626" stroke-width="0.12">Max JCF [BW]</text>
<g fill="rgb(0,114,189)"><circle cx="317.3" cy="424.9" r="1.5"/><circle cx="316.1" cy="436.0" r="1.5"/><circle cx="336.0" cy="436.4" r="1.5"/><circle cx="339.5" cy="436.4" r="1.5"/><circle cx="316.2" cy="441.3" r="1.6"/><circle cx="316.2" cy="443.4" r="1.6"/><circle cx="315.9" cy="447.6" r="1.6"/><circle cx="316.2" cy="449.7" r="1.6"/><circle cx="316.1" cy="451.8" r="1.6"/><circle cx="328.5" cy="440.5" r="1.6"/><circle cx="328.9" cy="442.6" r="1.6"/><circle cx="328.6" cy="444.7" r="1.6"/><circle cx="328.6" cy="446.8" r="1.6"/><circle cx="328.8" cy="451.0" r="1.6"/><circle cx="336.2" cy="443.0" r="1.6"/><circle cx="336.2" cy="445.1" r="1.6"/><circle cx="336.3" cy="447.2" r="1.6"/><circle cx="336.1" cy="449.3" r="1.6"/><circle cx="336.3" cy="451.4" r="1.6"/><circle cx="336.3" cy="453.5" r="1.6"/><circle cx="349.7" cy="441.0" r="1.6"/><circle cx="349.5" cy="443.1" r="1.6"/><circle cx="349.3" cy="445.2" r="1.6"/><circle cx="349.6" cy="447.3" r="1.6"/><circle cx="349.4" cy="449.4" r="1.6"/><circle cx="310.0" cy="451.0" r="1.6"/><circle cx="310.0" cy="453.1" r="1.6"/><circle cx="310.1" cy="455.2" r="1.6"/><circle cx="310.2" cy="457.3" r="1.6"/><circle cx="310.4" cy="459.4" r="1.6"/><circle cx="310.2" cy="461.5" r="1.6"/><circle cx="310.1" cy="463.6" r="1.6"/><circle cx="310.1" cy="465.7" r="1.6"/><circle cx="310.4" cy="472.0" r="1.6"/><circle cx="311.6" cy="455.0" r="1.6"/><circle cx="311.6" cy="457.1" r="1.6"/><circle cx="312.0" cy="459.2" r="1.6"/><circle cx="312.0" cy="461.3" r="1.6"/><circle cx="311.7" cy="463.4" r="1.6"/><circle cx="311.7" cy="465.5" r="1.6"/><circle cx="311.8" cy="467.6" r="1.6"/><circle cx="311.9" cy="469.7" r="1.6"/><circle cx="312.0" cy="456.3" r="1.5"/><circle cx="313.4" cy="453.9" r="1.5"/><circle cx="313.9" cy="458.1" r="1.5"/><circle cx="314.8" cy="454.8" r="1.5"/><circle cx="315.5" cy="455.6" r="1.5"/><circle cx="315.9" cy="457.8" r="1.5"/><circle cx="315.8" cy="459.7" r="1.5"/><circle cx="315.9" cy="461.5" r="1.5"/><circle cx="315.5" cy="462.9" r="1.5"/><circle cx="316.6" cy="451.1" r="1.5"/><circle cx="317.0" cy="454.9" r="1.5"/><circle cx="316.7" cy="459.1" r="1.5"/><circle cx="317.2" cy="462.5" r="1.5"/><circle cx="317.1" cy="464.0" r="1.5"/><circle cx="317.4" cy="464.5" r="1.5"/><circle cx="317.1" cy="466.1" r="1.5"/><circle cx="316.6" cy="469.5" r="1.5"/><circle cx="316.5" cy="474.3" r="1.5"/><circle cx="318.0" cy="452.2" r="1.5"/><circle cx="318.4" cy="452.8" r="1.5"/><circle cx="318.3" cy="455.0" r="1.5"/><circle cx="318.1" cy="458.1" r="1.5"/><circle cx="318.3" cy="459.3" r="1.5"/><circle cx="318.4" cy="462.3" r="1.5"/><circle cx="318.5" cy="464.1" r="1.5"/><circle cx="319.0" cy="465.0" r="1.5"/><circle cx="318.8" cy="466.8" r="1.5"/><circle cx="318.9" cy="470.1" r="1.5"/><circle cx="318.2" cy="471.5" r="1.5"/><circle cx="318.6" cy="472.8" r="1.5"/><circle cx="318.7" cy="474.3" r="1.5"/><circle cx="318.6" cy="475.9" r="1.5"/><circle cx="320.4" cy="449.8" r="1.5"/><circle cx="320.7" cy="450.6" r="1.5"/><circle cx="320.6" cy="451.8" r="1.5"/><circle cx="320.8" cy="453.2" r="1.5"/><circle cx="320.2" cy="455.5" r="1.5"/><circle cx="320.7" cy="456.9" r="1.5"/><circle cx="319.7" cy="457.6" r="1.5"/><circle cx="319.6" cy="459.7" r="1.5"/><circle cx="319.8" cy="461.6" r="1.5"/><circle cx="320.8" cy="462.5" r="1.5"/><circle cx="320.3" cy="463.9" r="1.5"/><circle cx="319.6" cy="465.4" r="1.5"/><circle cx="320.7" cy="467.2" r="1.5"/><circle cx="320.0" cy="468.8" r="1.5"/><circle cx="319.7" cy="470.5" r="1.5"/><circle cx="320.2" cy="471.6" r="1.5"/><circle cx="320.8" cy="473.7" r="1.5"/><circle cx="320.4" cy="475.8" r="1.5"/><circle cx="320.6" cy="477.9" r="1.5"/><circle cx="320.0" cy="478.9" r="1.5"/><circle cx="320.0" cy="483.5" r="1.5"/><circle cx="321.7" cy="448.0" r="1.5"/><circle cx="322.1" cy="451.8" r="1.5"/><circle cx="321.2" cy="452.5" r="1.5"/><circle cx="322.2" cy="454.5" r="1.5"/><circle cx="322.2" cy="455.5" r="1.5"/><circle cx="321.2" cy="458.0" r="1.5"/><circle cx="322.1" cy="459.3" r="1.5"/><circle cx="322.4" cy="460.8" r="1.5"/><circle cx="322.1" cy="464.6" r="1.5"/><circle cx="321.6" cy="467.0" r="1.5"/><circle cx="321.7" cy="467.5" r="1.5"/><circle cx="322.0" cy="471.0" r="1.5"/><circle cx="321.6" cy="472.4" r="1.5"/><circle cx="322.0" cy="474.4" r="1.5"/><circle cx="322.2" cy="475.7" r="1.5"/><circle cx="321.7" cy="477.0" r="1.5"/><circle cx="321.3" cy="478.2" r="1.5"/><circle cx="321.3" cy="480.2" r="1.5"/><circle cx="321.9" cy="481.1" r="1.5"/><circle cx="322.2" cy="483.1" r="1.5"/><circle cx="321.9" cy="484.3" r="1.5"/><circle cx="321.4" cy="486.4" r="1.5"/><circle cx="323.2" cy="449.1" r="1.5"/><circle cx="323.9" cy="450.7" r="1.5"/><circle cx="323.5" cy="452.4" r="1.5"/><circle cx="322.8" cy="454.2" r="1.5"/><circle cx="323.0" cy="454.6" r="1.5"/><circle cx="323.6" cy="456.1" r="1.5"/><circle cx="323.4" cy="457.5" r="1.5"/><circle cx="323.3" cy="459.2" r="1.5"/><circle cx="323.1" cy="460.8" r="1.5"/><circle cx="323.3" cy="462.4" r="1.5"/><circle cx="322.8" cy="464.5" r="1.5"/><circle cx="323.4" cy="465.0" r="1.5"/><circle cx="323.9" cy="467.0" r="1.5"/><circle cx="323.8" cy="469.1" r="1.5"/><circle cx="323.4" cy="470.2" r="1.5"/><circle cx="323.2" cy="471.7" r="1.5"/><circle cx="323.6" cy="473.2" r="1.5"/><circle cx="322.9" cy="474.0" r="1.5"/><circle cx="323.8" cy="476.6" r="1.5"/><circle cx="323.7" cy="477.2" r="1.5"/><circle cx="323.0" cy="479.5" r="1.5"/><circle cx="323.8" cy="480.4" r="1.5"/><circle cx="323.5" cy="483.8" r="1.5"/><circle cx="323.3" cy="484.6" r="1.5"/><circle cx="323.0" cy="487.8" r="1.5"/><circle cx="324.7" cy="450.8" r="1.5"/><circle cx="324.8" cy="453.2" r="1.5"/><circle cx="324.5" cy="453.9" r="1.5"/><circle cx="325.0" cy="455.2" r="1.5"/><circle cx="325.1" cy="457.3" r="1.5"/><circle cx="325.3" cy="458.4" r="1.5"/><circle cx="325.0" cy="460.0" r="1.5"/><circle cx="324.9" cy="463.3" r="1.5"/><circle cx="325.6" cy="465.0" r="1.5"/><circle cx="325.3" cy="466.4" r="1.5"/><circle cx="324.7" cy="470.8" r="1.5"/><circle cx="324.7" cy="472.6" r="1.5"/><circle cx="325.3" cy="473.7" r="1.5"/><circle cx="325.2" cy="475.5" r="1.5"/><circle cx="324.7" cy="479.9" r="1.5"/><circle cx="325.5" cy="481.2" r="1.5"/><circle cx="324.4" cy="482.7" r="1.5"/><circle cx="324.8" cy="483.7" r="1.5"/><circle cx="324.5" cy="485.3" r="1.5"/><circle cx="324.8" cy="487.2" r="1.5"/><circle cx="324.9" cy="488.3" r="1.5"/><circle cx="325.1" cy="490.8" r="1.5"/><circle cx="326.2" cy="450.0" r="1.5"/><circle cx="326.5" cy="451.7" r="1.5"/><circle cx="326.7" cy="455.4" r="1.5"/><circle cx="326.7" cy="456.7" r="1.5"/><circle cx="326.0" cy="458.4" r="1.5"/><circle cx="326.7" cy="458.8" r="1.5"/><circle cx="326.4" cy="461.0" r="1.5"/><circle cx="327.1" cy="462.2" r="1.5"/><circle cx="327.1" cy="463.5" r="1.5"/><circle cx="326.6" cy="465.9" r="1.5"/><circle cx="326.3" cy="467.2" r="1.5"/><circle cx="326.5" cy="468.7" r="1.5"/><circle cx="327.0" cy="469.4" r="1.5"/><circle cx="327.0" cy="472.8" r="1.5"/><circle cx="326.3" cy="475.4" r="1.5"/><circle cx="326.1" cy="477.0" r="1.5"/><circle cx="327.0" cy="479.9" r="1.5"/><circle cx="326.6" cy="481.4" r="1.5"/><circle cx="327.1" cy="483.6" r="1.5"/><circle cx="326.7" cy="485.3" r="1.5"/><circle cx="326.1" cy="488.3" r="1.5"/><circle cx="326.3" cy="488.9" r="1.5"/><circle cx="326.7" cy="490.8" r="1.5"/><circle cx="326.2" cy="492.6" r="1.5"/><circle cx="328.1" cy="450.9" r="1.5"/><circle cx="328.5" cy="453.0" r="1.5"/><circle cx="328.2" cy="454.5" r="1.5"/><circle cx="327.7" cy="456.9" r="1.5"/><circle cx="328.5" cy="458.1" r="1.5"/><circle cx="328.8" cy="459.4" r="1.5"/><circle cx="327.7" cy="461.8" r="1.5"/><circle cx="328.7" cy="462.7" r="1.5"/><circle cx="327.7" cy="465.5" r="1.5"/><circle cx="328.1" cy="468.1" r="1.5"/><circle cx="328.5" cy="468.4" r="1.5"/><circle cx="328.2" cy="470.0" r="1.5"/><circle cx="328.1" cy="471.8" r="1.5"/><circle cx="328.4" cy="473.0" r="1.5"/><circle cx="327.7" cy="474.7" r="1.5"/><circle cx="328.8" cy="477.0" r="1.5"/><circle cx="328.6" cy="479.8" r="1.5"/><circle cx="328.8" cy="481.1" r="1.5"/><circle cx="327.9" cy="482.0" r="1.5"/><circle cx="328.3" cy="484.4" r="1.5"/><circle cx="327.6" cy="486.1" r="1.5"/><circle cx="327.9" cy="487.4" r="1.5"/><circle cx="328.6" cy="489.0" r="1.5"/><circle cx="328.3" cy="489.4" r="1.5"/><circle cx="328.3" cy="491.8" r="1.5"/><circle cx="327.7" cy="492.7" r="1.5"/><circle cx="327.7" cy="494.0" r="1.5"/><circle cx="328.6" cy="496.0" r="1.5"/><circle cx="329.7" cy="451.7" r="1.5"/><circle cx="329.4" cy="454.7" r="1.5"/><circle cx="329.8" cy="456.3" r="1.5"/><circle cx="329.8" cy="457.3" r="1.5"/><circle cx="330.2" cy="459.0" r="1.5"/><circle cx="329.5" cy="460.3" r="1.5"/><circle cx="329.8" cy="461.7" r="1.5"/><circle cx="329.8" cy="463.4" r="1.5"/><circle cx="330.2" cy="465.5" r="1.5"/><circle cx="329.3" cy="468.2" r="1.5"/><circle cx="330.2" cy="469.8" r="1.5"/><circle cx="329.7" cy="471.3" r="1.5"/><circle cx="329.6" cy="472.9" r="1.5"/><circle cx="329.9" cy="473.6" r="1.5"/><circle cx="329.5" cy="475.0" r="1.5"/><circle cx="329.9" cy="477.6" r="1.5"/><circle cx="330.3" cy="478.5" r="1.5"/><circle cx="329.5" cy="480.0" r="1.5"/><circle cx="329.2" cy="482.9" r="1.5"/><circle cx="329.9" cy="484.6" r="1.5"/><circle cx="330.3" cy="486.4" r="1.5"/><circle cx="329.2" cy="487.8" r="1.5"/><circle cx="330.0" cy="489.1" r="1.5"/><circle cx="329.7" cy="491.0" r="1.5"/><circle cx="329.3" cy="491.6" r="1.5"/><circle cx="329.4" cy="495.3" r="1.5"/><circle cx="331.8" cy="452.1" r="1.5"/><circle cx="330.9" cy="453.5" r="1.5"/><circle cx="331.9" cy="455.9" r="1.5"/><circle cx="331.0" cy="457.7" r="1.5"/><circle cx="331.4" cy="458.8" r="1.5"/><circle cx="331.6" cy="461.4" r="1.5"/><circle cx="330.9" cy="462.8" r="1.5"/><circle cx="331.9" cy="463.9" r="1.5"/><circle cx="331.6" cy="465.0" r="1.5"/><circle cx="331.9" cy="468.4" r="1.5"/><circle cx="331.6" cy="470.1" r="1.5"/><circle cx="331.1" cy="471.3" r="1.5"/><circle cx="331.1" cy="472.5" r="1.5"/><circle cx="331.6" cy="473.9" r="1.5"/><circle cx="332.0" cy="475.6" r="1.5"/><circle cx="331.2" cy="476.9" r="1.5"/><circle cx="331.8" cy="479.2" r="1.5"/><circle cx="331.6" cy="480.5" r="1.5"/><circle cx="331.6" cy="481.9" r="1.5"/><circle cx="331.6" cy="482.9" r="1.5"/><circle cx="331.8" cy="485.0" r="1.5"/><circle cx="331.7" cy="486.4" r="1.5"/><circle cx="331.5" cy="487.3" r="1.5"/><circle cx="330.8" cy="490.0" r="1.5"/><circle cx="331.0" cy="492.8" r="1.5"/><circle cx="331.8" cy="494.1" r="1.5"/><circle cx="331.7" cy="495.1" r="1.5"/><circle cx="331.5" cy="497.2" r="1.5"/><circle cx="331.1" cy="498.3" r="1.5"/><circle cx="330.9" cy="500.3" r="1.5"/><circle cx="332.7" cy="453.4" r="1.5"/><circle cx="332.8" cy="455.8" r="1.5"/><circle cx="333.0" cy="459.3" r="1.5"/><circle cx="332.5" cy="461.2" r="1.5"/><circle cx="332.8" cy="464.0" r="1.5"/><circle cx="333.4" cy="467.7" r="1.5"/><circle cx="333.5" cy="468.9" r="1.5"/><circle cx="332.9" cy="470.4" r="1.5"/><circle cx="333.4" cy="472.2" r="1.5"/><circle cx="332.4" cy="473.6" r="1.5"/><circle cx="333.2" cy="474.2" r="1.5"/><circle cx="333.5" cy="476.1" r="1.5"/><circle cx="333.6" cy="477.4" r="1.5"/><circle cx="332.5" cy="479.3" r="1.5"/><circle cx="332.6" cy="481.0" r="1.5"/><circle cx="333.3" cy="484.3" r="1.5"/><circle cx="333.1" cy="485.6" r="1.5"/><circle cx="333.2" cy="486.9" r="1.5"/><circle cx="332.8" cy="488.0" r="1.5"/><circle cx="332.7" cy="491.8" r="1.5"/><circle cx="332.5" cy="492.5" r="1.5"/><circle cx="333.5" cy="494.1" r="1.5"/><circle cx="333.4" cy="495.8" r="1.5"/><circle cx="332.9" cy="497.2" r="1.5"/><circle cx="333.0" cy="500.2" r="1.5"/><circle cx="332.6" cy="501.7" r="1.5"/><circle cx="333.5" cy="505.8" r="1.5"/><circle cx="334.5" cy="452.9" r="1.5"/><circle cx="334.5" cy="453.9" r="1.5"/><circle cx="334.3" cy="456.1" r="1.5"/><circle cx="334.2" cy="457.1" r="1.5"/><circle cx="334.9" cy="458.0" r="1.5"/><circle cx="334.4" cy="460.6" r="1.5"/><circle cx="334.5" cy="461.3" r="1.5"/><circle cx="334.3" cy="463.3" r="1.5"/><circle cx="334.8" cy="464.3" r="1.5"/><circle cx="334.7" cy="466.3" r="1.5"/><circle cx="334.5" cy="467.1" r="1.5"/><circle cx="334.2" cy="468.7" r="1.5"/><circle cx="334.8" cy="470.4" r="1.5"/><circle cx="334.3" cy="473.2" r="1.5"/><circle cx="334.8" cy="475.2" r="1.5"/><circle cx="335.0" cy="476.8" r="1.5"/><circle cx="334.7" cy="478.2" r="1.5"/><circle cx="334.1" cy="479.4" r="1.5"/><circle cx="334.8" cy="482.1" r="1.5"/><circle cx="335.0" cy="483.9" r="1.5"/><circle cx="334.6" cy="485.3" r="1.5"/><circle cx="334.2" cy="487.3" r="1.5"/><circle cx="335.1" cy="489.1" r="1.5"/><circle cx="334.0" cy="492.6" r="1.5"/><circle cx="334.7" cy="497.5" r="1.5"/><circle cx="334.2" cy="499.1" r="1.5"/><circle cx="334.1" cy="501.0" r="1.5"/><circle cx="335.1" cy="501.8" r="1.5"/><circle cx="334.3" cy="504.0" r="1.5"/><circle cx="334.8" cy="505.1" r="1.5"/><circle cx="336.0" cy="453.3" r="1.5"/><circle cx="336.4" cy="453.8" r="1.5"/><circle cx="336.4" cy="455.9" r="1.5"/><circle cx="336.2" cy="457.9" r="1.5"/><circle cx="336.3" cy="458.8" r="1.5"/><circle cx="335.7" cy="460.8" r="1.5"/><circle cx="336.0" cy="461.6" r="1.5"/><circle cx="336.7" cy="463.8" r="1.5"/><circle cx="336.3" cy="465.0" r="1.5"/><circle cx="335.6" cy="466.7" r="1.5"/><circle cx="336.3" cy="467.3" r="1.5"/><circle cx="335.8" cy="469.6" r="1.5"/><circle cx="336.8" cy="471.1" r="1.5"/><circle cx="335.6" cy="472.9" r="1.5"/><circle cx="336.6" cy="473.3" r="1.5"/><circle cx="336.2" cy="475.0" r="1.5"/><circle cx="335.7" cy="477.0" r="1.5"/><circle cx="336.4" cy="478.0" r="1.5"/><circle cx="336.3" cy="480.1" r="1.5"/><circle cx="336.4" cy="482.8" r="1.5"/><circle cx="336.5" cy="486.0" r="1.5"/><circle cx="336.7" cy="488.0" r="1.5"/><circle cx="336.6" cy="490.6" r="1.5"/><circle cx="336.6" cy="491.8" r="1.5"/><circle cx="336.6" cy="493.6" r="1.5"/><circle cx="336.6" cy="494.3" r="1.5"/><circle cx="336.2" cy="495.9" r="1.5"/><circle cx="335.7" cy="498.3" r="1.5"/><circle cx="335.8" cy="499.7" r="1.5"/><circle cx="336.1" cy="501.0" r="1.5"/><circle cx="336.7" cy="502.4" r="1.5"/><circle cx="336.2" cy="503.8" r="1.5"/><circle cx="337.3" cy="453.2" r="1.5"/><circle cx="338.1" cy="458.0" r="1.5"/><circle cx="338.2" cy="458.8" r="1.5"/><circle cx="337.8" cy="460.9" r="1.5"/><circle cx="337.6" cy="462.6" r="1.5"/><circle cx="337.7" cy="463.3" r="1.5"/><circle cx="338.0" cy="465.0" r="1.5"/><circle cx="337.8" cy="466.1" r="1.5"/><circle cx="337.9" cy="470.2" r="1.5"/><circle cx="337.3" cy="470.8" r="1.5"/><circle cx="338.2" cy="472.7" r="1.5"/><circle cx="337.5" cy="474.2" r="1.5"/><circle cx="337.6" cy="476.2" r="1.5"/><circle cx="337.5" cy="477.3" r="1.5"/><circle cx="337.8" cy="478.9" r="1.5"/><circle cx="337.9" cy="479.9" r="1.5"/><circle cx="337.9" cy="482.2" r="1.5"/><circle cx="337.4" cy="482.8" r="1.5"/><circle cx="338.2" cy="484.1" r="1.5"/><circle cx="337.5" cy="486.1" r="1.5"/><circle cx="338.1" cy="489.5" r="1.5"/><circle cx="337.9" cy="490.5" r="1.5"/><circle cx="337.8" cy="492.4" r="1.5"/><circle cx="338.2" cy="493.3" r="1.5"/><circle cx="338.2" cy="495.8" r="1.5"/><circle cx="338.3" cy="496.1" r="1.5"/><circle cx="337.2" cy="500.0" r="1.5"/><circle cx="338.1" cy="500.6" r="1.5"/><circle cx="337.6" cy="502.2" r="1.5"/><circle cx="337.6" cy="504.5" r="1.5"/><circle cx="339.2" cy="453.9" r="1.5"/><circle cx="339.5" cy="455.6" r="1.5"/><circle cx="339.5" cy="457.7" r="1.5"/><circle cx="339.8" cy="458.8" r="1.5"/><circle cx="339.1" cy="460.5" r="1.5"/><circle cx="339.7" cy="461.9" r="1.5"/><circle cx="339.2" cy="463.6" r="1.5"/><circle cx="339.6" cy="464.8" r="1.5"/><circle cx="339.2" cy="466.2" r="1.5"/><circle cx="339.7" cy="467.2" r="1.5"/><circle cx="339.1" cy="469.4" r="1.5"/><circle cx="339.0" cy="470.4" r="1.5"/><circle cx="339.9" cy="474.0" r="1.5"/><circle cx="339.5" cy="474.7" r="1.5"/><circle cx="338.9" cy="478.3" r="1.5"/><circle cx="339.6" cy="479.5" r="1.5"/><circle cx="338.9" cy="483.1" r="1.5"/><circle cx="339.7" cy="486.2" r="1.5"/><circle cx="339.8" cy="488.5" r="1.5"/><circle cx="339.6" cy="490.2" r="1.5"/><circle cx="340.0" cy="493.8" r="1.5"/><circle cx="339.7" cy="495.0" r="1.5"/><circle cx="339.4" cy="496.3" r="1.5"/><circle cx="339.1" cy="498.2" r="1.5"/><circle cx="339.6" cy="499.5" r="1.5"/><circle cx="339.5" cy="501.0" r="1.5"/><circle cx="339.3" cy="502.8" r="1.5"/><circle cx="339.4" cy="503.3" r="1.5"/><circle cx="339.8" cy="504.7" r="1.5"/><circle cx="341.2" cy="454.9" r="1.5"/><circle cx="340.7" cy="456.4" r="1.5"/><circle cx="340.7" cy="458.9" r="1.5"/><circle cx="340.6" cy="460.1" r="1.5"/><circle cx="341.0" cy="460.8" r="1.5"/><circle cx="341.3" cy="462.9" r="1.5"/><circle cx="340.8" cy="463.9" r="1.5"/><circle cx="341.3" cy="465.9" r="1.5"/><circle cx="340.7" cy="467.3" r="1.5"/><circle cx="340.5" cy="468.8" r="1.5"/><circle cx="341.5" cy="469.9" r="1.5"/><circle cx="341.4" cy="471.6" r="1.5"/><circle cx="341.6" cy="473.5" r="1.5"/><circle cx="341.6" cy="474.6" r="1.5"/><circle cx="340.9" cy="477.6" r="1.5"/><circle cx="341.5" cy="479.6" r="1.5"/><circle cx="341.6" cy="481.1" r="1.5"/><circle cx="341.4" cy="481.9" r="1.5"/><circle cx="341.3" cy="484.2" r="1.5"/><circle cx="340.5" cy="485.3" r="1.5"/><circle cx="341.1" cy="486.7" r="1.5"/><circle cx="341.0" cy="488.5" r="1.5"/><circle cx="340.7" cy="491.0" r="1.5"/><circle cx="341.4" cy="493.4" r="1.5"/><circle cx="340.8" cy="494.8" r="1.5"/><circle cx="340.5" cy="500.0" r="1.5"/><circle cx="340.4" cy="501.6" r="1.5"/><circle cx="341.2" cy="502.9" r="1.5"/><circle cx="340.8" cy="504.4" r="1.5"/><circle cx="342.4" cy="453.8" r="1.5"/><circle cx="342.1" cy="455.5" r="1.5"/><circle cx="343.1" cy="456.7" r="1.5"/><circle cx="342.1" cy="458.1" r="1.5"/><circle cx="342.8" cy="459.6" r="1.5"/><circle cx="342.6" cy="460.6" r="1.5"/><circle cx="342.8" cy="464.1" r="1.5"/><circle cx="343.1" cy="465.8" r="1.5"/><circle cx="342.7" cy="466.9" r="1.5"/><circle cx="342.6" cy="468.2" r="1.5"/><circle cx="342.3" cy="469.3" r="1.5"/><circle cx="343.0" cy="471.7" r="1.5"/><circle cx="342.6" cy="473.0" r="1.5"/><circle cx="342.6" cy="474.4" r="1.5"/><circle cx="343.1" cy="476.0" r="1.5"/><circle cx="342.8" cy="477.0" r="1.5"/><circle cx="342.4" cy="478.8" r="1.5"/><circle cx="342.4" cy="481.0" r="1.5"/><circle cx="342.4" cy="482.2" r="1.5"/><circle cx="342.8" cy="485.5" r="1.5"/><circle cx="343.1" cy="486.8" r="1.5"/><circle cx="342.2" cy="488.3" r="1.5"/><circle cx="342.4" cy="489.4" r="1.5"/><circle cx="343.1" cy="491.4" r="1.5"/><circle cx="342.2" cy="492.3" r="1.5"/><circle cx="342.2" cy="493.7" r="1.5"/><circle cx="342.6" cy="495.0" r="1.5"/><circle cx="342.5" cy="496.6" r="1.5"/><circle cx="342.4" cy="497.9" r="1.5"/><circle cx="342.9" cy="500.4" r="1.5"/><circle cx="342.3" cy="501.7" r="1.5"/><circle cx="343.2" cy="503.1" r="1.5"/><circle cx="342.1" cy="504.2" r="1.5"/><circle cx="343.8" cy="454.2" r="1.5"/><circle cx="344.3" cy="455.5" r="1.5"/><circle cx="343.8" cy="458.0" r="1.5"/><circle cx="343.9" cy="459.6" r="1.5"/><circle cx="343.8" cy="460.4" r="1.5"/><circle cx="343.7" cy="462.4" r="1.5"/><circle cx="344.6" cy="463.3" r="1.5"/><circle cx="343.7" cy="465.3" r="1.5"/><circle cx="344.5" cy="466.2" r="1.5"/><circle cx="343.9" cy="468.4" r="1.5"/><circle cx="343.8" cy="469.8" r="1.5"/><circle cx="344.2" cy="470.7" r="1.5"/><circle cx="344.5" cy="472.7" r="1.5"/><circle cx="343.7" cy="474.2" r="1.5"/><circle cx="343.6" cy="475.9" r="1.5"/><circle cx="344.2" cy="478.7" r="1.5"/><circle cx="344.2" cy="481.8" r="1.5"/><circle cx="343.6" cy="483.1" r="1.5"/><circle cx="344.0" cy="484.4" r="1.5"/><circle cx="344.0" cy="486.3" r="1.5"/><circle cx="344.6" cy="488.6" r="1.5"/><circle cx="344.5" cy="490.9" r="1.5"/><circle cx="343.8" cy="492.6" r="1.5"/><circle cx="344.4" cy="493.3" r="1.5"/><circle cx="344.3" cy="494.9" r="1.5"/><circle cx="344.5" cy="498.1" r="1.5"/><circle cx="343.8" cy="500.1" r="1.5"/><circle cx="344.3" cy="500.7" r="1.5"/><circle cx="344.4" cy="502.8" r="1.5"/><circle cx="343.9" cy="504.0" r="1.5"/><circle cx="346.0" cy="449.1" r="1.5"/><circle cx="345.7" cy="450.7" r="1.5"/><circle cx="345.8" cy="453.9" r="1.5"/><circle cx="346.3" cy="455.5" r="1.5"/><circle cx="345.5" cy="456.1" r="1.5"/><circle cx="345.7" cy="458.3" r="1.5"/><circle cx="346.3" cy="460.9" r="1.5"/><circle cx="345.2" cy="462.4" r="1.5"/><circle cx="345.4" cy="464.4" r="1.5"/><circle cx="345.6" cy="465.6" r="1.5"/><circle cx="345.2" cy="466.6" r="1.5"/><circle cx="345.7" cy="468.0" r="1.5"/><circle cx="345.6" cy="470.6" r="1.5"/><circle cx="345.4" cy="471.0" r="1.5"/><circle cx="346.4" cy="473.4" r="1.5"/><circle cx="345.8" cy="474.3" r="1.5"/><circle cx="345.9" cy="477.2" r="1.5"/><circle cx="345.8" cy="478.9" r="1.5"/><circle cx="345.3" cy="480.4" r="1.5"/><circle cx="345.8" cy="483.8" r="1.5"/><circle cx="346.1" cy="484.9" r="1.5"/><circle cx="345.4" cy="486.7" r="1.5"/><circle cx="345.4" cy="487.6" r="1.5"/><circle cx="346.1" cy="488.9" r="1.5"/><circle cx="346.3" cy="493.1" r="1.5"/><circle cx="346.2" cy="494.5" r="1.5"/><circle cx="346.2" cy="495.0" r="1.5"/><circle cx="346.0" cy="497.4" r="1.5"/><circle cx="345.3" cy="498.5" r="1.5"/><circle cx="346.0" cy="499.6" r="1.5"/><circle cx="346.4" cy="501.2" r="1.5"/><circle cx="347.1" cy="450.7" r="1.5"/><circle cx="347.9" cy="454.2" r="1.5"/><circle cx="347.3" cy="458.3" r="1.5"/><circle cx="347.2" cy="460.5" r="1.5"/><circle cx="347.6" cy="461.4" r="1.5"/><circle cx="347.5" cy="463.7" r="1.5"/><circle cx="347.9" cy="466.6" r="1.5"/><circle cx="347.5" cy="467.2" r="1.5"/><circle cx="347.4" cy="469.4" r="1.5"/><circle cx="347.6" cy="472.1" r="1.5"/><circle cx="347.4" cy="473.1" r="1.5"/><circle cx="348.0" cy="474.9" r="1.5"/><circle cx="347.3" cy="476.0" r="1.5"/><circle cx="347.1" cy="477.7" r="1.5"/><circle cx="347.9" cy="479.0" r="1.5"/><circle cx="347.5" cy="481.1" r="1.5"/><circle cx="346.8" cy="482.4" r="1.5"/><circle cx="347.2" cy="484.7" r="1.5"/><circle cx="347.8" cy="485.9" r="1.5"/><circle cx="347.4" cy="487.1" r="1.5"/><circle cx="346.9" cy="488.2" r="1.5"/><circle cx="347.4" cy="490.0" r="1.5"/><circle cx="347.4" cy="494.1" r="1.5"/><circle cx="347.4" cy="495.7" r="1.5"/><circle cx="347.0" cy="499.0" r="1.5"/><circle cx="347.1" cy="502.4" r="1.5"/><circle cx="347.9" cy="503.0" r="1.5"/><circle cx="347.2" cy="505.5" r="1.5"/><circle cx="349.0" cy="452.8" r="1.5"/><circle cx="348.7" cy="454.9" r="1.5"/><circle cx="348.6" cy="455.9" r="1.5"/><circle cx="349.5" cy="457.9" r="1.5"/><circle cx="349.6" cy="459.7" r="1.5"/><circle cx="348.7" cy="460.3" r="1.5"/><circle cx="349.1" cy="462.2" r="1.5"/><circle cx="349.0" cy="463.4" r="1.5"/><circle cx="349.5" cy="464.6" r="1.5"/><circle cx="348.6" cy="466.9" r="1.5"/><circle cx="349.4" cy="468.3" r="1.5"/><circle cx="349.1" cy="471.7" r="1.5"/><circle cx="348.8" cy="472.2" r="1.5"/><circle cx="349.5" cy="476.2" r="1.5"/><circle cx="349.5" cy="477.3" r="1.5"/><circle cx="349.1" cy="478.3" r="1.5"/><circle cx="349.3" cy="480.1" r="1.5"/><circle cx="349.1" cy="481.3" r="1.5"/><circle cx="349.5" cy="483.3" r="1.5"/><circle cx="349.4" cy="484.6" r="1.5"/><circle cx="348.9" cy="486.0" r="1.5"/><circle cx="349.5" cy="487.4" r="1.5"/><circle cx="348.7" cy="488.5" r="1.5"/><circle cx="349.3" cy="490.4" r="1.5"/><circle cx="348.8" cy="493.9" r="1.5"/><circle cx="348.6" cy="495.6" r="1.5"/><circle cx="348.7" cy="496.5" r="1.5"/><circle cx="349.0" cy="497.9" r="1.5"/><circle cx="349.2" cy="499.9" r="1.5"/><circle cx="348.9" cy="501.6" r="1.5"/><circle cx="348.6" cy="502.1" r="1.5"/><circle cx="351.2" cy="453.3" r="1.5"/><circle cx="350.8" cy="454.4" r="1.5"/><circle cx="351.1" cy="459.1" r="1.5"/><circle cx="351.0" cy="461.6" r="1.5"/><circle cx="351.2" cy="465.2" r="1.5"/><circle cx="350.6" cy="466.7" r="1.5"/><circle cx="350.6" cy="467.9" r="1.5"/><circle cx="350.4" cy="469.5" r="1.5"/><circle cx="350.5" cy="471.1" r="1.5"/><circle cx="350.6" cy="473.8" r="1.5"/><circle cx="350.3" cy="475.1" r="1.5"/><circle cx="350.8" cy="476.4" r="1.5"/><circle cx="350.9" cy="479.7" r="1.5"/><circle cx="350.5" cy="481.4" r="1.5"/><circle cx="351.2" cy="483.0" r="1.5"/><circle cx="350.0" cy="484.0" r="1.5"/><circle cx="350.8" cy="485.5" r="1.5"/><circle cx="350.3" cy="487.4" r="1.5"/><circle cx="350.6" cy="489.2" r="1.5"/><circle cx="350.1" cy="490.5" r="1.5"/><circle cx="350.9" cy="492.4" r="1.5"/><circle cx="351.0" cy="493.0" r="1.5"/><circle cx="350.0" cy="495.2" r="1.5"/><circle cx="350.5" cy="496.3" r="1.5"/><circle cx="350.3" cy="498.1" r="1.5"/><circle cx="350.1" cy="499.1" r="1.5"/><circle cx="350.4" cy="502.4" r="1.5"/><circle cx="351.1" cy="504.4" r="1.5"/><circle cx="351.6" cy="459.9" r="1.5"/><circle cx="351.8" cy="461.8" r="1.5"/><circle cx="352.5" cy="463.9" r="1.5"/><circle cx="352.4" cy="465.9" r="1.5"/><circle cx="352.7" cy="468.3" r="1.5"/><circle cx="351.8" cy="469.8" r="1.5"/><circle cx="352.5" cy="470.3" r="1.5"/><circle cx="351.6" cy="472.6" r="1.5"/><circle cx="352.0" cy="473.3" r="1.5"/><circle cx="352.8" cy="475.5" r="1.5"/><circle cx="352.0" cy="477.2" r="1.5"/><circle cx="351.9" cy="480.4" r="1.5"/><circle cx="352.1" cy="481.1" r="1.5"/><circle cx="352.8" cy="482.8" r="1.5"/><circle cx="352.1" cy="486.2" r="1.5"/><circle cx="352.4" cy="489.2" r="1.5"/><circle cx="352.1" cy="492.8" r="1.5"/><circle cx="352.0" cy="494.3" r="1.5"/><circle cx="352.7" cy="497.3" r="1.5"/><circle cx="352.5" cy="499.6" r="1.5"/><circle cx="352.2" cy="500.4" r="1.5"/><circle cx="353.6" cy="465.0" r="1.5"/><circle cx="354.0" cy="466.0" r="1.5"/><circle cx="353.7" cy="470.5" r="1.5"/><circle cx="353.9" cy="471.6" r="1.5"/><circle cx="354.3" cy="473.1" r="1.5"/><circle cx="354.4" cy="476.9" r="1.5"/><circle cx="354.1" cy="478.1" r="1.5"/><circle cx="354.2" cy="480.1" r="1.5"/><circle cx="353.5" cy="481.1" r="1.5"/><circle cx="353.6" cy="482.6" r="1.5"/><circle cx="354.4" cy="484.3" r="1.5"/><circle cx="354.1" cy="488.5" r="1.5"/><circle cx="353.9" cy="490.4" r="1.5"/><circle cx="354.0" cy="491.5" r="1.5"/><circle cx="353.8" cy="493.3" r="1.5"/><circle cx="353.2" cy="496.6" r="1.5"/><circle cx="354.0" cy="498.0" r="1.5"/><circle cx="354.4" cy="500.5" r="1.5"/><circle cx="356.0" cy="466.3" r="1.5"/><circle cx="355.6" cy="467.2" r="1.5"/><circle cx="355.8" cy="468.8" r="1.5"/><circle cx="355.1" cy="470.2" r="1.5"/><circle cx="355.3" cy="473.6" r="1.5"/><circle cx="354.8" cy="474.8" r="1.5"/><circle cx="355.0" cy="476.5" r="1.5"/><circle cx="355.1" cy="478.2" r="1.5"/><circle cx="355.7" cy="479.7" r="1.5"/><circle cx="354.8" cy="481.4" r="1.5"/><circle cx="355.5" cy="482.7" r="1.5"/><circle cx="355.9" cy="483.4" r="1.5"/><circle cx="355.3" cy="487.4" r="1.5"/><circle cx="354.8" cy="490.1" r="1.5"/><circle cx="355.5" cy="491.8" r="1.5"/><circle cx="355.8" cy="492.7" r="1.5"/><circle cx="354.8" cy="494.0" r="1.5"/><circle cx="355.4" cy="496.5" r="1.5"/><circle cx="355.1" cy="497.3" r="1.5"/><circle cx="355.2" cy="499.2" r="1.5"/><circle cx="354.9" cy="500.5" r="1.5"/><circle cx="354.9" cy="503.7" r="1.5"/><circle cx="355.9" cy="505.2" r="1.5"/><circle cx="357.5" cy="467.2" r="1.5"/><circle cx="357.1" cy="469.8" r="1.5"/><circle cx="357.0" cy="471.1" r="1.5"/><circle cx="356.8" cy="472.6" r="1.5"/><circle cx="357.6" cy="474.1" r="1.5"/><circle cx="356.9" cy="475.4" r="1.5"/><circle cx="357.3" cy="476.9" r="1.5"/><circle cx="356.7" cy="478.8" r="1.5"/><circle cx="356.5" cy="480.2" r="1.5"/><circle cx="357.2" cy="482.0" r="1.5"/><circle cx="356.7" cy="483.0" r="1.5"/><circle cx="357.5" cy="485.2" r="1.5"/><circle cx="356.9" cy="486.2" r="1.5"/><circle cx="357.0" cy="488.3" r="1.5"/><circle cx="356.9" cy="488.9" r="1.5"/><circle cx="356.8" cy="490.7" r="1.5"/><circle cx="357.2" cy="492.3" r="1.5"/><circle cx="357.3" cy="494.0" r="1.5"/><circle cx="356.7" cy="495.4" r="1.5"/><circle cx="357.5" cy="497.0" r="1.5"/><circle cx="356.8" cy="497.7" r="1.5"/><circle cx="357.3" cy="499.3" r="1.5"/><circle cx="357.2" cy="501.2" r="1.5"/><circle cx="359.0" cy="471.5" r="1.5"/><circle cx="358.7" cy="473.4" r="1.5"/><circle cx="359.0" cy="474.7" r="1.5"/><circle cx="359.0" cy="476.3" r="1.5"/><circle cx="358.9" cy="477.9" r="1.5"/><circle cx="358.4" cy="480.3" r="1.5"/><circle cx="358.3" cy="481.7" r="1.5"/><circle cx="358.2" cy="483.8" r="1.5"/><circle cx="358.6" cy="484.7" r="1.5"/><circle cx="358.3" cy="486.3" r="1.5"/><circle cx="358.2" cy="488.1" r="1.5"/><circle cx="358.6" cy="489.3" r="1.5"/><circle cx="359.1" cy="491.0" r="1.5"/><circle cx="359.2" cy="492.3" r="1.5"/><circle cx="358.9" cy="494.2" r="1.5"/><circle cx="358.9" cy="497.7" r="1.5"/><circle cx="358.6" cy="502.2" r="1.5"/><circle cx="360.0" cy="471.4" r="1.5"/><circle cx="359.7" cy="473.7" r="1.5"/><circle cx="360.7" cy="475.2" r="1.5"/><circle cx="359.7" cy="478.8" r="1.5"/><circle cx="360.5" cy="479.9" r="1.5"/><circle cx="360.6" cy="481.2" r="1.5"/><circle cx="360.7" cy="484.8" r="1.5"/><circle cx="360.4" cy="486.1" r="1.5"/><circle cx="359.6" cy="487.6" r="1.5"/><circle cx="359.8" cy="488.3" r="1.5"/><circle cx="360.3" cy="489.9" r="1.5"/><circle cx="360.1" cy="492.4" r="1.5"/><circle cx="360.1" cy="493.0" r="1.5"/><circle cx="360.3" cy="495.3" r="1.5"/><circle cx="359.6" cy="498.0" r="1.5"/><circle cx="360.4" cy="499.7" r="1.5"/><circle cx="362.3" cy="474.7" r="1.5"/><circle cx="361.8" cy="477.0" r="1.5"/><circle cx="362.3" cy="478.3" r="1.5"/><circle cx="362.3" cy="480.0" r="1.5"/><circle cx="361.9" cy="480.5" r="1.5"/><circle cx="362.0" cy="482.0" r="1.5"/><circle cx="361.6" cy="483.9" r="1.5"/><circle cx="362.2" cy="485.8" r="1.5"/><circle cx="361.8" cy="487.6" r="1.5"/><circle cx="361.3" cy="490.5" r="1.5"/><circle cx="361.3" cy="491.7" r="1.5"/><circle cx="362.1" cy="493.2" r="1.5"/><circle cx="362.3" cy="495.1" r="1.5"/><circle cx="362.4" cy="496.4" r="1.5"/><circle cx="362.2" cy="498.0" r="1.5"/><circle cx="361.3" cy="498.8" r="1.5"/><circle cx="361.6" cy="500.1" r="1.5"/><circle cx="361.4" cy="502.0" r="1.5"/><circle cx="363.6" cy="477.7" r="1.5"/><circle cx="363.0" cy="479.1" r="1.5"/><circle cx="363.5" cy="480.4" r="1.5"/><circle cx="363.9" cy="481.6" r="1.5"/><circle cx="363.4" cy="483.6" r="1.5"/><circle cx="362.9" cy="485.6" r="1.5"/><circle cx="363.2" cy="486.6" r="1.5"/><circle cx="362.9" cy="488.6" r="1.5"/><circle cx="363.0" cy="489.4" r="1.5"/><circle cx="363.2" cy="491.2" r="1.5"/><circle cx="363.4" cy="493.1" r="1.5"/><circle cx="362.9" cy="495.2" r="1.5"/><circle cx="363.0" cy="497.6" r="1.5"/><circle cx="362.9" cy="499.3" r="1.5"/><circle cx="363.5" cy="500.3" r="1.5"/><circle cx="363.2" cy="501.5" r="1.5"/><circle cx="364.8" cy="479.0" r="1.5"/><circle cx="365.2" cy="481.8" r="1.5"/><circle cx="365.4" cy="482.8" r="1.5"/><circle cx="364.8" cy="485.1" r="1.5"/><circle cx="364.9" cy="485.9" r="1.5"/><circle cx="365.2" cy="487.9" r="1.5"/><circle cx="365.5" cy="489.0" r="1.5"/><circle cx="365.4" cy="490.6" r="1.5"/><circle cx="365.5" cy="493.9" r="1.5"/><circle cx="364.8" cy="498.3" r="1.5"/><circle cx="365.4" cy="499.7" r="1.5"/><circle cx="365.0" cy="502.4" r="1.5"/><circle cx="366.8" cy="484.0" r="1.5"/><circle cx="366.0" cy="485.6" r="1.5"/><circle cx="366.2" cy="487.6" r="1.5"/><circle cx="366.8" cy="489.4" r="1.5"/><circle cx="367.2" cy="491.1" r="1.5"/><circle cx="367.2" cy="492.3" r="1.5"/><circle cx="366.4" cy="493.5" r="1.5"/><circle cx="366.1" cy="495.5" r="1.5"/><circle cx="366.7" cy="496.4" r="1.5"/><circle cx="366.5" cy="498.3" r="1.5"/><circle cx="366.9" cy="500.0" r="1.5"/><circle cx="366.0" cy="501.5" r="1.5"/><circle cx="367.0" cy="502.4" r="1.5"/><circle cx="366.5" cy="505.6" r="1.5"/><circle cx="367.9" cy="481.6" r="1.5"/><circle cx="368.1" cy="484.1" r="1.5"/><circle cx="368.0" cy="487.2" r="1.5"/><circle cx="368.1" cy="489.0" r="1.5"/><circle cx="367.7" cy="490.0" r="1.5"/><circle cx="367.9" cy="491.5" r="1.5"/><circle cx="368.0" cy="492.8" r="1.5"/><circle cx="368.7" cy="495.7" r="1.5"/><circle cx="368.3" cy="497.6" r="1.5"/><circle cx="368.7" cy="498.9" r="1.5"/><circle cx="367.8" cy="501.1" r="1.5"/><circle cx="369.6" cy="488.6" r="1.5"/><circle cx="370.1" cy="490.9" r="1.5"/><circle cx="369.6" cy="493.1" r="1.5"/><circle cx="369.4" cy="494.1" r="1.5"/><circle cx="369.3" cy="500.7" r="1.5"/><circle cx="371.1" cy="486.8" r="1.5"/><circle cx="371.3" cy="495.5" r="1.5"/><circle cx="371.8" cy="496.6" r="1.5"/><circle cx="371.3" cy="500.0" r="1.5"/></g>
<g fill="rgb(126,47,142)"><circle cx="381.7" cy="424.9" r="1.5"/><circle cx="376.8" cy="435.5" r="1.5"/><circle cx="388.3" cy="436.4" r="1.5"/><circle cx="396.5" cy="436.4" r="1.5"/><circle cx="388.4" cy="441.3" r="1.6"/><circle cx="388.3" cy="443.4" r="1.6"/><circle cx="388.2" cy="445.5" r="1.6"/><circle cx="388.2" cy="447.6" r="1.6"/><circle cx="388.2" cy="449.7" r="1.6"/><circle cx="388.5" cy="451.8" r="1.6"/><circle cx="388.5" cy="453.9" r="1.6"/><circle cx="396.5" cy="443.0" r="1.6"/><circle cx="396.7" cy="445.1" r="1.6"/><circle cx="396.6" cy="447.2" r="1.6"/><circle cx="396.5" cy="449.3" r="1.6"/><circle cx="396.7" cy="451.4" r="1.6"/><circle cx="396.7" cy="453.5" r="1.6"/><circle cx="396.4" cy="455.6" r="1.6"/><circle cx="392.6" cy="451.0" r="1.6"/><circle cx="392.6" cy="453.1" r="1.6"/><circle cx="392.5" cy="455.2" r="1.6"/><circle cx="392.6" cy="457.3" r="1.6"/><circle cx="392.5" cy="459.4" r="1.6"/><circle cx="392.5" cy="461.5" r="1.6"/><circle cx="392.3" cy="463.6" r="1.6"/><circle cx="382.7" cy="441.0" r="1.6"/><circle cx="382.7" cy="443.1" r="1.6"/><circle cx="382.8" cy="445.2" r="1.6"/><circle cx="382.6" cy="449.4" r="1.6"/><circle cx="382.4" cy="451.5" r="1.6"/><circle cx="382.6" cy="455.7" r="1.6"/><circle cx="382.8" cy="457.8" r="1.6"/><circle cx="382.6" cy="459.9" r="1.6"/><circle cx="379.1" cy="437.0" r="1.6"/><circle cx="379.1" cy="439.1" r="1.6"/><circle cx="378.8" cy="443.3" r="1.6"/><circle cx="379.2" cy="445.4" r="1.6"/><circle cx="332.6" cy="500.2" r="1.5"/><circle cx="332.3" cy="506.9" r="1.5"/><circle cx="334.0" cy="504.1" r="1.5"/><circle cx="333.7" cy="507.0" r="1.5"/><circle cx="335.6" cy="494.6" r="1.5"/><circle cx="335.4" cy="496.8" r="1.5"/><circle cx="336.0" cy="498.3" r="1.5"/><circle cx="335.7" cy="500.8" r="1.5"/><circle cx="335.6" cy="502.4" r="1.5"/><circle cx="335.4" cy="505.7" r="1.5"/><circle cx="335.9" cy="506.8" r="1.5"/><circle cx="337.3" cy="492.5" r="1.5"/><circle cx="336.6" cy="493.2" r="1.5"/><circle cx="336.5" cy="495.5" r="1.5"/><circle cx="337.5" cy="497.1" r="1.5"/><circle cx="337.4" cy="498.2" r="1.5"/><circle cx="336.5" cy="500.0" r="1.5"/><circle cx="337.2" cy="501.2" r="1.5"/><circle cx="337.5" cy="502.6" r="1.5"/><circle cx="337.5" cy="504.5" r="1.5"/><circle cx="339.2" cy="488.7" r="1.5"/><circle cx="339.0" cy="490.3" r="1.5"/><circle cx="338.3" cy="492.0" r="1.5"/><circle cx="338.3" cy="494.0" r="1.5"/><circle cx="338.0" cy="498.0" r="1.5"/><circle cx="338.7" cy="500.1" r="1.5"/><circle cx="338.3" cy="502.5" r="1.5"/><circle cx="338.5" cy="504.4" r="1.5"/><circle cx="338.2" cy="505.6" r="1.5"/><circle cx="340.7" cy="485.2" r="1.5"/><circle cx="340.8" cy="486.7" r="1.5"/><circle cx="340.4" cy="488.3" r="1.5"/><circle cx="340.1" cy="490.3" r="1.5"/><circle cx="340.5" cy="491.5" r="1.5"/><circle cx="340.1" cy="492.5" r="1.5"/><circle cx="340.0" cy="493.9" r="1.5"/><circle cx="340.2" cy="495.9" r="1.5"/><circle cx="339.7" cy="497.0" r="1.5"/><circle cx="339.6" cy="499.4" r="1.5"/><circle cx="340.8" cy="500.9" r="1.5"/><circle cx="340.0" cy="501.9" r="1.5"/><circle cx="340.2" cy="503.7" r="1.5"/><circle cx="341.9" cy="480.9" r="1.5"/><circle cx="342.3" cy="482.5" r="1.5"/><circle cx="341.5" cy="484.6" r="1.5"/><circle cx="341.9" cy="486.2" r="1.5"/><circle cx="342.2" cy="487.4" r="1.5"/><circle cx="341.6" cy="488.9" r="1.5"/><circle cx="341.4" cy="489.8" r="1.5"/><circle cx="342.0" cy="491.7" r="1.5"/><circle cx="342.1" cy="493.2" r="1.5"/><circle cx="341.4" cy="495.0" r="1.5"/><circle cx="341.5" cy="496.5" r="1.5"/><circle cx="342.4" cy="497.9" r="1.5"/><circle cx="341.5" cy="501.1" r="1.5"/><circle cx="341.7" cy="502.6" r="1.5"/><circle cx="342.0" cy="503.5" r="1.5"/><circle cx="343.4" cy="474.6" r="1.5"/><circle cx="343.7" cy="476.0" r="1.5"/><circle cx="343.3" cy="478.3" r="1.5"/><circle cx="343.4" cy="479.2" r="1.5"/><circle cx="343.8" cy="480.9" r="1.5"/><circle cx="343.9" cy="482.4" r="1.5"/><circle cx="343.0" cy="483.9" r="1.5"/><circle cx="343.8" cy="487.5" r="1.5"/><circle cx="342.9" cy="488.1" r="1.5"/><circle cx="343.5" cy="489.9" r="1.5"/><circle cx="343.1" cy="491.7" r="1.5"/><circle cx="343.0" cy="493.4" r="1.5"/><circle cx="343.8" cy="494.8" r="1.5"/><circle cx="343.3" cy="495.7" r="1.5"/><circle cx="343.6" cy="497.4" r="1.5"/><circle cx="343.2" cy="498.8" r="1.5"/><circle cx="343.7" cy="500.5" r="1.5"/><circle cx="343.8" cy="501.6" r="1.5"/><circle cx="343.0" cy="503.6" r="1.5"/><circle cx="343.9" cy="506.8" r="1.5"/><circle cx="345.5" cy="471.4" r="1.5"/><circle cx="344.9" cy="474.4" r="1.5"/><circle cx="344.7" cy="474.9" r="1.5"/><circle cx="345.1" cy="476.7" r="1.5"/><circle cx="345.2" cy="478.1" r="1.5"/><circle cx="345.4" cy="479.9" r="1.5"/><circle cx="345.1" cy="481.3" r="1.5"/><circle cx="345.3" cy="483.1" r="1.5"/><circle cx="344.7" cy="484.8" r="1.5"/><circle cx="345.1" cy="487.2" r="1.5"/><circle cx="345.1" cy="488.8" r="1.5"/><circle cx="345.1" cy="490.0" r="1.5"/><circle cx="344.9" cy="491.6" r="1.5"/><circle cx="345.1" cy="493.7" r="1.5"/><circle cx="345.3" cy="496.0" r="1.5"/><circle cx="345.4" cy="501.1" r="1.5"/><circle cx="344.6" cy="502.5" r="1.5"/><circle cx="345.4" cy="504.5" r="1.5"/><circle cx="345.5" cy="505.3" r="1.5"/><circle cx="344.9" cy="507.0" r="1.5"/><circle cx="346.2" cy="464.0" r="1.5"/><circle cx="346.3" cy="466.0" r="1.5"/><circle cx="346.2" cy="467.1" r="1.5"/><circle cx="346.7" cy="469.0" r="1.5"/><circle cx="346.1" cy="470.0" r="1.5"/><circle cx="346.5" cy="471.4" r="1.5"/><circle cx="346.8" cy="474.6" r="1.5"/><circle cx="347.1" cy="475.7" r="1.5"/><circle cx="346.2" cy="477.7" r="1.5"/><circle cx="346.4" cy="478.5" r="1.5"/><circle cx="346.4" cy="480.6" r="1.5"/><circle cx="346.0" cy="481.5" r="1.5"/><circle cx="347.0" cy="483.0" r="1.5"/><circle cx="346.5" cy="485.4" r="1.5"/><circle cx="347.1" cy="486.0" r="1.5"/><circle cx="346.7" cy="490.1" r="1.5"/><circle cx="347.1" cy="490.8" r="1.5"/><circle cx="346.9" cy="496.0" r="1.5"/><circle cx="346.5" cy="497.3" r="1.5"/><circle cx="347.1" cy="498.4" r="1.5"/><circle cx="346.2" cy="499.7" r="1.5"/><circle cx="347.1" cy="503.4" r="1.5"/><circle cx="346.4" cy="503.9" r="1.5"/><circle cx="347.0" cy="506.6" r="1.5"/><circle cx="347.7" cy="465.1" r="1.5"/><circle cx="347.8" cy="467.1" r="1.5"/><circle cx="347.9" cy="469.0" r="1.5"/><circle cx="347.6" cy="469.4" r="1.5"/><circle cx="347.6" cy="471.6" r="1.5"/><circle cx="348.2" cy="473.1" r="1.5"/><circle cx="347.9" cy="474.9" r="1.5"/><circle cx="348.7" cy="478.1" r="1.5"/><circle cx="348.3" cy="478.9" r="1.5"/><circle cx="347.8" cy="480.2" r="1.5"/><circle cx="348.3" cy="482.6" r="1.5"/><circle cx="347.6" cy="483.4" r="1.5"/><circle cx="348.2" cy="486.6" r="1.5"/><circle cx="348.0" cy="488.1" r="1.5"/><circle cx="348.0" cy="492.7" r="1.5"/><circle cx="348.4" cy="494.2" r="1.5"/><circle cx="348.5" cy="495.3" r="1.5"/><circle cx="347.7" cy="497.1" r="1.5"/><circle cx="347.9" cy="498.3" r="1.5"/><circle cx="348.1" cy="500.6" r="1.5"/><circle cx="348.3" cy="501.4" r="1.5"/><circle cx="348.6" cy="503.0" r="1.5"/><circle cx="348.0" cy="504.1" r="1.5"/><circle cx="347.7" cy="505.7" r="1.5"/><circle cx="348.1" cy="507.6" r="1.5"/><circle cx="349.9" cy="465.2" r="1.5"/><circle cx="349.6" cy="466.7" r="1.5"/><circle cx="350.4" cy="468.0" r="1.5"/><circle cx="350.3" cy="469.5" r="1.5"/><circle cx="349.7" cy="471.7" r="1.5"/><circle cx="350.4" cy="472.8" r="1.5"/><circle cx="349.5" cy="473.9" r="1.5"/><circle cx="349.9" cy="476.5" r="1.5"/><circle cx="349.5" cy="478.0" r="1.5"/><circle cx="349.7" cy="478.5" r="1.5"/><circle cx="349.5" cy="480.6" r="1.5"/><circle cx="349.8" cy="482.4" r="1.5"/><circle cx="349.5" cy="483.4" r="1.5"/><circle cx="350.1" cy="485.2" r="1.5"/><circle cx="349.6" cy="486.7" r="1.5"/><circle cx="350.3" cy="488.0" r="1.5"/><circle cx="350.0" cy="489.5" r="1.5"/><circle cx="350.0" cy="491.1" r="1.5"/><circle cx="349.8" cy="494.6" r="1.5"/><circle cx="349.9" cy="495.3" r="1.5"/><circle cx="349.7" cy="496.9" r="1.5"/><circle cx="349.5" cy="498.5" r="1.5"/><circle cx="349.3" cy="500.2" r="1.5"/><circle cx="349.4" cy="501.2" r="1.5"/><circle cx="349.8" cy="503.2" r="1.5"/><circle cx="349.9" cy="504.6" r="1.5"/><circle cx="349.3" cy="506.0" r="1.5"/><circle cx="350.9" cy="465.0" r="1.5"/><circle cx="351.7" cy="466.7" r="1.5"/><circle cx="350.8" cy="469.4" r="1.5"/><circle cx="350.9" cy="472.5" r="1.5"/><circle cx="351.4" cy="473.7" r="1.5"/><circle cx="351.1" cy="476.7" r="1.5"/><circle cx="351.9" cy="479.0" r="1.5"/><circle cx="350.9" cy="483.1" r="1.5"/><circle cx="351.3" cy="484.4" r="1.5"/><circle cx="351.8" cy="486.5" r="1.5"/><circle cx="351.4" cy="488.2" r="1.5"/><circle cx="351.6" cy="489.0" r="1.5"/><circle cx="351.9" cy="492.1" r="1.5"/><circle cx="351.2" cy="493.6" r="1.5"/><circle cx="351.6" cy="501.8" r="1.5"/><circle cx="351.9" cy="503.1" r="1.5"/><circle cx="351.2" cy="504.5" r="1.5"/><circle cx="351.1" cy="505.4" r="1.5"/><circle cx="353.0" cy="464.6" r="1.5"/><circle cx="352.8" cy="466.4" r="1.5"/><circle cx="352.7" cy="467.7" r="1.5"/><circle cx="353.5" cy="471.4" r="1.5"/><circle cx="353.0" cy="472.9" r="1.5"/><circle cx="352.7" cy="474.0" r="1.5"/><circle cx="352.4" cy="475.2" r="1.5"/><circle cx="353.2" cy="477.0" r="1.5"/><circle cx="353.0" cy="478.3" r="1.5"/><circle cx="353.3" cy="480.4" r="1.5"/><circle cx="353.3" cy="481.9" r="1.5"/><circle cx="353.4" cy="483.6" r="1.5"/><circle cx="353.5" cy="484.5" r="1.5"/><circle cx="353.3" cy="485.5" r="1.5"/><circle cx="352.5" cy="487.8" r="1.5"/><circle cx="352.9" cy="488.8" r="1.5"/><circle cx="353.2" cy="490.3" r="1.5"/><circle cx="352.6" cy="492.4" r="1.5"/><circle cx="353.3" cy="493.7" r="1.5"/><circle cx="353.0" cy="496.6" r="1.5"/><circle cx="352.7" cy="497.8" r="1.5"/><circle cx="353.4" cy="500.1" r="1.5"/><circle cx="353.0" cy="500.9" r="1.5"/><circle cx="353.2" cy="503.1" r="1.5"/><circle cx="354.6" cy="462.3" r="1.5"/><circle cx="354.9" cy="463.6" r="1.5"/><circle cx="354.7" cy="464.5" r="1.5"/><circle cx="354.7" cy="466.8" r="1.5"/><circle cx="354.4" cy="468.3" r="1.5"/><circle cx="354.4" cy="469.5" r="1.5"/><circle cx="354.2" cy="471.2" r="1.5"/><circle cx="355.0" cy="471.9" r="1.5"/><circle cx="354.3" cy="474.1" r="1.5"/><circle cx="354.5" cy="475.1" r="1.5"/><circle cx="354.3" cy="477.0" r="1.5"/><circle cx="354.1" cy="478.1" r="1.5"/><circle cx="355.2" cy="479.6" r="1.5"/><circle cx="355.2" cy="481.5" r="1.5"/><circle cx="354.5" cy="482.5" r="1.5"/><circle cx="354.6" cy="484.4" r="1.5"/><circle cx="354.6" cy="485.4" r="1.5"/><circle cx="354.4" cy="487.5" r="1.5"/><circle cx="354.5" cy="488.6" r="1.5"/><circle cx="354.3" cy="490.4" r="1.5"/><circle cx="354.2" cy="492.4" r="1.5"/><circle cx="354.6" cy="495.0" r="1.5"/><circle cx="354.4" cy="496.5" r="1.5"/><circle cx="354.5" cy="497.9" r="1.5"/><circle cx="354.6" cy="499.0" r="1.5"/><circle cx="354.6" cy="501.0" r="1.5"/><circle cx="354.6" cy="502.5" r="1.5"/><circle cx="355.2" cy="503.4" r="1.5"/><circle cx="354.7" cy="505.5" r="1.5"/><circle cx="356.3" cy="463.0" r="1.5"/><circle cx="356.5" cy="464.6" r="1.5"/><circle cx="355.7" cy="470.9" r="1.5"/><circle cx="356.4" cy="471.6" r="1.5"/><circle cx="355.7" cy="473.0" r="1.5"/><circle cx="356.1" cy="477.1" r="1.5"/><circle cx="355.9" cy="478.3" r="1.5"/><circle cx="356.2" cy="479.3" r="1.5"/><circle cx="356.0" cy="480.8" r="1.5"/><circle cx="356.6" cy="482.4" r="1.5"/><circle cx="356.6" cy="484.2" r="1.5"/><circle cx="356.7" cy="486.0" r="1.5"/><circle cx="356.0" cy="487.4" r="1.5"/><circle cx="355.6" cy="488.4" r="1.5"/><circle cx="356.3" cy="490.6" r="1.5"/><circle cx="356.6" cy="492.1" r="1.5"/><circle cx="356.7" cy="492.4" r="1.5"/><circle cx="355.7" cy="494.5" r="1.5"/><circle cx="355.7" cy="496.2" r="1.5"/><circle cx="355.9" cy="497.2" r="1.5"/><circle cx="356.2" cy="498.5" r="1.5"/><circle cx="356.7" cy="500.3" r="1.5"/><circle cx="356.1" cy="502.5" r="1.5"/><circle cx="357.3" cy="461.0" r="1.5"/><circle cx="357.3" cy="461.5" r="1.5"/><circle cx="357.5" cy="463.6" r="1.5"/><circle cx="357.5" cy="465.0" r="1.5"/><circle cx="357.9" cy="466.1" r="1.5"/><circle cx="357.2" cy="468.5" r="1.5"/><circle cx="357.9" cy="469.2" r="1.5"/><circle cx="357.5" cy="471.2" r="1.5"/><circle cx="358.2" cy="473.1" r="1.5"/><circle cx="357.9" cy="473.9" r="1.5"/><circle cx="357.8" cy="476.1" r="1.5"/><circle cx="358.1" cy="476.8" r="1.5"/><circle cx="357.5" cy="478.8" r="1.5"/><circle cx="357.6" cy="480.0" r="1.5"/><circle cx="357.3" cy="482.0" r="1.5"/><circle cx="357.7" cy="483.2" r="1.5"/><circle cx="358.3" cy="484.2" r="1.5"/><circle cx="357.9" cy="487.7" r="1.5"/><circle cx="357.8" cy="489.3" r="1.5"/><circle cx="358.1" cy="490.7" r="1.5"/><circle cx="357.7" cy="492.0" r="1.5"/><circle cx="358.1" cy="493.1" r="1.5"/><circle cx="357.5" cy="494.6" r="1.5"/><circle cx="358.1" cy="498.2" r="1.5"/><circle cx="358.2" cy="499.0" r="1.5"/><circle cx="357.5" cy="501.1" r="1.5"/><circle cx="358.3" cy="502.2" r="1.5"/><circle cx="358.3" cy="504.3" r="1.5"/><circle cx="359.8" cy="458.9" r="1.5"/><circle cx="359.0" cy="464.4" r="1.5"/><circle cx="359.2" cy="465.8" r="1.5"/><circle cx="359.1" cy="467.1" r="1.5"/><circle cx="359.0" cy="468.8" r="1.5"/><circle cx="359.1" cy="469.8" r="1.5"/><circle cx="359.2" cy="471.1" r="1.5"/><circle cx="359.9" cy="472.4" r="1.5"/><circle cx="359.4" cy="475.0" r="1.5"/><circle cx="359.6" cy="477.0" r="1.5"/><circle cx="359.0" cy="478.9" r="1.5"/><circle cx="359.9" cy="483.6" r="1.5"/><circle cx="359.9" cy="484.6" r="1.5"/><circle cx="359.9" cy="487.9" r="1.5"/><circle cx="359.0" cy="489.4" r="1.5"/><circle cx="359.5" cy="491.5" r="1.5"/><circle cx="359.9" cy="492.0" r="1.5"/><circle cx="359.5" cy="494.4" r="1.5"/><circle cx="359.4" cy="495.8" r="1.5"/><circle cx="359.2" cy="497.3" r="1.5"/><circle cx="359.4" cy="497.8" r="1.5"/><circle cx="359.3" cy="499.6" r="1.5"/><circle cx="359.0" cy="501.8" r="1.5"/><circle cx="360.8" cy="456.4" r="1.5"/><circle cx="360.7" cy="458.5" r="1.5"/><circle cx="361.4" cy="459.7" r="1.5"/><circle cx="360.5" cy="461.3" r="1.5"/><circle cx="361.0" cy="462.3" r="1.5"/><circle cx="361.0" cy="463.8" r="1.5"/><circle cx="361.4" cy="465.9" r="1.5"/><circle cx="361.2" cy="466.8" r="1.5"/><circle cx="360.4" cy="468.8" r="1.5"/><circle cx="360.7" cy="469.9" r="1.5"/><circle cx="361.2" cy="473.7" r="1.5"/><circle cx="361.1" cy="474.6" r="1.5"/><circle cx="361.2" cy="475.8" r="1.5"/><circle cx="360.6" cy="477.8" r="1.5"/><circle cx="361.0" cy="479.5" r="1.5"/><circle cx="360.8" cy="480.3" r="1.5"/><circle cx="361.5" cy="482.4" r="1.5"/><circle cx="361.3" cy="484.0" r="1.5"/><circle cx="361.4" cy="487.9" r="1.5"/><circle cx="361.3" cy="489.9" r="1.5"/><circle cx="360.8" cy="492.4" r="1.5"/><circle cx="360.5" cy="494.3" r="1.5"/><circle cx="360.9" cy="496.0" r="1.5"/><circle cx="361.1" cy="496.8" r="1.5"/><circle cx="361.5" cy="500.4" r="1.5"/><circle cx="362.9" cy="453.6" r="1.5"/><circle cx="362.5" cy="456.6" r="1.5"/><circle cx="362.2" cy="458.9" r="1.5"/><circle cx="362.3" cy="461.2" r="1.5"/><circle cx="362.2" cy="462.1" r="1.5"/><circle cx="363.1" cy="463.2" r="1.5"/><circle cx="362.5" cy="464.7" r="1.5"/><circle cx="363.2" cy="467.2" r="1.5"/><circle cx="363.0" cy="468.7" r="1.5"/><circle cx="362.7" cy="471.2" r="1.5"/><circle cx="362.7" cy="473.3" r="1.5"/><circle cx="363.1" cy="474.5" r="1.5"/><circle cx="363.0" cy="475.5" r="1.5"/><circle cx="362.7" cy="477.8" r="1.5"/><circle cx="363.0" cy="478.9" r="1.5"/><circle cx="362.8" cy="482.2" r="1.5"/><circle cx="363.0" cy="484.9" r="1.5"/><circle cx="362.2" cy="486.3" r="1.5"/><circle cx="362.4" cy="490.4" r="1.5"/><circle cx="362.2" cy="492.6" r="1.5"/><circle cx="362.4" cy="494.3" r="1.5"/><circle cx="362.7" cy="495.0" r="1.5"/><circle cx="362.1" cy="496.9" r="1.5"/><circle cx="363.1" cy="498.0" r="1.5"/><circle cx="362.0" cy="500.3" r="1.5"/><circle cx="364.0" cy="454.9" r="1.5"/><circle cx="363.7" cy="456.6" r="1.5"/><circle cx="363.8" cy="458.7" r="1.5"/><circle cx="364.8" cy="459.7" r="1.5"/><circle cx="364.5" cy="461.6" r="1.5"/><circle cx="363.8" cy="463.3" r="1.5"/><circle cx="363.8" cy="465.4" r="1.5"/><circle cx="364.8" cy="467.2" r="1.5"/><circle cx="364.2" cy="468.4" r="1.5"/><circle cx="364.5" cy="470.2" r="1.5"/><circle cx="364.7" cy="472.3" r="1.5"/><circle cx="363.9" cy="474.0" r="1.5"/><circle cx="363.6" cy="475.5" r="1.5"/><circle cx="363.8" cy="476.9" r="1.5"/><circle cx="364.4" cy="477.4" r="1.5"/><circle cx="364.6" cy="478.8" r="1.5"/><circle cx="363.7" cy="481.0" r="1.5"/><circle cx="364.5" cy="482.4" r="1.5"/><circle cx="364.7" cy="484.5" r="1.5"/><circle cx="364.0" cy="485.8" r="1.5"/><circle cx="364.7" cy="486.7" r="1.5"/><circle cx="363.9" cy="488.7" r="1.5"/><circle cx="364.1" cy="490.2" r="1.5"/><circle cx="363.8" cy="491.0" r="1.5"/><circle cx="364.5" cy="493.1" r="1.5"/><circle cx="364.6" cy="494.1" r="1.5"/><circle cx="363.6" cy="495.8" r="1.5"/><circle cx="363.9" cy="497.8" r="1.5"/><circle cx="364.1" cy="499.2" r="1.5"/><circle cx="364.4" cy="500.3" r="1.5"/><circle cx="363.7" cy="502.1" r="1.5"/><circle cx="365.8" cy="454.1" r="1.5"/><circle cx="365.3" cy="455.5" r="1.5"/><circle cx="365.6" cy="457.6" r="1.5"/><circle cx="365.5" cy="459.5" r="1.5"/><circle cx="365.4" cy="460.6" r="1.5"/><circle cx="365.3" cy="461.6" r="1.5"/><circle cx="365.2" cy="462.9" r="1.5"/><circle cx="366.2" cy="465.4" r="1.5"/><circle cx="365.2" cy="466.9" r="1.5"/><circle cx="365.6" cy="468.2" r="1.5"/><circle cx="365.6" cy="469.1" r="1.5"/><circle cx="366.1" cy="471.5" r="1.5"/><circle cx="365.5" cy="472.5" r="1.5"/><circle cx="365.8" cy="474.0" r="1.5"/><circle cx="365.3" cy="475.4" r="1.5"/><circle cx="365.4" cy="477.0" r="1.5"/><circle cx="365.9" cy="478.3" r="1.5"/><circle cx="366.4" cy="481.2" r="1.5"/><circle cx="365.7" cy="483.4" r="1.5"/><circle cx="365.9" cy="484.5" r="1.5"/><circle cx="365.4" cy="487.1" r="1.5"/><circle cx="365.3" cy="489.6" r="1.5"/><circle cx="366.2" cy="490.4" r="1.5"/><circle cx="365.5" cy="492.4" r="1.5"/><circle cx="365.7" cy="493.8" r="1.5"/><circle cx="365.7" cy="498.4" r="1.5"/><circle cx="366.9" cy="454.2" r="1.5"/><circle cx="367.6" cy="455.5" r="1.5"/><circle cx="367.4" cy="457.2" r="1.5"/><circle cx="367.5" cy="458.5" r="1.5"/><circle cx="366.9" cy="460.3" r="1.5"/><circle cx="367.1" cy="461.2" r="1.5"/><circle cx="367.6" cy="463.3" r="1.5"/><circle cx="367.1" cy="465.4" r="1.5"/><circle cx="366.9" cy="467.9" r="1.5"/><circle cx="367.4" cy="468.3" r="1.5"/><circle cx="367.7" cy="471.5" r="1.5"/><circle cx="367.0" cy="473.4" r="1.5"/><circle cx="367.5" cy="475.1" r="1.5"/><circle cx="367.0" cy="476.4" r="1.5"/><circle cx="367.3" cy="477.7" r="1.5"/><circle cx="366.9" cy="479.6" r="1.5"/><circle cx="367.6" cy="481.0" r="1.5"/><circle cx="367.0" cy="482.8" r="1.5"/><circle cx="367.3" cy="483.6" r="1.5"/><circle cx="368.0" cy="485.2" r="1.5"/><circle cx="366.9" cy="487.0" r="1.5"/><circle cx="367.1" cy="488.1" r="1.5"/><circle cx="367.6" cy="489.7" r="1.5"/><circle cx="367.8" cy="492.8" r="1.5"/><circle cx="367.3" cy="494.0" r="1.5"/><circle cx="368.8" cy="452.2" r="1.5"/><circle cx="368.9" cy="456.7" r="1.5"/><circle cx="368.6" cy="457.3" r="1.5"/><circle cx="368.9" cy="459.1" r="1.5"/><circle cx="368.4" cy="460.5" r="1.5"/><circle cx="368.5" cy="462.2" r="1.5"/><circle cx="369.5" cy="465.6" r="1.5"/><circle cx="368.4" cy="466.2" r="1.5"/><circle cx="369.4" cy="468.0" r="1.5"/><circle cx="369.3" cy="469.7" r="1.5"/><circle cx="368.6" cy="471.3" r="1.5"/><circle cx="369.3" cy="473.2" r="1.5"/><circle cx="369.4" cy="474.0" r="1.5"/><circle cx="368.8" cy="476.1" r="1.5"/><circle cx="368.5" cy="477.2" r="1.5"/><circle cx="368.4" cy="478.2" r="1.5"/><circle cx="368.9" cy="479.6" r="1.5"/><circle cx="369.5" cy="481.8" r="1.5"/><circle cx="369.5" cy="484.9" r="1.5"/><circle cx="368.5" cy="485.8" r="1.5"/><circle cx="369.2" cy="487.5" r="1.5"/><circle cx="369.2" cy="489.7" r="1.5"/><circle cx="369.6" cy="490.7" r="1.5"/><circle cx="368.6" cy="492.5" r="1.5"/><circle cx="368.7" cy="494.8" r="1.5"/><circle cx="368.7" cy="496.6" r="1.5"/><circle cx="370.1" cy="449.8" r="1.5"/><circle cx="370.6" cy="453.8" r="1.5"/><circle cx="370.4" cy="454.8" r="1.5"/><circle cx="370.4" cy="455.8" r="1.5"/><circle cx="370.2" cy="457.5" r="1.5"/><circle cx="370.1" cy="459.5" r="1.5"/><circle cx="370.6" cy="461.1" r="1.5"/><circle cx="370.9" cy="462.7" r="1.5"/><circle cx="370.3" cy="463.3" r="1.5"/><circle cx="370.4" cy="465.1" r="1.5"/><circle cx="370.2" cy="467.3" r="1.5"/><circle cx="371.0" cy="468.8" r="1.5"/><circle cx="370.3" cy="470.3" r="1.5"/><circle cx="370.7" cy="471.9" r="1.5"/><circle cx="370.5" cy="473.4" r="1.5"/><circle cx="370.3" cy="476.8" r="1.5"/><circle cx="371.1" cy="478.9" r="1.5"/><circle cx="371.2" cy="483.1" r="1.5"/><circle cx="370.3" cy="485.5" r="1.5"/><circle cx="370.6" cy="488.3" r="1.5"/><circle cx="371.1" cy="489.2" r="1.5"/><circle cx="370.6" cy="491.4" r="1.5"/><circle cx="371.0" cy="492.0" r="1.5"/><circle cx="371.1" cy="494.0" r="1.5"/><circle cx="372.4" cy="453.3" r="1.5"/><circle cx="372.2" cy="456.0" r="1.5"/><circle cx="372.5" cy="457.2" r="1.5"/><circle cx="371.8" cy="459.4" r="1.5"/><circle cx="372.0" cy="460.2" r="1.5"/><circle cx="372.3" cy="462.2" r="1.5"/><circle cx="372.0" cy="463.4" r="1.5"/><circle cx="372.1" cy="465.5" r="1.5"/><circle cx="371.9" cy="466.5" r="1.5"/><circle cx="372.6" cy="468.7" r="1.5"/><circle cx="371.9" cy="469.3" r="1.5"/><circle cx="372.1" cy="471.5" r="1.5"/><circle cx="371.8" cy="474.1" r="1.5"/><circle cx="371.9" cy="475.8" r="1.5"/><circle cx="371.8" cy="477.0" r="1.5"/><circle cx="372.3" cy="480.0" r="1.5"/><circle cx="372.5" cy="481.2" r="1.5"/><circle cx="372.7" cy="483.4" r="1.5"/><circle cx="371.6" cy="485.1" r="1.5"/><circle cx="372.1" cy="486.4" r="1.5"/><circle cx="371.9" cy="488.0" r="1.5"/><circle cx="372.1" cy="491.0" r="1.5"/><circle cx="373.6" cy="447.6" r="1.5"/><circle cx="373.6" cy="449.1" r="1.5"/><circle cx="373.6" cy="452.0" r="1.5"/><circle cx="373.2" cy="452.6" r="1.5"/><circle cx="373.5" cy="455.0" r="1.5"/><circle cx="374.2" cy="456.1" r="1.5"/><circle cx="373.6" cy="457.1" r="1.5"/><circle cx="374.3" cy="459.7" r="1.5"/><circle cx="373.7" cy="462.5" r="1.5"/><circle cx="373.3" cy="463.3" r="1.5"/><circle cx="374.1" cy="465.4" r="1.5"/><circle cx="374.0" cy="468.5" r="1.5"/><circle cx="373.3" cy="470.2" r="1.5"/><circle cx="373.3" cy="470.7" r="1.5"/><circle cx="373.4" cy="472.5" r="1.5"/><circle cx="373.3" cy="474.1" r="1.5"/><circle cx="374.2" cy="475.0" r="1.5"/><circle cx="373.3" cy="477.2" r="1.5"/><circle cx="373.6" cy="479.2" r="1.5"/><circle cx="374.0" cy="480.2" r="1.5"/><circle cx="374.0" cy="482.2" r="1.5"/><circle cx="374.2" cy="482.9" r="1.5"/><circle cx="374.0" cy="485.0" r="1.5"/><circle cx="373.4" cy="486.1" r="1.5"/><circle cx="373.8" cy="488.2" r="1.5"/><circle cx="373.7" cy="488.8" r="1.5"/><circle cx="373.9" cy="491.1" r="1.5"/><circle cx="373.9" cy="492.4" r="1.5"/><circle cx="375.7" cy="446.9" r="1.5"/><circle cx="374.9" cy="448.7" r="1.5"/><circle cx="375.6" cy="450.9" r="1.5"/><circle cx="375.5" cy="451.8" r="1.5"/><circle cx="375.1" cy="452.8" r="1.5"/><circle cx="375.7" cy="455.2" r="1.5"/><circle cx="375.3" cy="456.3" r="1.5"/><circle cx="375.1" cy="458.5" r="1.5"/><circle cx="375.3" cy="459.4" r="1.5"/><circle cx="375.2" cy="460.8" r="1.5"/><circle cx="375.9" cy="462.9" r="1.5"/><circle cx="375.3" cy="463.6" r="1.5"/><circle cx="375.4" cy="466.3" r="1.5"/><circle cx="375.4" cy="467.8" r="1.5"/><circle cx="375.4" cy="469.9" r="1.5"/><circle cx="374.9" cy="471.2" r="1.5"/><circle cx="374.9" cy="473.0" r="1.5"/><circle cx="375.4" cy="474.6" r="1.5"/><circle cx="375.4" cy="476.1" r="1.5"/><circle cx="375.8" cy="479.1" r="1.5"/><circle cx="375.8" cy="480.7" r="1.5"/><circle cx="375.9" cy="481.3" r="1.5"/><circle cx="375.5" cy="485.2" r="1.5"/><circle cx="375.4" cy="485.8" r="1.5"/><circle cx="375.9" cy="487.6" r="1.5"/><circle cx="377.1" cy="445.2" r="1.5"/><circle cx="377.1" cy="446.2" r="1.5"/><circle cx="376.6" cy="449.6" r="1.5"/><circle cx="376.7" cy="452.9" r="1.5"/><circle cx="377.1" cy="454.1" r="1.5"/><circle cx="377.5" cy="455.9" r="1.5"/><circle cx="377.5" cy="456.7" r="1.5"/><circle cx="376.6" cy="458.6" r="1.5"/><circle cx="377.6" cy="460.1" r="1.5"/><circle cx="377.6" cy="460.9" r="1.5"/><circle cx="377.2" cy="462.3" r="1.5"/><circle cx="376.5" cy="465.0" r="1.5"/><circle cx="377.2" cy="466.0" r="1.5"/><circle cx="377.5" cy="467.5" r="1.5"/><circle cx="376.7" cy="468.5" r="1.5"/><circle cx="376.4" cy="470.0" r="1.5"/><circle cx="376.9" cy="472.2" r="1.5"/><circle cx="376.6" cy="473.4" r="1.5"/><circle cx="376.8" cy="474.6" r="1.5"/><circle cx="376.8" cy="476.3" r="1.5"/><circle cx="376.7" cy="477.7" r="1.5"/><circle cx="376.6" cy="478.9" r="1.5"/><circle cx="376.7" cy="483.9" r="1.5"/><circle cx="377.3" cy="485.9" r="1.5"/><circle cx="379.2" cy="444.3" r="1.5"/><circle cx="378.9" cy="445.2" r="1.5"/><circle cx="378.6" cy="446.4" r="1.5"/><circle cx="379.0" cy="448.5" r="1.5"/><circle cx="378.3" cy="450.0" r="1.5"/><circle cx="379.1" cy="451.0" r="1.5"/><circle cx="378.5" cy="452.8" r="1.5"/><circle cx="378.5" cy="454.5" r="1.5"/><circle cx="378.4" cy="456.0" r="1.5"/><circle cx="378.4" cy="458.4" r="1.5"/><circle cx="378.4" cy="460.0" r="1.5"/><circle cx="378.7" cy="461.8" r="1.5"/><circle cx="378.8" cy="462.9" r="1.5"/><circle cx="378.6" cy="465.1" r="1.5"/><circle cx="378.3" cy="466.2" r="1.5"/><circle cx="378.5" cy="468.0" r="1.5"/><circle cx="378.8" cy="469.4" r="1.5"/><circle cx="378.9" cy="471.3" r="1.5"/><circle cx="378.6" cy="475.1" r="1.5"/><circle cx="378.5" cy="476.7" r="1.5"/><circle cx="378.7" cy="478.7" r="1.5"/><circle cx="378.2" cy="479.6" r="1.5"/><circle cx="378.2" cy="481.9" r="1.5"/><circle cx="380.4" cy="447.0" r="1.5"/><circle cx="380.4" cy="449.7" r="1.5"/><circle cx="380.3" cy="451.1" r="1.5"/><circle cx="380.7" cy="454.2" r="1.5"/><circle cx="380.3" cy="455.7" r="1.5"/><circle cx="379.7" cy="458.7" r="1.5"/><circle cx="380.2" cy="460.4" r="1.5"/><circle cx="380.4" cy="461.8" r="1.5"/><circle cx="380.4" cy="463.1" r="1.5"/><circle cx="379.6" cy="464.6" r="1.5"/><circle cx="380.7" cy="466.5" r="1.5"/><circle cx="380.8" cy="467.4" r="1.5"/><circle cx="380.4" cy="471.3" r="1.5"/><circle cx="380.7" cy="472.7" r="1.5"/><circle cx="379.9" cy="473.5" r="1.5"/><circle cx="380.2" cy="475.4" r="1.5"/><circle cx="380.2" cy="476.4" r="1.5"/><circle cx="380.4" cy="478.0" r="1.5"/><circle cx="382.0" cy="445.6" r="1.5"/><circle cx="381.2" cy="448.7" r="1.5"/><circle cx="381.6" cy="451.2" r="1.5"/><circle cx="381.6" cy="452.5" r="1.5"/><circle cx="381.9" cy="453.5" r="1.5"/><circle cx="382.3" cy="455.3" r="1.5"/><circle cx="381.9" cy="457.7" r="1.5"/><circle cx="382.3" cy="459.7" r="1.5"/><circle cx="381.8" cy="461.0" r="1.5"/><circle cx="381.5" cy="462.3" r="1.5"/><circle cx="381.3" cy="464.4" r="1.5"/><circle cx="382.2" cy="466.8" r="1.5"/><circle cx="381.7" cy="469.1" r="1.5"/><circle cx="381.6" cy="470.2" r="1.5"/><circle cx="381.5" cy="471.9" r="1.5"/><circle cx="382.4" cy="473.3" r="1.5"/><circle cx="381.8" cy="474.7" r="1.5"/><circle cx="383.2" cy="444.8" r="1.5"/><circle cx="383.3" cy="445.8" r="1.5"/><circle cx="383.9" cy="448.3" r="1.5"/><circle cx="383.5" cy="449.3" r="1.5"/><circle cx="383.2" cy="450.8" r="1.5"/><circle cx="383.5" cy="451.8" r="1.5"/><circle cx="383.5" cy="453.4" r="1.5"/><circle cx="383.9" cy="455.8" r="1.5"/><circle cx="383.4" cy="457.1" r="1.5"/><circle cx="383.6" cy="458.1" r="1.5"/><circle cx="383.7" cy="459.9" r="1.5"/><circle cx="383.3" cy="461.1" r="1.5"/><circle cx="383.3" cy="462.7" r="1.5"/><circle cx="383.1" cy="464.4" r="1.5"/><circle cx="383.6" cy="467.3" r="1.5"/><circle cx="383.6" cy="468.7" r="1.5"/><circle cx="383.2" cy="470.3" r="1.5"/><circle cx="383.9" cy="472.0" r="1.5"/><circle cx="385.6" cy="449.9" r="1.5"/><circle cx="385.1" cy="451.6" r="1.5"/><circle cx="385.6" cy="453.4" r="1.5"/><circle cx="384.8" cy="454.6" r="1.5"/><circle cx="384.6" cy="457.0" r="1.5"/><circle cx="384.8" cy="457.4" r="1.5"/><circle cx="385.4" cy="462.4" r="1.5"/><circle cx="384.9" cy="464.8" r="1.5"/><circle cx="384.7" cy="467.3" r="1.5"/><circle cx="385.5" cy="468.2" r="1.5"/><circle cx="386.4" cy="452.7" r="1.5"/><circle cx="386.6" cy="455.9" r="1.5"/><circle cx="386.8" cy="457.0" r="1.5"/><circle cx="387.1" cy="460.2" r="1.5"/><circle cx="386.2" cy="461.5" r="1.5"/><circle cx="386.4" cy="464.0" r="1.5"/><circle cx="386.5" cy="465.2" r="1.5"/><circle cx="386.1" cy="466.8" r="1.5"/><circle cx="390.4" cy="461.6" r="1.5"/><circle cx="391.8" cy="456.6" r="1.5"/></g>
<g fill="rgb(0,114,189)"><circle cx="363.7" cy="502.0" r="1.5"/><circle cx="371.2" cy="498.3" r="1.5"/><circle cx="366.0" cy="500.5" r="1.5"/><circle cx="369.0" cy="497.0" r="1.5"/></g>
<g font-family="'Liberation Sans', Arial, sans-serif" font-size="6.6"><text x="301.5" y="508.2" fill="rgb(0,114,189)">R=-0.508</text><text x="301.5" y="517.6" fill="rgb(0,114,189)">p&lt;0.001</text><text x="373.2" y="507" fill="rgb(126,47,142)">R=0.681</text><text x="373.2" y="516.4" fill="rgb(126,47,142)">p&lt;0.001</text></g>
<path d="M432.3 413.9V518.8H533.0" stroke="#7a7a7a" stroke-width="0.7" fill="none"/>
<path d="M432.3 518.8v-1.2 M452.4 518.8v-1.2 M472.6 518.8v-1.2 M492.7 518.8v-1.2 M512.9 518.8v-1.2 M533.0 518.8v-1.2 M432.3 518.8h1.2 M432.3 504.0h1.2 M432.3 489.1h1.2 M432.3 474.3h1.2 M432.3 459.4h1.2 M432.3 444.6h1.2 M432.3 429.7h1.2 M432.3 414.9h1.2" stroke="#7a7a7a" stroke-width="0.6"/>
<g font-family="'Liberation Sans', Arial, sans-serif" font-size="5.4" fill="#3a3a3a"><text x="432.3" y="527.7" text-anchor="middle">2000</text><text x="452.4" y="527.7" text-anchor="middle">3000</text><text x="472.6" y="527.7" text-anchor="middle">4000</text><text x="492.7" y="527.7" text-anchor="middle">5000</text><text x="512.9" y="527.7" text-anchor="middle">6000</text><text x="533.0" y="527.7" text-anchor="middle">7000</text><text x="429.1" y="520.7" text-anchor="end">4.16</text><text x="429.1" y="505.9" text-anchor="end">4.18</text><text x="429.1" y="491.0" text-anchor="end">4.2</text><text x="429.1" y="476.2" text-anchor="end">4.22</text><text x="429.1" y="461.3" text-anchor="end">4.24</text><text x="429.1" y="446.5" text-anchor="end">4.26</text><text x="429.1" y="431.6" text-anchor="end">4.28</text><text x="429.1" y="416.8" text-anchor="end">4.3</text></g>
<text x="482.6" y="410.7" text-anchor="middle" font-family="'Liberation Sans', Arial, sans-serif" font-size="8.8" font-weight="bold" fill="#000">Ankle Peak</text>
<text x="482.6" y="538.8" text-anchor="middle" font-family="'Liberation Sans', Arial, sans-serif" font-size="8.6" fill="#262626" stroke="#262626" stroke-width="0.12">Fmax [N]</text>
<text transform="translate(415.4,462.2) rotate(-90)" text-anchor="middle" font-family="'Liberation Sans', Arial, sans-serif" font-size="7.25" fill="#262626" stroke="#262626" stroke-width="0.12">Max JCF [BW]</text>
<g fill="rgb(162,20,47)"><circle cx="434.2" cy="429.5" r="1.6"/><circle cx="434.0" cy="431.6" r="1.6"/><circle cx="434.0" cy="433.7" r="1.6"/><circle cx="434.0" cy="435.8" r="1.6"/><circle cx="434.2" cy="437.9" r="1.6"/><circle cx="441.7" cy="428.2" r="1.6"/><circle cx="441.5" cy="432.4" r="1.6"/><circle cx="441.4" cy="434.5" r="1.6"/><circle cx="441.5" cy="436.6" r="1.6"/><circle cx="441.5" cy="438.7" r="1.6"/><circle cx="441.7" cy="440.8" r="1.6"/><circle cx="441.7" cy="442.9" r="1.6"/><circle cx="441.3" cy="445.0" r="1.6"/><circle cx="441.5" cy="447.1" r="1.6"/><circle cx="444.5" cy="432.1" r="1.5"/><circle cx="444.7" cy="439.1" r="1.5"/><circle cx="446.6" cy="432.0" r="1.5"/><circle cx="446.4" cy="433.2" r="1.5"/><circle cx="446.3" cy="434.3" r="1.5"/><circle cx="447.0" cy="436.3" r="1.5"/><circle cx="446.4" cy="437.4" r="1.5"/><circle cx="448.4" cy="430.0" r="1.5"/><circle cx="448.0" cy="433.8" r="1.5"/><circle cx="448.3" cy="438.0" r="1.5"/><circle cx="448.0" cy="440.1" r="1.5"/><circle cx="448.2" cy="441.1" r="1.5"/><circle cx="449.1" cy="431.9" r="1.5"/><circle cx="450.1" cy="434.9" r="1.5"/><circle cx="449.8" cy="438.4" r="1.5"/><circle cx="450.1" cy="439.5" r="1.5"/><circle cx="450.0" cy="442.5" r="1.5"/><circle cx="451.5" cy="435.2" r="1.5"/><circle cx="451.5" cy="436.6" r="1.5"/><circle cx="450.7" cy="438.2" r="1.5"/><circle cx="451.5" cy="440.3" r="1.5"/><circle cx="451.7" cy="441.2" r="1.5"/><circle cx="451.1" cy="442.8" r="1.5"/><circle cx="451.6" cy="444.9" r="1.5"/><circle cx="451.3" cy="445.9" r="1.5"/><circle cx="453.1" cy="433.2" r="1.5"/><circle cx="453.3" cy="434.2" r="1.5"/><circle cx="452.8" cy="435.6" r="1.5"/><circle cx="453.1" cy="437.1" r="1.5"/><circle cx="452.9" cy="438.3" r="1.5"/><circle cx="453.2" cy="440.5" r="1.5"/><circle cx="453.4" cy="442.8" r="1.5"/><circle cx="452.4" cy="445.1" r="1.5"/><circle cx="453.0" cy="446.5" r="1.5"/><circle cx="452.9" cy="447.6" r="1.5"/><circle cx="453.0" cy="449.5" r="1.5"/><circle cx="453.1" cy="450.3" r="1.5"/><circle cx="453.3" cy="452.8" r="1.5"/><circle cx="454.0" cy="436.0" r="1.5"/><circle cx="454.8" cy="438.0" r="1.5"/><circle cx="453.9" cy="439.0" r="1.5"/><circle cx="454.4" cy="440.9" r="1.5"/><circle cx="454.4" cy="441.6" r="1.5"/><circle cx="453.9" cy="446.7" r="1.5"/><circle cx="454.3" cy="447.8" r="1.5"/><circle cx="454.0" cy="449.7" r="1.5"/><circle cx="454.3" cy="451.3" r="1.5"/><circle cx="454.0" cy="452.2" r="1.5"/><circle cx="454.6" cy="454.2" r="1.5"/><circle cx="454.7" cy="457.1" r="1.5"/><circle cx="455.7" cy="434.4" r="1.5"/><circle cx="456.0" cy="437.7" r="1.5"/><circle cx="455.5" cy="438.8" r="1.5"/><circle cx="456.3" cy="440.2" r="1.5"/><circle cx="456.6" cy="441.8" r="1.5"/><circle cx="456.1" cy="444.1" r="1.5"/><circle cx="455.5" cy="445.5" r="1.5"/><circle cx="455.5" cy="447.2" r="1.5"/><circle cx="456.0" cy="448.2" r="1.5"/><circle cx="456.1" cy="449.1" r="1.5"/><circle cx="455.5" cy="452.7" r="1.5"/><circle cx="455.9" cy="454.4" r="1.5"/><circle cx="455.6" cy="455.4" r="1.5"/><circle cx="455.6" cy="458.8" r="1.5"/><circle cx="455.5" cy="460.4" r="1.5"/><circle cx="457.1" cy="432.7" r="1.5"/><circle cx="457.9" cy="435.3" r="1.5"/><circle cx="457.2" cy="435.8" r="1.5"/><circle cx="457.4" cy="437.5" r="1.5"/><circle cx="457.1" cy="439.5" r="1.5"/><circle cx="457.8" cy="440.4" r="1.5"/><circle cx="458.2" cy="442.0" r="1.5"/><circle cx="457.8" cy="444.4" r="1.5"/><circle cx="457.1" cy="445.5" r="1.5"/><circle cx="457.7" cy="446.7" r="1.5"/><circle cx="457.1" cy="448.4" r="1.5"/><circle cx="458.1" cy="450.2" r="1.5"/><circle cx="457.5" cy="451.4" r="1.5"/><circle cx="457.1" cy="453.4" r="1.5"/><circle cx="457.2" cy="453.9" r="1.5"/><circle cx="458.1" cy="455.4" r="1.5"/><circle cx="458.1" cy="457.6" r="1.5"/><circle cx="457.3" cy="459.0" r="1.5"/><circle cx="457.2" cy="460.0" r="1.5"/><circle cx="457.7" cy="462.3" r="1.5"/><circle cx="457.3" cy="463.6" r="1.5"/><circle cx="457.1" cy="464.2" r="1.5"/><circle cx="459.2" cy="435.5" r="1.5"/><circle cx="459.5" cy="436.0" r="1.5"/><circle cx="458.7" cy="437.6" r="1.5"/><circle cx="459.1" cy="439.1" r="1.5"/><circle cx="459.0" cy="442.0" r="1.5"/><circle cx="459.5" cy="444.0" r="1.5"/><circle cx="459.4" cy="446.9" r="1.5"/><circle cx="459.1" cy="448.1" r="1.5"/><circle cx="459.6" cy="449.5" r="1.5"/><circle cx="459.4" cy="451.7" r="1.5"/><circle cx="459.4" cy="452.9" r="1.5"/><circle cx="458.6" cy="454.4" r="1.5"/><circle cx="459.0" cy="457.6" r="1.5"/><circle cx="459.1" cy="460.9" r="1.5"/><circle cx="459.4" cy="463.2" r="1.5"/><circle cx="459.6" cy="464.8" r="1.5"/><circle cx="461.2" cy="431.5" r="1.5"/><circle cx="460.6" cy="436.6" r="1.5"/><circle cx="460.8" cy="440.3" r="1.5"/><circle cx="461.0" cy="441.1" r="1.5"/><circle cx="461.2" cy="443.0" r="1.5"/><circle cx="461.0" cy="444.2" r="1.5"/><circle cx="461.0" cy="446.7" r="1.5"/><circle cx="461.0" cy="447.6" r="1.5"/><circle cx="460.4" cy="448.8" r="1.5"/><circle cx="460.4" cy="450.4" r="1.5"/><circle cx="461.1" cy="452.7" r="1.5"/><circle cx="460.4" cy="453.6" r="1.5"/><circle cx="460.9" cy="455.2" r="1.5"/><circle cx="460.5" cy="456.8" r="1.5"/><circle cx="461.0" cy="460.1" r="1.5"/><circle cx="460.9" cy="461.5" r="1.5"/><circle cx="460.2" cy="462.6" r="1.5"/><circle cx="460.4" cy="463.9" r="1.5"/><circle cx="460.9" cy="467.2" r="1.5"/><circle cx="461.9" cy="434.6" r="1.5"/><circle cx="462.2" cy="436.6" r="1.5"/><circle cx="462.0" cy="439.0" r="1.5"/><circle cx="462.0" cy="441.0" r="1.5"/><circle cx="462.4" cy="441.9" r="1.5"/><circle cx="461.9" cy="443.6" r="1.5"/><circle cx="461.8" cy="444.8" r="1.5"/><circle cx="462.8" cy="446.9" r="1.5"/><circle cx="462.9" cy="447.8" r="1.5"/><circle cx="462.7" cy="449.8" r="1.5"/><circle cx="461.9" cy="450.8" r="1.5"/><circle cx="461.9" cy="455.8" r="1.5"/><circle cx="462.9" cy="457.7" r="1.5"/><circle cx="462.7" cy="459.0" r="1.5"/><circle cx="462.3" cy="460.4" r="1.5"/><circle cx="462.6" cy="461.6" r="1.5"/><circle cx="462.3" cy="464.9" r="1.5"/><circle cx="462.5" cy="465.6" r="1.5"/><circle cx="462.1" cy="467.9" r="1.5"/><circle cx="464.2" cy="436.6" r="1.5"/><circle cx="463.6" cy="438.2" r="1.5"/><circle cx="463.5" cy="440.3" r="1.5"/><circle cx="464.3" cy="441.1" r="1.5"/><circle cx="463.4" cy="444.5" r="1.5"/><circle cx="464.4" cy="446.0" r="1.5"/><circle cx="464.2" cy="447.5" r="1.5"/><circle cx="463.6" cy="448.9" r="1.5"/><circle cx="463.5" cy="449.8" r="1.5"/><circle cx="463.5" cy="451.8" r="1.5"/><circle cx="463.8" cy="453.6" r="1.5"/><circle cx="463.5" cy="454.9" r="1.5"/><circle cx="464.6" cy="457.4" r="1.5"/><circle cx="463.8" cy="458.9" r="1.5"/><circle cx="463.7" cy="460.8" r="1.5"/><circle cx="464.3" cy="461.7" r="1.5"/><circle cx="464.2" cy="463.5" r="1.5"/><circle cx="464.4" cy="464.8" r="1.5"/><circle cx="463.8" cy="467.1" r="1.5"/><circle cx="465.2" cy="435.6" r="1.5"/><circle cx="465.4" cy="437.8" r="1.5"/><circle cx="465.6" cy="439.3" r="1.5"/><circle cx="465.9" cy="440.4" r="1.5"/><circle cx="466.1" cy="442.2" r="1.5"/><circle cx="466.2" cy="443.4" r="1.5"/><circle cx="465.3" cy="444.3" r="1.5"/><circle cx="465.9" cy="446.0" r="1.5"/><circle cx="465.7" cy="447.6" r="1.5"/><circle cx="466.0" cy="449.4" r="1.5"/><circle cx="465.8" cy="451.1" r="1.5"/><circle cx="466.1" cy="452.3" r="1.5"/><circle cx="465.1" cy="453.6" r="1.5"/><circle cx="465.5" cy="455.4" r="1.5"/><circle cx="465.8" cy="456.3" r="1.5"/><circle cx="465.7" cy="457.8" r="1.5"/><circle cx="466.0" cy="460.1" r="1.5"/><circle cx="465.2" cy="461.7" r="1.5"/><circle cx="465.5" cy="464.4" r="1.5"/><circle cx="465.2" cy="466.2" r="1.5"/><circle cx="466.0" cy="467.9" r="1.5"/><circle cx="467.8" cy="438.0" r="1.5"/><circle cx="467.0" cy="439.9" r="1.5"/><circle cx="467.4" cy="440.7" r="1.5"/><circle cx="466.8" cy="442.1" r="1.5"/><circle cx="467.5" cy="443.4" r="1.5"/><circle cx="467.4" cy="445.3" r="1.5"/><circle cx="467.1" cy="448.7" r="1.5"/><circle cx="467.0" cy="449.8" r="1.5"/><circle cx="466.6" cy="450.8" r="1.5"/><circle cx="467.6" cy="452.4" r="1.5"/><circle cx="467.3" cy="454.5" r="1.5"/><circle cx="467.0" cy="455.6" r="1.5"/><circle cx="467.6" cy="457.2" r="1.5"/><circle cx="466.8" cy="458.8" r="1.5"/><circle cx="467.0" cy="459.8" r="1.5"/><circle cx="467.2" cy="461.6" r="1.5"/><circle cx="467.6" cy="462.8" r="1.5"/><circle cx="467.0" cy="464.3" r="1.5"/><circle cx="467.1" cy="466.5" r="1.5"/><circle cx="467.1" cy="468.3" r="1.5"/><circle cx="467.1" cy="469.0" r="1.5"/><circle cx="468.5" cy="436.4" r="1.5"/><circle cx="469.2" cy="438.7" r="1.5"/><circle cx="469.2" cy="439.5" r="1.5"/><circle cx="468.4" cy="441.7" r="1.5"/><circle cx="468.9" cy="443.1" r="1.5"/><circle cx="468.8" cy="444.5" r="1.5"/><circle cx="468.9" cy="445.5" r="1.5"/><circle cx="468.5" cy="447.8" r="1.5"/><circle cx="468.2" cy="448.3" r="1.5"/><circle cx="468.8" cy="450.8" r="1.5"/><circle cx="469.2" cy="453.8" r="1.5"/><circle cx="469.3" cy="454.6" r="1.5"/><circle cx="469.0" cy="456.6" r="1.5"/><circle cx="469.2" cy="457.5" r="1.5"/><circle cx="468.9" cy="459.8" r="1.5"/><circle cx="468.9" cy="461.1" r="1.5"/><circle cx="469.0" cy="461.8" r="1.5"/><circle cx="468.6" cy="463.9" r="1.5"/><circle cx="469.0" cy="464.7" r="1.5"/><circle cx="468.5" cy="466.8" r="1.5"/><circle cx="469.3" cy="467.9" r="1.5"/><circle cx="469.2" cy="469.8" r="1.5"/><circle cx="470.8" cy="437.6" r="1.5"/><circle cx="471.0" cy="439.2" r="1.5"/><circle cx="470.8" cy="440.6" r="1.5"/><circle cx="470.2" cy="441.8" r="1.5"/><circle cx="470.2" cy="443.1" r="1.5"/><circle cx="470.0" cy="445.0" r="1.5"/><circle cx="470.6" cy="446.0" r="1.5"/><circle cx="470.1" cy="447.1" r="1.5"/><circle cx="470.1" cy="448.7" r="1.5"/><circle cx="470.4" cy="451.1" r="1.5"/><circle cx="470.3" cy="452.0" r="1.5"/><circle cx="470.0" cy="453.4" r="1.5"/><circle cx="470.9" cy="455.2" r="1.5"/><circle cx="471.0" cy="457.0" r="1.5"/><circle cx="470.2" cy="457.5" r="1.5"/><circle cx="470.1" cy="460.0" r="1.5"/><circle cx="470.7" cy="461.2" r="1.5"/><circle cx="469.8" cy="462.7" r="1.5"/><circle cx="470.4" cy="464.4" r="1.5"/><circle cx="470.3" cy="465.6" r="1.5"/><circle cx="470.0" cy="467.2" r="1.5"/><circle cx="470.0" cy="468.3" r="1.5"/><circle cx="471.7" cy="434.7" r="1.5"/><circle cx="472.6" cy="435.7" r="1.5"/><circle cx="472.5" cy="437.1" r="1.5"/><circle cx="472.0" cy="438.8" r="1.5"/><circle cx="472.1" cy="441.0" r="1.5"/><circle cx="471.5" cy="441.8" r="1.5"/><circle cx="471.5" cy="444.7" r="1.5"/><circle cx="471.8" cy="446.3" r="1.5"/><circle cx="472.3" cy="447.5" r="1.5"/><circle cx="472.4" cy="450.0" r="1.5"/><circle cx="471.6" cy="451.2" r="1.5"/><circle cx="472.2" cy="452.2" r="1.5"/><circle cx="472.4" cy="454.0" r="1.5"/><circle cx="472.5" cy="456.0" r="1.5"/><circle cx="472.1" cy="456.8" r="1.5"/><circle cx="471.6" cy="458.4" r="1.5"/><circle cx="471.5" cy="460.2" r="1.5"/><circle cx="471.6" cy="462.0" r="1.5"/><circle cx="472.0" cy="463.0" r="1.5"/><circle cx="472.6" cy="464.8" r="1.5"/><circle cx="472.5" cy="468.0" r="1.5"/><circle cx="471.6" cy="470.0" r="1.5"/><circle cx="472.2" cy="471.5" r="1.5"/><circle cx="473.5" cy="438.9" r="1.5"/><circle cx="474.0" cy="440.7" r="1.5"/><circle cx="473.6" cy="441.1" r="1.5"/><circle cx="473.5" cy="443.6" r="1.5"/><circle cx="474.2" cy="444.9" r="1.5"/><circle cx="473.5" cy="446.3" r="1.5"/><circle cx="473.4" cy="448.1" r="1.5"/><circle cx="473.6" cy="450.5" r="1.5"/><circle cx="473.7" cy="451.8" r="1.5"/><circle cx="473.9" cy="455.3" r="1.5"/><circle cx="473.7" cy="458.4" r="1.5"/><circle cx="473.1" cy="459.9" r="1.5"/><circle cx="473.9" cy="461.4" r="1.5"/><circle cx="474.1" cy="462.7" r="1.5"/><circle cx="474.0" cy="465.0" r="1.5"/><circle cx="473.7" cy="467.3" r="1.5"/><circle cx="473.1" cy="469.0" r="1.5"/><circle cx="474.1" cy="469.7" r="1.5"/><circle cx="474.7" cy="441.4" r="1.5"/><circle cx="475.7" cy="442.5" r="1.5"/><circle cx="475.5" cy="444.6" r="1.5"/><circle cx="475.5" cy="445.4" r="1.5"/><circle cx="474.6" cy="448.0" r="1.5"/><circle cx="475.3" cy="449.9" r="1.5"/><circle cx="475.1" cy="451.5" r="1.5"/><circle cx="475.3" cy="453.3" r="1.5"/><circle cx="475.7" cy="454.3" r="1.5"/><circle cx="474.9" cy="456.3" r="1.5"/><circle cx="475.3" cy="457.5" r="1.5"/><circle cx="474.7" cy="459.7" r="1.5"/><circle cx="475.0" cy="461.0" r="1.5"/><circle cx="475.5" cy="462.0" r="1.5"/><circle cx="475.3" cy="463.4" r="1.5"/><circle cx="475.8" cy="465.7" r="1.5"/><circle cx="475.6" cy="466.8" r="1.5"/><circle cx="474.8" cy="468.2" r="1.5"/><circle cx="475.5" cy="469.7" r="1.5"/><circle cx="475.5" cy="471.7" r="1.5"/><circle cx="475.8" cy="472.6" r="1.5"/><circle cx="475.2" cy="474.0" r="1.5"/><circle cx="476.3" cy="441.0" r="1.5"/><circle cx="476.5" cy="442.1" r="1.5"/><circle cx="476.2" cy="445.4" r="1.5"/><circle cx="476.4" cy="447.2" r="1.5"/><circle cx="476.9" cy="451.4" r="1.5"/><circle cx="477.0" cy="452.5" r="1.5"/><circle cx="476.6" cy="453.7" r="1.5"/><circle cx="477.1" cy="455.1" r="1.5"/><circle cx="476.2" cy="457.3" r="1.5"/><circle cx="477.4" cy="458.5" r="1.5"/><circle cx="476.5" cy="460.7" r="1.5"/><circle cx="476.6" cy="461.4" r="1.5"/><circle cx="476.6" cy="463.6" r="1.5"/><circle cx="476.4" cy="464.6" r="1.5"/><circle cx="476.4" cy="466.2" r="1.5"/><circle cx="476.5" cy="467.3" r="1.5"/><circle cx="476.7" cy="469.2" r="1.5"/><circle cx="476.4" cy="470.1" r="1.5"/><circle cx="477.2" cy="472.4" r="1.5"/><circle cx="476.6" cy="473.5" r="1.5"/><circle cx="478.8" cy="443.6" r="1.5"/><circle cx="479.0" cy="445.3" r="1.5"/><circle cx="478.3" cy="447.3" r="1.5"/><circle cx="478.4" cy="448.7" r="1.5"/><circle cx="478.4" cy="450.8" r="1.5"/><circle cx="478.4" cy="452.4" r="1.5"/><circle cx="478.6" cy="453.6" r="1.5"/><circle cx="478.8" cy="454.6" r="1.5"/><circle cx="478.0" cy="456.8" r="1.5"/><circle cx="477.9" cy="458.2" r="1.5"/><circle cx="478.6" cy="459.2" r="1.5"/><circle cx="478.1" cy="461.1" r="1.5"/><circle cx="478.8" cy="462.8" r="1.5"/><circle cx="478.4" cy="463.7" r="1.5"/><circle cx="477.9" cy="465.2" r="1.5"/><circle cx="477.8" cy="467.1" r="1.5"/><circle cx="478.7" cy="469.3" r="1.5"/><circle cx="478.2" cy="470.8" r="1.5"/><circle cx="478.2" cy="472.3" r="1.5"/><circle cx="479.8" cy="439.7" r="1.5"/><circle cx="479.9" cy="444.1" r="1.5"/><circle cx="480.5" cy="446.0" r="1.5"/><circle cx="479.4" cy="446.8" r="1.5"/><circle cx="480.3" cy="448.9" r="1.5"/><circle cx="480.5" cy="449.7" r="1.5"/><circle cx="479.9" cy="451.4" r="1.5"/><circle cx="480.5" cy="453.3" r="1.5"/><circle cx="479.7" cy="454.2" r="1.5"/><circle cx="480.2" cy="456.3" r="1.5"/><circle cx="479.6" cy="458.9" r="1.5"/><circle cx="480.3" cy="462.4" r="1.5"/><circle cx="479.9" cy="463.8" r="1.5"/><circle cx="480.6" cy="464.7" r="1.5"/><circle cx="480.4" cy="468.2" r="1.5"/><circle cx="480.4" cy="469.0" r="1.5"/><circle cx="480.0" cy="471.4" r="1.5"/><circle cx="480.3" cy="472.0" r="1.5"/><circle cx="480.0" cy="474.3" r="1.5"/><circle cx="481.2" cy="444.5" r="1.5"/><circle cx="482.0" cy="446.5" r="1.5"/><circle cx="481.5" cy="448.3" r="1.5"/><circle cx="482.1" cy="450.3" r="1.5"/><circle cx="482.1" cy="453.2" r="1.5"/><circle cx="482.1" cy="455.7" r="1.5"/><circle cx="481.2" cy="456.5" r="1.5"/><circle cx="481.4" cy="461.4" r="1.5"/><circle cx="481.3" cy="463.2" r="1.5"/><circle cx="481.8" cy="464.2" r="1.5"/><circle cx="482.0" cy="466.1" r="1.5"/><circle cx="481.0" cy="467.7" r="1.5"/><circle cx="481.0" cy="468.5" r="1.5"/><circle cx="482.0" cy="470.3" r="1.5"/><circle cx="481.3" cy="473.7" r="1.5"/><circle cx="481.7" cy="476.2" r="1.5"/><circle cx="483.5" cy="443.8" r="1.5"/><circle cx="482.8" cy="445.4" r="1.5"/><circle cx="482.7" cy="446.9" r="1.5"/><circle cx="483.0" cy="448.6" r="1.5"/><circle cx="483.0" cy="451.2" r="1.5"/><circle cx="483.7" cy="453.4" r="1.5"/><circle cx="483.7" cy="454.5" r="1.5"/><circle cx="482.7" cy="456.0" r="1.5"/><circle cx="482.7" cy="457.5" r="1.5"/><circle cx="482.9" cy="459.2" r="1.5"/><circle cx="483.7" cy="460.4" r="1.5"/><circle cx="482.7" cy="461.7" r="1.5"/><circle cx="482.6" cy="463.1" r="1.5"/><circle cx="483.1" cy="465.6" r="1.5"/><circle cx="482.7" cy="466.2" r="1.5"/><circle cx="483.8" cy="468.4" r="1.5"/><circle cx="483.0" cy="469.5" r="1.5"/><circle cx="482.9" cy="470.7" r="1.5"/><circle cx="483.7" cy="473.2" r="1.5"/><circle cx="483.4" cy="475.2" r="1.5"/><circle cx="483.0" cy="479.0" r="1.5"/><circle cx="484.7" cy="445.7" r="1.5"/><circle cx="485.4" cy="446.9" r="1.5"/><circle cx="485.3" cy="448.4" r="1.5"/><circle cx="484.4" cy="449.9" r="1.5"/><circle cx="484.8" cy="450.7" r="1.5"/><circle cx="485.4" cy="452.8" r="1.5"/><circle cx="484.9" cy="454.4" r="1.5"/><circle cx="484.5" cy="455.3" r="1.5"/><circle cx="485.3" cy="457.6" r="1.5"/><circle cx="484.6" cy="458.8" r="1.5"/><circle cx="484.8" cy="460.5" r="1.5"/><circle cx="484.4" cy="463.1" r="1.5"/><circle cx="485.4" cy="464.2" r="1.5"/><circle cx="484.8" cy="466.5" r="1.5"/><circle cx="484.7" cy="467.9" r="1.5"/><circle cx="484.4" cy="468.7" r="1.5"/><circle cx="484.8" cy="470.7" r="1.5"/><circle cx="485.1" cy="472.0" r="1.5"/><circle cx="485.3" cy="473.2" r="1.5"/><circle cx="484.8" cy="476.4" r="1.5"/><circle cx="486.0" cy="446.2" r="1.5"/><circle cx="486.4" cy="448.4" r="1.5"/><circle cx="486.4" cy="450.1" r="1.5"/><circle cx="486.2" cy="450.7" r="1.5"/><circle cx="486.4" cy="452.0" r="1.5"/><circle cx="487.0" cy="454.5" r="1.5"/><circle cx="486.8" cy="455.5" r="1.5"/><circle cx="486.6" cy="456.6" r="1.5"/><circle cx="486.4" cy="458.3" r="1.5"/><circle cx="486.0" cy="460.2" r="1.5"/><circle cx="486.3" cy="461.0" r="1.5"/><circle cx="485.9" cy="463.4" r="1.5"/><circle cx="486.8" cy="464.3" r="1.5"/><circle cx="486.0" cy="467.7" r="1.5"/><circle cx="486.8" cy="469.0" r="1.5"/><circle cx="486.5" cy="470.2" r="1.5"/><circle cx="485.9" cy="471.7" r="1.5"/><circle cx="486.0" cy="473.4" r="1.5"/><circle cx="486.5" cy="475.1" r="1.5"/><circle cx="488.5" cy="446.8" r="1.5"/><circle cx="488.5" cy="451.3" r="1.5"/><circle cx="487.7" cy="452.2" r="1.5"/><circle cx="487.8" cy="454.8" r="1.5"/><circle cx="488.5" cy="456.7" r="1.5"/><circle cx="488.5" cy="458.9" r="1.5"/><circle cx="488.0" cy="459.6" r="1.5"/><circle cx="488.3" cy="462.3" r="1.5"/><circle cx="488.2" cy="463.9" r="1.5"/><circle cx="487.9" cy="465.5" r="1.5"/><circle cx="487.6" cy="467.3" r="1.5"/><circle cx="488.4" cy="468.7" r="1.5"/><circle cx="487.7" cy="470.1" r="1.5"/><circle cx="488.3" cy="471.7" r="1.5"/><circle cx="488.1" cy="473.7" r="1.5"/><circle cx="488.3" cy="474.3" r="1.5"/><circle cx="487.5" cy="476.7" r="1.5"/><circle cx="488.5" cy="477.6" r="1.5"/><circle cx="488.2" cy="479.0" r="1.5"/><circle cx="489.5" cy="452.2" r="1.5"/><circle cx="490.0" cy="453.7" r="1.5"/><circle cx="490.0" cy="455.4" r="1.5"/><circle cx="489.8" cy="458.6" r="1.5"/><circle cx="490.0" cy="459.4" r="1.5"/><circle cx="490.0" cy="461.2" r="1.5"/><circle cx="489.3" cy="463.7" r="1.5"/><circle cx="489.2" cy="467.2" r="1.5"/><circle cx="489.7" cy="468.1" r="1.5"/><circle cx="489.8" cy="470.0" r="1.5"/><circle cx="489.9" cy="472.7" r="1.5"/><circle cx="489.9" cy="474.9" r="1.5"/><circle cx="489.8" cy="475.6" r="1.5"/><circle cx="489.3" cy="478.9" r="1.5"/><circle cx="491.6" cy="449.9" r="1.5"/><circle cx="491.7" cy="451.8" r="1.5"/><circle cx="491.2" cy="455.0" r="1.5"/><circle cx="491.8" cy="456.3" r="1.5"/><circle cx="491.2" cy="457.8" r="1.5"/><circle cx="491.7" cy="458.9" r="1.5"/><circle cx="491.5" cy="461.0" r="1.5"/><circle cx="491.5" cy="462.0" r="1.5"/><circle cx="490.8" cy="464.4" r="1.5"/><circle cx="491.1" cy="465.8" r="1.5"/><circle cx="491.4" cy="466.6" r="1.5"/><circle cx="491.4" cy="469.1" r="1.5"/><circle cx="491.1" cy="470.3" r="1.5"/><circle cx="491.5" cy="471.9" r="1.5"/><circle cx="491.5" cy="472.7" r="1.5"/><circle cx="491.0" cy="474.8" r="1.5"/><circle cx="491.1" cy="476.2" r="1.5"/><circle cx="490.8" cy="477.9" r="1.5"/><circle cx="491.4" cy="479.4" r="1.5"/><circle cx="491.2" cy="480.7" r="1.5"/><circle cx="491.1" cy="482.0" r="1.5"/><circle cx="492.3" cy="451.7" r="1.5"/><circle cx="492.8" cy="452.8" r="1.5"/><circle cx="492.4" cy="455.3" r="1.5"/><circle cx="492.7" cy="456.4" r="1.5"/><circle cx="492.4" cy="458.2" r="1.5"/><circle cx="492.3" cy="459.2" r="1.5"/><circle cx="492.6" cy="461.0" r="1.5"/><circle cx="493.2" cy="462.8" r="1.5"/><circle cx="492.3" cy="463.6" r="1.5"/><circle cx="492.7" cy="464.9" r="1.5"/><circle cx="492.3" cy="466.3" r="1.5"/><circle cx="493.4" cy="468.1" r="1.5"/><circle cx="493.0" cy="471.7" r="1.5"/><circle cx="493.1" cy="472.7" r="1.5"/><circle cx="493.3" cy="473.6" r="1.5"/><circle cx="493.0" cy="476.7" r="1.5"/><circle cx="492.7" cy="478.3" r="1.5"/><circle cx="493.3" cy="481.6" r="1.5"/><circle cx="493.9" cy="452.7" r="1.5"/><circle cx="494.6" cy="454.1" r="1.5"/><circle cx="495.0" cy="456.2" r="1.5"/><circle cx="494.8" cy="457.8" r="1.5"/><circle cx="495.0" cy="459.1" r="1.5"/><circle cx="493.8" cy="460.0" r="1.5"/><circle cx="494.5" cy="462.4" r="1.5"/><circle cx="493.9" cy="463.0" r="1.5"/><circle cx="494.9" cy="465.4" r="1.5"/><circle cx="494.5" cy="466.1" r="1.5"/><circle cx="494.2" cy="467.7" r="1.5"/><circle cx="494.1" cy="469.3" r="1.5"/><circle cx="494.5" cy="471.3" r="1.5"/><circle cx="493.8" cy="472.6" r="1.5"/><circle cx="494.1" cy="473.9" r="1.5"/><circle cx="494.7" cy="476.5" r="1.5"/><circle cx="494.6" cy="479.0" r="1.5"/><circle cx="493.9" cy="480.6" r="1.5"/><circle cx="494.7" cy="481.5" r="1.5"/><circle cx="495.8" cy="453.5" r="1.5"/><circle cx="495.5" cy="455.2" r="1.5"/><circle cx="495.8" cy="457.1" r="1.5"/><circle cx="496.4" cy="460.5" r="1.5"/><circle cx="495.6" cy="462.1" r="1.5"/><circle cx="496.5" cy="464.0" r="1.5"/><circle cx="496.4" cy="465.5" r="1.5"/><circle cx="496.3" cy="468.6" r="1.5"/><circle cx="496.1" cy="470.6" r="1.5"/><circle cx="496.3" cy="473.9" r="1.5"/><circle cx="495.7" cy="475.4" r="1.5"/><circle cx="495.7" cy="476.8" r="1.5"/><circle cx="496.4" cy="478.0" r="1.5"/><circle cx="495.4" cy="479.6" r="1.5"/><circle cx="496.1" cy="480.6" r="1.5"/><circle cx="496.2" cy="483.7" r="1.5"/><circle cx="497.0" cy="454.5" r="1.5"/><circle cx="497.7" cy="455.8" r="1.5"/><circle cx="497.9" cy="459.9" r="1.5"/><circle cx="497.8" cy="461.2" r="1.5"/><circle cx="497.5" cy="461.9" r="1.5"/><circle cx="498.0" cy="465.0" r="1.5"/><circle cx="497.9" cy="466.6" r="1.5"/><circle cx="497.1" cy="468.5" r="1.5"/><circle cx="497.2" cy="469.6" r="1.5"/><circle cx="497.1" cy="471.4" r="1.5"/><circle cx="497.3" cy="472.6" r="1.5"/><circle cx="497.3" cy="476.2" r="1.5"/><circle cx="498.0" cy="479.0" r="1.5"/><circle cx="498.1" cy="480.5" r="1.5"/><circle cx="498.1" cy="481.7" r="1.5"/><circle cx="497.0" cy="483.6" r="1.5"/><circle cx="498.7" cy="455.1" r="1.5"/><circle cx="499.1" cy="456.7" r="1.5"/><circle cx="499.5" cy="459.0" r="1.5"/><circle cx="499.5" cy="460.5" r="1.5"/><circle cx="499.0" cy="461.7" r="1.5"/><circle cx="498.9" cy="462.9" r="1.5"/><circle cx="499.3" cy="464.1" r="1.5"/><circle cx="498.8" cy="465.6" r="1.5"/><circle cx="499.7" cy="469.4" r="1.5"/><circle cx="499.2" cy="470.8" r="1.5"/><circle cx="498.8" cy="472.1" r="1.5"/><circle cx="498.8" cy="473.3" r="1.5"/><circle cx="499.7" cy="475.0" r="1.5"/><circle cx="498.8" cy="476.4" r="1.5"/><circle cx="499.7" cy="478.1" r="1.5"/><circle cx="499.4" cy="479.2" r="1.5"/><circle cx="499.1" cy="480.6" r="1.5"/><circle cx="499.3" cy="482.7" r="1.5"/><circle cx="501.4" cy="453.7" r="1.5"/><circle cx="501.1" cy="456.8" r="1.5"/><circle cx="500.2" cy="457.6" r="1.5"/><circle cx="500.7" cy="459.5" r="1.5"/><circle cx="500.5" cy="460.3" r="1.5"/><circle cx="500.3" cy="462.1" r="1.5"/><circle cx="501.2" cy="463.6" r="1.5"/><circle cx="500.9" cy="464.8" r="1.5"/><circle cx="501.2" cy="466.6" r="1.5"/><circle cx="501.1" cy="468.5" r="1.5"/><circle cx="500.8" cy="470.1" r="1.5"/><circle cx="501.1" cy="471.7" r="1.5"/><circle cx="500.7" cy="472.5" r="1.5"/><circle cx="500.6" cy="474.5" r="1.5"/><circle cx="500.6" cy="475.5" r="1.5"/><circle cx="500.4" cy="477.8" r="1.5"/><circle cx="500.6" cy="479.2" r="1.5"/><circle cx="501.3" cy="482.4" r="1.5"/><circle cx="502.0" cy="457.3" r="1.5"/><circle cx="501.9" cy="458.3" r="1.5"/><circle cx="502.3" cy="460.5" r="1.5"/><circle cx="501.8" cy="461.5" r="1.5"/><circle cx="502.1" cy="462.8" r="1.5"/><circle cx="502.6" cy="466.1" r="1.5"/><circle cx="501.8" cy="469.4" r="1.5"/><circle cx="502.8" cy="470.2" r="1.5"/><circle cx="502.4" cy="471.9" r="1.5"/><circle cx="502.0" cy="473.2" r="1.5"/><circle cx="502.0" cy="474.6" r="1.5"/><circle cx="502.6" cy="476.9" r="1.5"/><circle cx="502.8" cy="477.7" r="1.5"/><circle cx="502.9" cy="479.2" r="1.5"/><circle cx="502.4" cy="481.0" r="1.5"/><circle cx="502.8" cy="483.0" r="1.5"/><circle cx="504.4" cy="458.0" r="1.5"/><circle cx="504.1" cy="459.8" r="1.5"/><circle cx="503.8" cy="461.1" r="1.5"/><circle cx="503.6" cy="463.0" r="1.5"/><circle cx="503.9" cy="464.0" r="1.5"/><circle cx="503.6" cy="465.1" r="1.5"/><circle cx="503.4" cy="466.9" r="1.5"/><circle cx="503.6" cy="468.3" r="1.5"/><circle cx="503.7" cy="471.7" r="1.5"/><circle cx="503.4" cy="472.9" r="1.5"/><circle cx="504.4" cy="475.1" r="1.5"/><circle cx="504.0" cy="475.9" r="1.5"/><circle cx="504.4" cy="477.4" r="1.5"/><circle cx="504.3" cy="479.4" r="1.5"/><circle cx="504.0" cy="480.0" r="1.5"/><circle cx="503.6" cy="482.3" r="1.5"/><circle cx="505.6" cy="458.7" r="1.5"/><circle cx="506.1" cy="466.1" r="1.5"/><circle cx="505.7" cy="467.7" r="1.5"/><circle cx="506.2" cy="468.9" r="1.5"/><circle cx="505.5" cy="471.2" r="1.5"/><circle cx="505.5" cy="472.2" r="1.5"/><circle cx="506.0" cy="474.1" r="1.5"/><circle cx="505.8" cy="475.8" r="1.5"/><circle cx="505.3" cy="477.1" r="1.5"/><circle cx="505.5" cy="477.7" r="1.5"/><circle cx="505.8" cy="479.4" r="1.5"/><circle cx="505.9" cy="481.1" r="1.5"/><circle cx="505.8" cy="483.0" r="1.5"/><circle cx="506.9" cy="460.9" r="1.5"/><circle cx="507.5" cy="462.2" r="1.5"/><circle cx="507.8" cy="463.9" r="1.5"/><circle cx="507.4" cy="465.7" r="1.5"/><circle cx="506.6" cy="467.5" r="1.5"/><circle cx="507.6" cy="469.0" r="1.5"/><circle cx="507.5" cy="472.0" r="1.5"/><circle cx="507.7" cy="477.1" r="1.5"/><circle cx="507.6" cy="479.2" r="1.5"/><circle cx="506.7" cy="481.7" r="1.5"/><circle cx="509.3" cy="457.1" r="1.5"/><circle cx="508.8" cy="462.2" r="1.5"/><circle cx="509.2" cy="463.2" r="1.5"/><circle cx="509.3" cy="465.2" r="1.5"/><circle cx="509.2" cy="466.3" r="1.5"/><circle cx="508.8" cy="468.3" r="1.5"/><circle cx="509.0" cy="469.4" r="1.5"/><circle cx="509.3" cy="472.3" r="1.5"/><circle cx="508.5" cy="473.5" r="1.5"/><circle cx="508.5" cy="475.6" r="1.5"/><circle cx="509.1" cy="477.2" r="1.5"/><circle cx="508.9" cy="479.9" r="1.5"/><circle cx="508.6" cy="481.2" r="1.5"/><circle cx="510.5" cy="464.2" r="1.5"/><circle cx="510.4" cy="465.3" r="1.5"/><circle cx="510.8" cy="468.6" r="1.5"/><circle cx="510.2" cy="470.7" r="1.5"/><circle cx="510.5" cy="471.5" r="1.5"/><circle cx="510.5" cy="473.2" r="1.5"/><circle cx="509.8" cy="474.8" r="1.5"/><circle cx="510.4" cy="475.9" r="1.5"/><circle cx="510.2" cy="477.1" r="1.5"/><circle cx="510.2" cy="479.3" r="1.5"/><circle cx="511.9" cy="462.8" r="1.5"/><circle cx="512.5" cy="464.4" r="1.5"/><circle cx="512.2" cy="466.4" r="1.5"/><circle cx="511.7" cy="467.8" r="1.5"/><circle cx="512.0" cy="469.3" r="1.5"/><circle cx="512.6" cy="470.4" r="1.5"/><circle cx="511.9" cy="472.6" r="1.5"/><circle cx="511.6" cy="474.8" r="1.5"/><circle cx="512.2" cy="476.2" r="1.5"/><circle cx="512.4" cy="478.5" r="1.5"/><circle cx="512.4" cy="479.3" r="1.5"/><circle cx="513.4" cy="463.7" r="1.5"/><circle cx="513.9" cy="465.6" r="1.5"/><circle cx="513.6" cy="466.7" r="1.5"/><circle cx="514.1" cy="467.7" r="1.5"/><circle cx="513.8" cy="469.9" r="1.5"/><circle cx="513.1" cy="471.3" r="1.5"/><circle cx="514.0" cy="472.0" r="1.5"/><circle cx="514.1" cy="477.4" r="1.5"/><circle cx="515.0" cy="466.0" r="1.5"/><circle cx="515.7" cy="470.0" r="1.5"/><circle cx="515.2" cy="473.4" r="1.5"/><circle cx="518.0" cy="473.1" r="1.5"/><circle cx="482.2" cy="438.0" r="1.5"/><circle cx="485.0" cy="440.0" r="1.5"/><circle cx="477.0" cy="436.5" r="1.5"/><circle cx="489.0" cy="445.0" r="1.5"/><circle cx="493.0" cy="448.0" r="1.5"/><circle cx="503.0" cy="453.5" r="1.5"/><circle cx="508.5" cy="457.0" r="1.5"/><circle cx="522.8" cy="468.5" r="1.6"/><circle cx="522.7" cy="470.6" r="1.6"/><circle cx="522.5" cy="472.7" r="1.6"/><circle cx="522.8" cy="474.8" r="1.6"/><circle cx="522.6" cy="486.9" r="1.5"/><circle cx="531.0" cy="472.1" r="1.6"/><circle cx="531.0" cy="474.2" r="1.6"/><circle cx="530.8" cy="478.4" r="1.6"/><circle cx="531.0" cy="491.0" r="1.5"/><circle cx="498.5" cy="486.0" r="1.5"/><circle cx="499.0" cy="490.0" r="1.5"/><circle cx="498.0" cy="492.7" r="1.5"/><circle cx="499.5" cy="496.9" r="1.5"/><circle cx="498.5" cy="502.0" r="1.5"/><circle cx="498.5" cy="507.0" r="1.5"/><circle cx="492.3" cy="484.1" r="1.6"/><circle cx="492.6" cy="486.2" r="1.6"/><circle cx="511.0" cy="482.0" r="1.6"/><circle cx="510.8" cy="484.0" r="1.6"/><circle cx="511.1" cy="486.0" r="1.6"/><circle cx="510.8" cy="488.0" r="1.6"/><circle cx="510.9" cy="490.0" r="1.6"/><circle cx="466.8" cy="487.5" r="1.5"/><circle cx="506.8" cy="453.4" r="1.5"/><circle cx="471.0" cy="431.5" r="1.5"/><circle cx="488.0" cy="436.5" r="1.5"/></g>
<circle cx="470" cy="464.8" r="1.8" fill="#fff" opacity="0.8"/>
<g font-family="'Liberation Sans', Arial, sans-serif" font-size="6.6" fill="rgb(162,20,47)"><text x="491.7" y="432.5">R=-0.691</text><text x="491.7" y="442">p&lt;0.001</text></g>
<g font-family="'Liberation Sans', Arial, sans-serif" font-size="6.9" fill="#1a1a1a" stroke="#1a1a1a" stroke-width="0.1"><text x="448" y="498" textLength="30" lengthAdjust="spacingAndGlyphs">Glut Med 1</text><text x="448" y="505.7" textLength="24.5" lengthAdjust="spacingAndGlyphs">Gas Med</text><text x="448" y="514" textLength="18.3" lengthAdjust="spacingAndGlyphs">Soleus</text></g>
<circle cx="438.6" cy="495.3" r="1.4" fill="rgb(0,114,189)"/><circle cx="438.6" cy="503.6" r="1.4" fill="rgb(126,47,142)"/><circle cx="438.6" cy="511.9" r="1.4" fill="rgb(162,20,47)"/>
</svg></body></html>
